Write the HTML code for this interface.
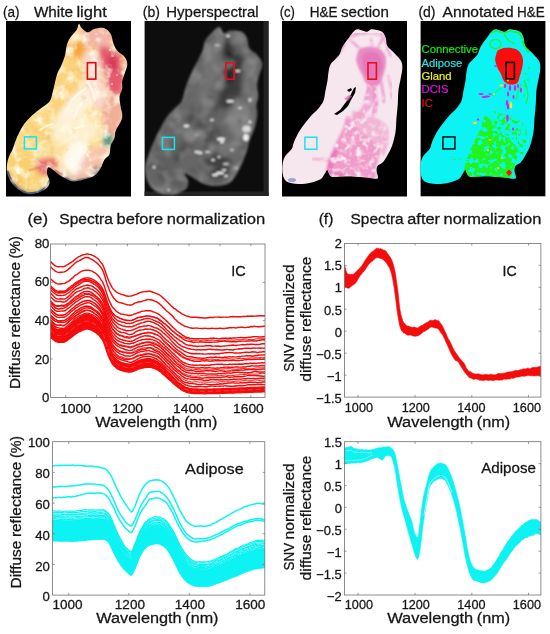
<!DOCTYPE html>
<html><head><meta charset="utf-8"><title>Figure</title>
<style>
html,body{margin:0;padding:0;background:#fff}
svg{display:block}
text{font-family:"Liberation Sans",sans-serif;fill:#161616;stroke:#161616;stroke-width:.28px}
</style></head><body>
<svg width="550" height="634" viewBox="0 0 550 634">
<defs>
<filter id="b1" x="-20%" y="-20%" width="140%" height="140%"><feGaussianBlur stdDeviation="0.6"/></filter>
<filter id="b2" x="-10%" y="-10%" width="120%" height="120%"><feGaussianBlur stdDeviation="1.1"/></filter>
<filter id="b25" x="-30%" y="-30%" width="160%" height="160%"><feGaussianBlur stdDeviation="2.4"/></filter>
<filter id="texa" color-interpolation-filters="sRGB" x="0" y="0" width="100%" height="100%"><feTurbulence type="fractalNoise" baseFrequency="0.09" numOctaves="3" seed="4" result="n"/><feColorMatrix in="n" type="matrix" values="0 0 0 0 1  0 0 0 0 .98  0 0 0 0 .9  2.8 0 0 0 -1.3" result="w"/><feComposite in="w" in2="SourceGraphic" operator="in" result="wi"/><feColorMatrix in="n" type="matrix" values="0 0 0 0 .95  0 0 0 0 .70  0 0 0 0 .38  0 -2.4 0 0 .85" result="d"/><feComposite in="d" in2="SourceGraphic" operator="in" result="di"/><feMerge><feMergeNode in="SourceGraphic"/><feMergeNode in="di"/><feMergeNode in="wi"/></feMerge></filter>
<filter id="texb" color-interpolation-filters="sRGB" x="0" y="0" width="100%" height="100%"><feTurbulence type="fractalNoise" baseFrequency="0.07" numOctaves="2" seed="9" result="n"/><feColorMatrix in="n" type="matrix" values="0 0 0 0 .56  0 0 0 0 .56  0 0 0 0 .56  2.2 0 0 0 -1.0" result="w"/><feComposite in="w" in2="SourceGraphic" operator="in" result="wi"/><feColorMatrix in="n" type="matrix" values="0 0 0 0 .2  0 0 0 0 .2  0 0 0 0 .2  0 -1.8 0 0 .72" result="d"/><feComposite in="d" in2="SourceGraphic" operator="in" result="di"/><feMerge><feMergeNode in="SourceGraphic"/><feMergeNode in="di"/><feMergeNode in="wi"/></feMerge></filter>
<filter id="texc" color-interpolation-filters="sRGB" x="0" y="0" width="100%" height="100%"><feTurbulence type="fractalNoise" baseFrequency="0.16" numOctaves="2" seed="5" result="n"/><feColorMatrix in="n" type="matrix" values="0 0 0 0 .98  0 0 0 0 .93  0 0 0 0 .96  3.2 0 0 0 -1.45" result="w"/><feComposite in="w" in2="SourceGraphic" operator="in" result="wi"/><feMerge><feMergeNode in="SourceGraphic"/><feMergeNode in="wi"/></feMerge></filter>
<filter id="texd" color-interpolation-filters="sRGB" x="0" y="0" width="100%" height="100%"><feTurbulence type="fractalNoise" baseFrequency="0.22" numOctaves="2" seed="11" result="n"/><feColorMatrix in="n" type="matrix" values="0 0 0 0 .05  0 0 0 0 .953  0 0 0 0 .953  14 0 0 0 -7.6" result="w"/><feComposite in="w" in2="SourceGraphic" operator="in" result="wi"/><feMerge><feMergeNode in="SourceGraphic"/><feMergeNode in="wi"/></feMerge></filter>
<filter id="texd2" color-interpolation-filters="sRGB" x="0" y="0" width="100%" height="100%"><feTurbulence type="fractalNoise" baseFrequency="0.25" numOctaves="2" seed="2" result="n"/><feColorMatrix in="n" type="matrix" values="0 0 0 0 .05  0 0 0 0 .953  0 0 0 0 .953  14 0 0 0 -5.6" result="w"/><feComposite in="w" in2="SourceGraphic" operator="in" result="wi"/><feMerge><feMergeNode in="SourceGraphic"/><feMergeNode in="wi"/></feMerge></filter>
<filter id="b3" x="-30%" y="-30%" width="160%" height="160%"><feGaussianBlur stdDeviation="2.2"/></filter>
<filter id="b4" x="-30%" y="-30%" width="160%" height="160%"><feGaussianBlur stdDeviation="4"/></filter>
</defs>
<rect width="550" height="634" fill="#fff"/>
<text x="3.1" y="16.7" font-size="15.2" textLength="16.5" lengthAdjust="spacingAndGlyphs">(a)</text>
<text x="33.9" y="16.7" font-size="15.2" textLength="39.1" lengthAdjust="spacingAndGlyphs">White</text>
<text x="76.4" y="16.7" font-size="15.2" textLength="30.4" lengthAdjust="spacingAndGlyphs">light</text>
<text x="142.8" y="16.7" font-size="15.2" textLength="17.1" lengthAdjust="spacingAndGlyphs">(b)</text>
<text x="166.3" y="16.7" font-size="15.2" textLength="92.4" lengthAdjust="spacingAndGlyphs">Hyperspectral</text>
<text x="279.7" y="16.7" font-size="15.2" textLength="15.3" lengthAdjust="spacingAndGlyphs">(c)</text>
<text x="309.7" y="16.7" font-size="15.2" textLength="27.8" lengthAdjust="spacingAndGlyphs">H&amp;E</text>
<text x="340.9" y="16.7" font-size="15.2" textLength="48.0" lengthAdjust="spacingAndGlyphs">section</text>
<text x="418.4" y="16.7" font-size="15.2" textLength="17.1" lengthAdjust="spacingAndGlyphs">(d)</text>
<text x="442.6" y="16.7" font-size="15.2" textLength="71.0" lengthAdjust="spacingAndGlyphs">Annotated</text>
<text x="517.0" y="16.7" font-size="15.2" textLength="27.7" lengthAdjust="spacingAndGlyphs">H&amp;E</text>
<clipPath id="ca"><path d="M78.9,23.9C79.7,23.5 79.9,26.3 81.4,27.7C82.9,29.1 85.7,32.1 87.8,32.3C89.9,32.5 91.4,29.7 94.2,29.0C97.0,28.3 101.7,27.3 104.4,28.2C107.2,29.1 109.2,31.6 110.7,34.1C112.2,36.6 112.2,40.2 113.3,43.0C114.4,45.8 115.2,48.3 117.1,50.6C119.0,52.9 123.0,54.7 124.7,57.0C126.4,59.3 127.3,61.8 127.3,64.6C127.3,67.3 125.5,70.7 124.7,73.5C123.9,76.3 122.6,78.7 122.2,81.2C121.8,83.8 122.6,86.3 122.2,88.8C121.8,91.3 119.9,93.5 119.6,96.4C119.3,99.3 120.1,102.5 120.5,106.0C120.9,109.5 123.0,113.6 122.2,117.7C121.4,121.8 117.1,127.1 115.8,130.5C114.5,133.9 115.3,135.6 114.5,138.1C113.7,140.6 111.5,142.9 110.7,145.7C109.9,148.4 110.5,152.3 109.4,154.6C108.4,156.9 105.9,157.4 104.4,159.7C102.9,162.0 102.0,166.0 100.5,168.6C99.0,171.2 97.7,173.3 95.4,175.0C93.1,176.7 90.1,177.7 86.5,178.8C82.9,179.9 77.6,181.6 73.8,181.4C70.0,181.2 66.8,179.2 63.6,177.5C60.4,175.8 57.2,172.9 54.7,171.2C52.2,169.5 49.7,167.0 48.4,167.4C47.1,167.8 46.9,171.4 47.1,173.7C47.3,176.0 49.6,179.1 49.6,181.4C49.6,183.7 49.0,185.8 47.1,187.7C45.2,189.6 41.4,191.7 38.2,192.8C35.0,193.9 31.2,194.5 28.0,194.1C24.8,193.7 21.9,192.2 19.1,190.3C16.4,188.4 13.5,185.6 11.5,182.6C9.5,179.6 7.8,175.8 7.1,172.4C6.4,169.0 7.0,165.1 7.4,162.3C7.8,159.5 8.7,157.6 9.5,155.5C10.3,153.4 11.5,151.9 12.5,149.5C13.5,147.1 14.3,143.9 15.5,141.0C16.6,138.1 17.9,135.2 19.4,132.3C20.9,129.4 22.4,126.3 24.5,123.5C26.6,120.7 29.1,118.2 32.0,115.5C34.9,112.8 39.1,109.8 42.0,107.5C44.9,105.2 47.9,103.8 49.6,101.5C51.3,99.2 51.4,96.9 52.2,93.9C53.1,90.9 53.9,87.1 54.7,83.7C55.6,80.3 56.2,76.5 57.3,73.5C58.4,70.5 59.8,68.9 61.1,65.9C62.4,62.9 64.0,59.1 64.9,55.7C65.8,52.3 65.9,48.5 66.7,45.5C67.5,42.5 68.4,40.4 70.0,37.9C71.6,35.4 74.9,32.6 76.4,30.3C77.9,28.0 78.1,24.3 78.9,23.9Z"/></clipPath>
<rect x="6" y="21" width="125" height="175.5" fill="#000"/>
<g clip-path="url(#ca)"><g filter="url(#texa)"><rect x="0" y="15" width="140" height="190" fill="#fbe09a"/>
<g filter="url(#b25)">
<path d="M68.5,42.5C71.7,41.1 82.0,40.8 85.0,42.5C88.0,44.2 87.5,49.9 86.6,52.8C85.7,55.7 82.6,58.8 79.7,59.7C76.8,60.6 71.7,59.5 69.4,58.0C67.1,56.5 66.2,53.6 66.0,51.0C65.8,48.4 65.3,43.9 68.5,42.5Z" fill="#f5a63c" opacity="1"/>
<path d="M81.5,26.0C85.8,23.8 103.6,23.2 109.0,26.0C114.4,28.8 114.6,38.5 114.0,42.5C113.4,46.5 109.9,49.1 105.6,50.0C101.3,50.9 92.1,49.4 88.4,47.6C84.7,45.8 84.4,42.6 83.2,39.0C82.0,35.4 77.2,28.2 81.5,26.0Z" fill="#f2b4aa" opacity="0.95"/>
<path d="M104.0,46.0C106.9,46.2 112.0,49.7 116.0,52.0C120.0,54.3 126.3,56.4 128.0,59.7C129.7,63.0 126.8,67.5 126.0,71.8C125.2,76.1 124.0,81.4 123.0,85.6C122.0,89.8 122.3,95.6 120.0,97.0C117.7,98.4 111.4,97.3 109.0,94.0C106.6,90.7 107.0,82.1 105.6,77.0C104.2,71.9 101.6,67.5 100.4,63.2C99.2,58.9 98.1,53.9 98.7,51.0C99.3,48.1 101.1,45.8 104.0,46.0Z" fill="#e24c68" opacity="0.9"/>
<path d="M108.0,57.0C109.0,55.0 114.5,56.2 116.0,58.0C117.5,59.8 118.0,66.0 117.0,68.0C116.0,70.0 111.5,71.8 110.0,70.0C108.5,68.2 107.0,59.0 108.0,57.0Z" fill="#d02848" opacity="0.7"/>
<path d="M109.0,94.0C112.0,92.7 118.7,93.0 121.0,96.0C123.3,99.0 123.0,106.6 123.0,112.0C123.0,117.4 123.2,124.6 121.0,128.6C118.8,132.6 113.2,137.4 110.0,136.0C106.8,134.6 103.2,125.3 102.0,120.0C100.8,114.7 101.8,108.3 103.0,104.0C104.2,99.7 106.0,95.3 109.0,94.0Z" fill="#f1aa9a" opacity="0.9"/>
<path d="M86.6,50.0C89.1,48.7 95.1,49.5 98.0,54.0C100.9,58.5 102.5,70.2 104.0,77.0C105.5,83.8 107.7,89.5 107.0,95.0C106.3,100.5 102.8,109.2 100.0,110.0C97.2,110.8 92.7,104.2 90.0,100.0C87.3,95.8 85.2,91.3 84.0,85.0C82.8,78.7 82.6,67.8 83.0,62.0C83.4,56.2 84.1,51.3 86.6,50.0Z" fill="#f9d9cb" opacity="1"/>
<path d="M66.0,58.0C70.0,55.5 79.0,56.3 82.0,60.0C85.0,63.7 85.2,74.2 84.0,80.0C82.8,85.8 79.0,90.0 75.0,95.0C71.0,100.0 64.2,106.2 60.0,110.0C55.8,113.8 51.3,120.5 50.0,118.0C48.7,115.5 50.7,102.2 52.0,95.0C53.3,87.8 55.7,81.2 58.0,75.0C60.3,68.8 62.0,60.5 66.0,58.0Z" fill="#fbd27c" opacity="1"/>
<path d="M70.0,98.0C75.0,92.3 82.3,87.7 86.0,88.0C89.7,88.3 92.3,96.0 92.0,100.0C91.7,104.0 88.3,107.8 84.0,112.0C79.7,116.2 70.7,123.3 66.0,125.0C61.3,126.7 55.3,126.5 56.0,122.0C56.7,117.5 65.0,103.7 70.0,98.0Z" fill="#fdf2de" opacity="1"/>
<path d="M52.0,124.0C56.3,120.2 75.7,118.8 83.0,119.0C90.3,119.2 94.5,121.5 96.0,125.0C97.5,128.5 98.5,137.2 92.0,140.0C85.5,142.8 63.7,144.7 57.0,142.0C50.3,139.3 47.7,127.8 52.0,124.0Z" fill="#fdf0ce" opacity="1"/>
<path d="M68.8,146.0C72.6,142.5 82.3,139.6 86.0,143.0C89.7,146.4 92.7,161.2 91.0,166.5C89.3,171.8 80.7,175.4 76.0,175.0C71.3,174.6 64.2,168.8 63.0,164.0C61.8,159.2 65.0,149.5 68.8,146.0Z" fill="#fffbf2" opacity="1"/>
<path d="M87.7,152.0C92.8,146.6 103.8,145.1 106.6,147.5C109.4,149.9 106.7,161.4 104.3,166.5C101.9,171.6 96.7,175.8 92.0,178.0C87.3,180.2 76.7,184.3 76.0,180.0C75.3,175.7 82.6,157.4 87.7,152.0Z" fill="#f6c0ac" opacity="0.9"/>
<path d="M28.6,164.0C31.8,161.8 47.6,157.6 52.3,158.0C57.0,158.4 58.0,163.7 57.0,166.5C56.0,169.3 49.9,174.2 46.0,175.0C42.1,175.8 36.3,172.8 33.4,171.0C30.5,169.2 25.5,166.2 28.6,164.0Z" fill="#e4626a" opacity="0.9"/>
<path d="M9.7,152.0C13.5,148.8 24.3,147.6 28.6,150.0C32.9,152.4 33.7,161.0 35.7,166.5C37.7,172.0 41.7,178.8 40.5,183.0C39.3,187.2 32.9,191.5 28.6,192.0C24.3,192.5 18.3,189.8 14.5,186.0C10.7,182.2 6.8,174.7 6.0,169.0C5.2,163.3 5.9,155.2 9.7,152.0Z" fill="#f9d070" opacity="1"/>
<path d="M22.0,128.0C25.7,122.0 35.0,113.7 40.0,112.0C45.0,110.3 50.3,113.3 52.0,118.0C53.7,122.7 53.7,134.7 50.0,140.0C46.3,145.3 35.3,148.7 30.0,150.0C24.7,151.3 19.3,151.7 18.0,148.0C16.7,144.3 18.3,134.0 22.0,128.0Z" fill="#fbd680" opacity="1"/>
<path d="M6.0,176.0C8.5,176.4 14.6,184.8 19.2,187.7C23.8,190.6 28.9,193.6 33.4,193.6C37.9,193.6 43.6,187.3 46.0,187.7C48.4,188.1 54.0,194.4 48.0,196.0C42.0,197.6 17.3,198.8 10.0,197.0C2.7,195.2 4.7,188.5 4.0,185.0C3.3,181.5 3.5,175.6 6.0,176.0Z" fill="#3a4c6c" opacity="0.9"/>
<path d="M103.0,135.7C104.0,133.3 109.9,131.8 111.4,133.4C112.9,135.0 113.0,142.8 112.0,145.2C111.0,147.5 107.0,149.1 105.5,147.5C104.0,145.9 102.0,138.0 103.0,135.7Z" fill="#4c9488" opacity="0.95"/>
<path d="M93.0,169.0C94.2,167.2 98.6,165.2 99.6,166.5C100.6,167.8 100.2,175.2 99.0,177.0C97.8,178.8 93.5,178.3 92.5,177.0C91.5,175.7 91.8,170.8 93.0,169.0Z" fill="#5a6468" opacity="0.8"/>
<path d="M121.0,59.0C122.0,57.3 126.8,59.3 128.0,61.0C129.2,62.7 129.0,67.3 128.0,69.0C127.0,70.7 123.2,72.7 122.0,71.0C120.8,69.3 120.0,60.7 121.0,59.0Z" fill="#f0c4a0" opacity="0.9"/>
<path d="M62.0,170.0C64.8,170.0 70.7,174.7 75.0,176.0C79.3,177.3 86.2,176.7 88.0,178.0C89.8,179.3 89.0,183.0 86.0,184.0C83.0,185.0 74.7,185.3 70.0,184.0C65.3,182.7 59.3,178.3 58.0,176.0C56.7,173.7 59.2,170.0 62.0,170.0Z" fill="#c8a0a0" opacity="0.7"/>
</g>
<g fill="none" filter="url(#b1)" stroke-linecap="round" stroke-linejoin="round">
<path d="M7.5,172 L11.5,182.6 L19.1,190.3 L28,194.1 L38.2,192.8 L47.1,187.7 L49.6,181.4" stroke="#3c4e70" stroke-width="3" opacity=".85"/>
<path d="M63.6,177.5 L73.8,181.4 L86.5,178.8 L95.4,175 L100.5,168.6" stroke="#56607a" stroke-width="2.4" opacity=".7"/>
<path d="M47.5,170 L49,166.5 L55,170 L63.6,176" stroke="#d85c5c" stroke-width="2.6" opacity=".75"/>
<path d="M30,170 L38,168 L46,164" stroke="#e0706a" stroke-width="2.5" opacity=".35"/>
</g>
<g fill="none" stroke="#fffdf6" stroke-width="2" opacity=".7" filter="url(#b1)" stroke-linecap="round">
<path d="M66.0,112.0L72.0,100.0L80.0,92.0L86.0,88.0"/>
<path d="M74.0,118.0L78.0,108.0L84.0,100.0"/>
<path d="M88.0,82.0L92.0,90.0L95.0,100.0"/>
<path d="M70.0,132.0L76.0,128.0L84.0,126.0"/>
<path d="M78.0,152.0L84.0,150.0L88.0,156.0"/>
<path d="M40.0,130.0L46.0,126.0L52.0,124.0"/>
</g>
<g fill="#fff" opacity=".9">
<circle cx="110" cy="50" r="0.8"/>
<circle cx="113" cy="56" r="0.7"/>
<circle cx="117" cy="75" r="0.7"/>
<circle cx="112" cy="84" r="0.8"/>
<circle cx="100" cy="122" r="0.7"/>
<circle cx="104" cy="126" r="0.6"/>
<circle cx="96" cy="120" r="0.6"/>
<circle cx="20" cy="184" r="0.7"/>
<circle cx="30" cy="188" r="0.7"/>
<circle cx="14" cy="178" r="0.6"/>
<circle cx="60" cy="172" r="0.6"/>
<circle cx="96" cy="34" r="0.7"/>
<circle cx="103" cy="33" r="0.6"/>
<circle cx="90" cy="160" r="0.7"/>
</g>
</g></g>
<rect x="87.4" y="62.7" width="8.4" height="16.4" fill="none" stroke="#dc0a14" stroke-width="1.6"/>
<rect x="24.4" y="136.9" width="12" height="12" fill="none" stroke="#10e6f0" stroke-width="1.5"/>
<clipPath id="cb"><path d="M219.0,26.7C221.1,26.7 222.2,32.5 224.1,33.1C226.0,33.7 227.4,30.7 230.4,30.5C233.4,30.3 239.1,30.5 241.9,31.8C244.7,33.1 245.7,35.4 247.0,38.2C248.3,41.0 247.8,45.6 249.5,48.4C251.2,51.1 255.1,52.2 257.2,54.7C259.3,57.2 261.9,60.4 262.3,63.6C262.7,66.8 260.6,70.4 259.7,73.8C258.8,77.2 257.4,80.2 257.2,84.0C257.0,87.8 258.5,93.2 258.4,96.7C258.3,100.2 256.7,101.9 256.5,105.0C256.3,108.1 257.5,111.5 257.2,115.3C256.9,119.1 255.9,123.8 254.6,128.0C253.3,132.2 250.8,136.9 249.5,140.7C248.2,144.5 248.3,147.1 247.0,150.9C245.7,154.7 243.6,159.8 241.9,163.6C240.2,167.4 238.9,170.5 236.8,173.8C234.7,177.1 232.6,181.2 229.2,183.2C225.8,185.2 220.7,185.9 216.4,186.0C212.2,186.1 207.9,185.6 203.7,184.0C199.5,182.4 194.2,178.2 191.0,176.5C187.8,174.8 185.0,173.0 184.6,173.8C184.2,174.6 188.2,178.9 188.4,181.4C188.6,183.9 188.0,187.0 185.9,189.1C183.8,191.2 179.5,193.3 175.7,194.2C171.9,195.0 166.8,195.0 163.0,194.2C159.2,193.3 155.6,191.6 152.8,189.1C150.1,186.6 147.8,182.7 146.5,178.9C145.2,175.1 144.8,170.4 145.2,166.2C145.6,161.9 147.5,157.7 149.0,153.4C150.5,149.2 152.2,144.9 154.1,140.7C156.0,136.5 158.2,132.2 160.5,128.0C162.8,123.8 165.1,119.1 168.1,115.3C171.1,111.5 176.0,107.6 178.3,105.1C180.6,102.5 180.8,103.1 182.1,100.0C183.4,96.9 184.4,90.9 185.9,86.5C187.4,82.1 189.3,77.6 191.0,73.8C192.7,70.0 194.2,67.4 196.1,63.6C198.0,59.8 200.9,54.7 202.4,50.9C203.9,47.1 203.5,43.7 205.0,40.7C206.5,37.7 209.1,35.4 211.4,33.1C213.7,30.8 216.9,26.7 219.0,26.7Z"/></clipPath>
<clipPath id="cbp"><rect x="144.6" y="21" width="123.9" height="175"/></clipPath>
<rect x="144.6" y="21" width="123.9" height="175" fill="#0d0d0d"/>
<rect x="263.5" y="21" width="5" height="175" fill="#222"/>
<rect x="144.6" y="191.5" width="123.9" height="4.5" fill="#242424"/>
<g clip-path="url(#cbp)"><g filter="url(#b2)"><g clip-path="url(#cb)"><g filter="url(#texb)"><rect x="140" y="15" width="135" height="190" fill="#666666"/>
<g filter="url(#b25)">
<path d="M232,46 L234,62 L233,84 L228,100" fill="none" stroke="#363636" stroke-width="19" stroke-linecap="round" stroke-linejoin="round" opacity=".9"/><path d="M224,100 L212,112 L200,124 L188,140 L178,156" fill="none" stroke="#3a3a3a" stroke-width="6" stroke-linecap="round" stroke-linejoin="round" opacity=".6"/>
<path d="M229,44 L230,80" fill="none" stroke="#1e1e1e" stroke-width="6" stroke-linecap="round" opacity=".8"/>
<ellipse cx="211" cy="64" rx="8" ry="24" fill="#747474" opacity="0.9"/>
<ellipse cx="250" cy="80" rx="8" ry="22" fill="#6e6e6e" opacity="0.9"/>
<ellipse cx="238" cy="40" rx="8" ry="7" fill="#7c7c7c" opacity="0.85"/>
<ellipse cx="204" cy="96" rx="8" ry="12" fill="#727272" opacity="0.8"/>
<ellipse cx="240" cy="120" rx="12" ry="18" fill="#828282" opacity="0.9"/>
<ellipse cx="232" cy="150" rx="10" ry="12" fill="#6a6a6a" opacity="0.8"/>
<ellipse cx="166" cy="162" rx="12" ry="22" fill="#5c5c5c" opacity="0.9"/>
<ellipse cx="186" cy="130" rx="8" ry="10" fill="#6c6c6c" opacity="0.8"/>
<ellipse cx="212" cy="134" rx="9" ry="9" fill="#484848" opacity="0.75"/>
<ellipse cx="217" cy="166" rx="15" ry="13" fill="#3c3c3c" opacity="0.85"/>
<ellipse cx="180" cy="182" rx="6" ry="6" fill="#505050" opacity="0.6"/>
</g>
<g filter="url(#b1)" fill="#f0f0f0">
<ellipse cx="246.5" cy="129" rx="4.2" ry="3.6"/>
<ellipse cx="246" cy="137.5" rx="2.8" ry="3.6"/>
<ellipse cx="250" cy="122" rx="1.5" ry="1.5"/>
<ellipse cx="230.4" cy="101.2" rx="4" ry="1.3"/>
<ellipse cx="237.6" cy="71" rx="3" ry="1"/>
<ellipse cx="217.5" cy="45.3" rx="3" ry="1"/>
<ellipse cx="226" cy="164" rx="3" ry="1.5"/>
<ellipse cx="220" cy="173" rx="4" ry="1.3"/>
<ellipse cx="200" cy="153" rx="2.5" ry="1.2"/>
<ellipse cx="186" cy="126" rx="2" ry="1.2"/>
<ellipse cx="197" cy="135" rx="2" ry="1"/>
<ellipse cx="154" cy="167" rx="1.5" ry="1.5"/>
<ellipse cx="168.7" cy="190" rx="1.5" ry="1.2"/>
<ellipse cx="228" cy="36" rx="2" ry="1"/>
<ellipse cx="208" cy="152" rx="3" ry="1"/>
<ellipse cx="222" cy="142" rx="2" ry="1.2"/>
<ellipse cx="236" cy="168" rx="2" ry="1.5"/>
<ellipse cx="240" cy="108" rx="2" ry="1"/>
<ellipse cx="212" cy="120" rx="2" ry="1"/>
<ellipse cx="232" cy="150" rx="2" ry="1"/>
<ellipse cx="250" cy="100" rx="1.5" ry="2"/>
<ellipse cx="213" cy="160" rx="2" ry="1"/>
<ellipse cx="219" cy="157" rx="1.5" ry="1"/>
<ellipse cx="224" cy="170" rx="2.5" ry="1"/>
<ellipse cx="215" cy="175" rx="3" ry="1.2"/>
<ellipse cx="226" cy="176" rx="2" ry="1"/>
<ellipse cx="221" cy="139" rx="4" ry="1.5"/>
<ellipse cx="198" cy="152" rx="3.5" ry="1.2"/>
<ellipse cx="186.5" cy="126" rx="3" ry="1.2"/>
</g></g></g></g></g>
<rect x="225.8" y="62.8" width="8.4" height="16.4" fill="none" stroke="#e60f18" stroke-width="1.6"/>
<rect x="162.4" y="137.4" width="12" height="12" fill="none" stroke="#10e6f0" stroke-width="1.5"/>
<clipPath id="cc"><path d="M357.8,29.3C360.0,29.3 364.4,31.8 366.7,31.8C369.0,31.8 369.2,29.3 371.8,29.3C374.4,29.3 379.7,30.3 382.0,31.8C384.3,33.3 384.9,35.9 385.8,38.2C386.7,40.5 385.6,43.3 387.1,45.8C388.6,48.3 392.4,50.8 394.7,53.4C397.0,56.0 399.8,58.5 401.1,61.1C402.4,63.7 402.4,65.9 402.3,68.7C402.2,71.5 401.4,74.5 400.8,78.0C400.2,81.5 399.0,85.7 398.5,90.0C398.0,94.3 398.1,99.3 397.8,104.0C397.5,108.7 396.9,113.3 396.5,118.0C396.1,122.7 396.2,127.3 395.5,132.0C394.8,136.7 393.4,142.0 392.0,146.0C390.6,150.0 388.6,153.2 387.0,156.0C385.4,158.8 384.2,160.8 382.6,162.5C381.0,164.2 378.5,164.6 377.5,166.0C376.5,167.4 376.5,168.9 376.5,171.0C376.5,173.1 379.1,177.4 377.5,178.5C375.9,179.6 370.6,177.9 366.7,177.6C362.8,177.2 358.2,176.6 354.0,176.4C349.8,176.2 345.1,176.4 341.3,176.4C337.5,176.4 333.4,177.5 331.1,176.4C328.8,175.3 328.4,170.4 327.3,170.0C326.2,169.6 325.8,172.3 324.7,173.8C323.6,175.3 323.2,177.4 320.9,178.9C318.6,180.4 314.5,181.8 310.7,182.7C306.9,183.5 302.0,184.2 298.0,184.0C294.0,183.8 289.1,183.1 286.5,181.4C283.9,179.7 283.3,176.8 282.7,173.8C282.1,170.8 282.3,166.6 282.7,163.6C283.1,160.6 283.8,158.4 285.3,156.0C286.8,153.6 290.1,151.5 291.6,149.1C293.1,146.7 292.9,144.4 294.2,141.4C295.5,138.4 297.4,134.5 299.3,131.3C301.2,128.1 303.5,125.2 305.6,122.4C307.7,119.6 309.9,117.0 312.0,114.7C314.1,112.4 316.5,110.7 318.4,108.4C320.3,106.1 322.3,103.7 323.5,100.7C324.7,97.7 324.8,93.9 325.5,90.5C326.2,87.1 327.0,83.5 327.5,80.4C328.0,77.3 328.0,74.7 328.5,72.0C329.0,69.3 329.4,66.6 330.5,64.5C331.6,62.4 333.5,61.2 335.0,59.5C336.5,57.8 338.4,56.3 339.6,54.4C340.8,52.5 341.1,49.9 342.0,48.0C342.9,46.1 343.8,44.8 345.0,43.0C346.2,41.2 348.1,38.9 349.5,37.0C350.9,35.1 352.1,33.1 353.5,31.8C354.9,30.5 355.6,29.3 357.8,29.3Z"/></clipPath>
<rect x="282" y="21" width="125" height="175.5" fill="#000"/>
<g clip-path="url(#cc)"><rect x="275" y="15" width="135" height="190" fill="#f6e7ef"/>
<g filter="url(#texc)">
<g filter="url(#b2)">
<g fill="none" stroke="#ec94c8" stroke-linecap="round">
<path d="M374.0,84.0L375.0,94.0L376.0,104.0L374.0,114.0" stroke-width="4"/>
<path d="M369.0,84.0L367.0,94.0L364.0,106.0" stroke-width="2.5"/>
<path d="M381.0,82.0L383.0,92.0L384.0,102.0" stroke-width="2.5"/>
<path d="M362.0,52.0L356.0,45.0L350.0,40.0" stroke-width="2.2"/>
<path d="M378.0,48.0L381.0,42.0L383.0,37.0" stroke-width="2"/>
<path d="M372.0,47.0L371.0,39.0" stroke-width="1.6"/>
<path d="M350.0,37.0L358.0,33.5L366.0,33.0L374.0,33.0L381.0,34.5L385.5,40.0" stroke-width="2.6"/>
<path d="M386.0,42.0L387.5,50.0L391.0,56.0" stroke-width="2"/>
<path d="M388.0,76.0L391.0,86.0L392.0,98.0" stroke-width="1.8"/>
<path d="M345.0,44.0L340.0,52.0L336.0,58.0" stroke-width="1.5"/>
</g>
<path d="M373,82 L372,94 L368,106 L360,114 L352,122" fill="none" stroke="#ee98c8" stroke-width="7" stroke-linecap="round" stroke-linejoin="round" opacity=".8"/>
<path d="M348.0,116.0C345.0,115.5 344.8,124.0 343.0,128.0C341.2,132.0 339.0,135.8 337.0,140.0C335.0,144.2 332.7,148.8 331.0,153.0C329.3,157.2 327.7,161.3 327.0,165.0C326.3,168.7 324.8,173.0 327.0,175.0C329.2,177.0 335.2,176.6 340.0,177.0C344.8,177.4 350.2,177.3 356.0,177.5C361.8,177.7 371.7,179.6 375.0,178.0C378.3,176.4 375.3,171.3 376.0,168.0C376.7,164.7 378.3,161.2 379.0,158.0C379.7,154.8 381.2,152.0 380.0,149.0C378.8,146.0 375.2,143.0 372.0,140.0C368.8,137.0 365.0,135.0 361.0,131.0C357.0,127.0 351.0,116.5 348.0,116.0Z" fill="#f09cca"/>
<path d="M336,150 L331,162 L330,174 L345,176" fill="none" stroke="#e870b4" stroke-width="5" stroke-linejoin="round" opacity=".8"/>
<path d="M352.0,112.0C352.8,109.2 361.3,112.7 366.0,114.0C370.7,115.3 376.3,117.7 380.0,120.0C383.7,122.3 386.7,124.3 388.0,128.0C389.3,131.7 388.7,137.3 388.0,142.0C387.3,146.7 385.3,154.8 384.0,156.0C382.7,157.2 382.0,151.7 380.0,149.0C378.0,146.3 375.2,143.0 372.0,140.0C368.8,137.0 364.3,135.7 361.0,131.0C357.7,126.3 351.2,114.8 352.0,112.0Z" fill="#f0a6cc" opacity=".75"/>
<path d="M312,159 L322,159.5 L331,160" fill="none" stroke="#f0a0c8" stroke-width="2"/>
</g></g>
<g filter="url(#b2)"><path d="M359.5,49.5C361.2,48.3 364.7,47.0 367.8,46.8C370.9,46.6 375.2,46.9 378.0,48.1C380.8,49.3 383.1,51.9 384.4,54.0C385.7,56.1 385.9,58.3 386.0,60.9C386.1,63.5 385.6,66.8 385.0,69.5C384.4,72.2 383.5,74.6 382.7,77.0C381.9,79.4 381.7,82.5 380.0,84.0C378.3,85.5 375.1,86.3 372.7,86.0C370.3,85.7 367.3,84.3 365.5,82.4C363.7,80.5 363.2,77.0 362.0,74.5C360.8,72.0 359.3,69.9 358.3,67.5C357.3,65.1 356.4,62.4 356.2,60.1C356.0,57.9 356.8,55.8 357.3,54.0C357.9,52.2 357.8,50.7 359.5,49.5Z" fill="#ea8cc4"/>
<path d="M363.0,55.0C365.0,51.9 372.8,51.3 376.0,52.5C379.2,53.7 381.3,58.2 382.0,62.0C382.7,65.8 381.7,72.0 380.0,75.0C378.3,78.0 374.7,80.7 372.0,80.0C369.3,79.3 365.5,75.2 364.0,71.0C362.5,66.8 361.0,58.1 363.0,55.0Z" fill="#e274b8" opacity=".85"/></g>
<path d="M334,114 L340,110 L346,102 L350,96 L354,88 L356,87 L355,93 L351,100 L348,106 L343,111 L337,115Z" fill="#000"/>
<path d="M352,90 L349,92 L347,90 L351,88Z" fill="#000"/>
<path d="M344,99 L349,95 L352,96 L348,101Z" fill="#e060a8" opacity=".7"/>
<ellipse cx="292" cy="180" rx="4" ry="2" fill="#6a78c0" opacity=".6" filter="url(#b1)"/>
</g>
<rect x="368" y="62.8" width="8.4" height="16.4" fill="none" stroke="#e60f18" stroke-width="1.6"/>
<rect x="304.9" y="137.2" width="12" height="12" fill="none" stroke="#10e6f0" stroke-width="1.5"/>
<rect x="420.6" y="21" width="124.8" height="175.3" fill="#000"/>
<g transform="translate(138,0)"><g clip-path="url(#cc)"><rect x="275" y="15" width="135" height="190" fill="#0cf3f3"/>
<g filter="url(#texd)">
<path d="M348.0,116.0C345.0,115.5 344.8,124.0 343.0,128.0C341.2,132.0 339.0,135.8 337.0,140.0C335.0,144.2 332.7,148.8 331.0,153.0C329.3,157.2 327.7,161.3 327.0,165.0C326.3,168.7 324.8,173.0 327.0,175.0C329.2,177.0 335.2,176.6 340.0,177.0C344.8,177.4 350.2,177.3 356.0,177.5C361.8,177.7 371.7,179.6 375.0,178.0C378.3,176.4 375.3,171.3 376.0,168.0C376.7,164.7 378.3,161.2 379.0,158.0C379.7,154.8 381.2,152.0 380.0,149.0C378.8,146.0 375.2,143.0 372.0,140.0C368.8,137.0 365.0,135.0 361.0,131.0C357.0,127.0 351.0,116.5 348.0,116.0Z" fill="#22f31a"/>
</g>
<g filter="url(#texd2)">
<path d="M352.0,112.0C352.8,109.2 361.3,112.7 366.0,114.0C370.7,115.3 376.3,117.7 380.0,120.0C383.7,122.3 386.7,124.3 388.0,128.0C389.3,131.7 388.7,137.3 388.0,142.0C387.3,146.7 385.3,154.8 384.0,156.0C382.7,157.2 382.0,151.7 380.0,149.0C378.0,146.3 375.2,143.0 372.0,140.0C368.8,137.0 364.3,135.7 361.0,131.0C357.7,126.3 351.2,114.8 352.0,112.0Z" fill="#22f31a"/>
<path d="M311,158 L322,159.5 L332,160" fill="none" stroke="#22f31a" stroke-width="2.2"/>
</g>
<path d="M350,34 L358,31 L366,33 L372,31 L381,33 L385,39 L386,46" fill="none" stroke="#22f31a" stroke-width="1.6"/>
<path d="M386,80 L389,88 L390,96 L388,104" fill="none" stroke="#22f31a" stroke-width="1.2"/>
<path d="M366,34 L370,40 L377,44" fill="none" stroke="#22f31a" stroke-width="1.2"/>
<path d="M383,84 L380,92 L378,100" fill="none" stroke="#22f31a" stroke-width="1"/>
<ellipse cx="357.5" cy="44" rx="5.5" ry="4.5" fill="none" stroke="#22f31a" stroke-width="1.2"/>
<path d="M384,41 L387,46 L390.5,52.5" fill="none" stroke="#22f31a" stroke-width="2"/>
<path d="M352,96 L358,92 L363,88" fill="none" stroke="#22f31a" stroke-width="1"/>
<circle cx="388" cy="74" r=".9" fill="#22f31a"/>
<circle cx="390" cy="80" r=".9" fill="#22f31a"/>
<circle cx="387" cy="86" r=".9" fill="#22f31a"/>
<circle cx="391" cy="68" r=".9" fill="#22f31a"/>
<circle cx="386" cy="96" r=".9" fill="#22f31a"/>
<path d="M360.1,50.3C361.7,49.2 364.9,48.0 367.8,47.8C370.7,47.6 375.0,48.0 377.6,49.1C380.2,50.2 382.2,52.4 383.4,54.4C384.6,56.4 384.9,58.5 385.0,60.9C385.1,63.3 384.4,66.5 383.9,69.1C383.3,71.7 382.5,74.2 381.7,76.5C380.9,78.8 380.8,81.7 379.3,83.0C377.8,84.3 374.9,84.9 372.7,84.6C370.5,84.3 367.8,83.2 366.2,81.4C364.6,79.6 364.0,76.3 362.9,74.0C361.8,71.7 360.2,69.8 359.3,67.5C358.4,65.2 357.4,62.3 357.2,60.1C357.0,57.9 357.8,56.0 358.3,54.4C358.8,52.8 358.5,51.4 360.1,50.3Z" fill="#fb0d0d"/>
<path d="M368.5,172.5 L371,170 L373.8,172.5 L371,175.6Z" fill="#fb0d0d" stroke="#fb0d0d" stroke-width="1" stroke-linejoin="round"/>
<ellipse cx="367" cy="86" rx="1.3" ry="2" fill="#f010f0"/>
<ellipse cx="372" cy="88" rx="1.2" ry="3" fill="#f010f0"/>
<ellipse cx="377" cy="88" rx="1.2" ry="3" fill="#f010f0"/>
<ellipse cx="370" cy="94" rx="1" ry="2.5" fill="#f010f0"/>
<ellipse cx="375.5" cy="97" rx="1" ry="2" fill="#f010f0"/>
<ellipse cx="380" cy="86" rx="1" ry="2" fill="#f010f0"/>
<ellipse cx="369" cy="103" rx="1.2" ry="3" fill="#f010f0"/>
<ellipse cx="343" cy="94" rx="2.5" ry="0.9" fill="#f010f0"/>
<ellipse cx="349" cy="96.5" rx="3" ry="0.9" fill="#f010f0"/>
<ellipse cx="370" cy="106.5" rx="1.1" ry="3" fill="#f010f0"/>
<ellipse cx="369.5" cy="118" rx="1.2" ry="3.5" fill="#f010f0"/>
<ellipse cx="346" cy="97" rx="2.5" ry="1" fill="#f010f0"/>
<ellipse cx="352" cy="94" rx="1.5" ry="0.8" fill="#f010f0"/>
<ellipse cx="375" cy="129" rx="1" ry="1.5" fill="#f010f0"/>
<ellipse cx="358" cy="66" rx="2" ry="0.8" fill="#f010f0"/>
<ellipse cx="383" cy="90" rx="1" ry="2.5" fill="#f010f0"/>
<ellipse cx="340" cy="119.6" rx="1.2" ry="1" fill="#f010f0"/>
<ellipse cx="373" cy="105" rx="1.2" ry="3.5" fill="#f4f410"/>
<ellipse cx="363.5" cy="85.5" rx="2.2" ry="1" fill="#f4f410"/>
<ellipse cx="337" cy="123" rx="2" ry="1.2" fill="#f4f410"/>
<ellipse cx="356" cy="94" rx="1" ry="1" fill="#f4f410"/>
<ellipse cx="352" cy="140" rx="1.5" ry="1" fill="#f4f410"/>
<ellipse cx="360" cy="168" rx="1.5" ry="1" fill="#f4f410"/>
<ellipse cx="370" cy="80" rx="1" ry="1.5" fill="#f4f410"/>
<ellipse cx="350" cy="150" rx="1" ry="1.5" fill="#f4f410"/>
<ellipse cx="364" cy="158" rx="1.5" ry="0.8" fill="#f4f410"/>
</g></g>
<rect x="506" y="62.4" width="8.4" height="16.4" fill="none" stroke="#000" stroke-width="1.6"/>
<rect x="442.9" y="136.9" width="12" height="12" fill="none" stroke="#000" stroke-width="1.4"/>
<text x="421.5" y="53.4" font-size="11.3" style="fill:#10f010;stroke:#10f010;stroke-width:.2px">Connective</text>
<text x="421.5" y="66.7" font-size="11.3" style="fill:#20e8e8;stroke:#20e8e8;stroke-width:.2px">Adipose</text>
<text x="421.5" y="80.1" font-size="11.3" style="fill:#f0f010;stroke:#f0f010;stroke-width:.2px">Gland</text>
<text x="421.5" y="93.4" font-size="11.3" style="fill:#e010e0;stroke:#e010e0;stroke-width:.2px">DCIS</text>
<text x="421.5" y="106.8" font-size="11.3" style="fill:#f01010;stroke:#f01010;stroke-width:.2px">IC</text>
<text x="27.5" y="224.4" font-size="15.2" textLength="20.6" lengthAdjust="spacingAndGlyphs">(e)</text>
<text x="59.3" y="224.4" font-size="15.2" textLength="53.6" lengthAdjust="spacingAndGlyphs">Spectra</text>
<text x="116.5" y="224.4" font-size="15.2" textLength="46.6" lengthAdjust="spacingAndGlyphs">before</text>
<text x="166.7" y="224.4" font-size="15.2" textLength="98.6" lengthAdjust="spacingAndGlyphs">normalization</text>
<text x="318.7" y="224.2" font-size="15.2" textLength="14.7" lengthAdjust="spacingAndGlyphs">(f)</text>
<text x="350.5" y="224.2" font-size="15.2" textLength="53.2" lengthAdjust="spacingAndGlyphs">Spectra</text>
<text x="407.3" y="224.2" font-size="15.2" textLength="32.6" lengthAdjust="spacingAndGlyphs">after</text>
<text x="443.5" y="224.2" font-size="15.2" textLength="97.8" lengthAdjust="spacingAndGlyphs">normalization</text>
<clipPath id="pe1"><rect x="50.6" y="244.0" width="214.4" height="153.4"/></clipPath>
<g clip-path="url(#pe1)"><path d="M50.6,323.7L51.8,325.2L53.1,326.5L54.3,327.7L55.5,328.6L56.8,329.3L58.0,329.7L59.2,329.7L60.5,329.7L61.7,329.7L62.9,329.7L64.2,329.5L65.4,328.9L66.6,328.0L67.9,326.9L69.1,325.8L70.3,324.8L71.5,323.7L72.8,322.5L74.0,321.3L75.2,320.2L76.5,319.3L77.7,318.5L78.9,317.7L80.2,317.0L81.4,316.3L82.6,315.6L83.9,315.1L85.1,314.7L86.3,314.4L87.6,314.4L88.8,314.6L90.0,315.0L91.3,315.5L92.5,316.2L93.7,317.1L95.0,317.9L96.2,318.9L97.4,319.9L98.7,321.3L99.9,322.9L101.1,324.8L102.4,326.9L103.6,329.6L104.8,333.4L106.0,337.8L107.3,342.1L108.5,345.8L109.7,348.9L111.0,351.8L112.2,354.4L113.4,356.3L114.7,357.7L115.9,358.9L117.1,360.0L118.4,360.9L119.6,361.6L120.8,362.1L122.1,362.5L123.3,362.9L124.5,363.3L125.8,363.6L127.0,363.8L128.2,364.0L129.5,364.1L130.7,364.1L131.9,363.8L133.2,363.4L134.4,362.8L135.6,362.1L136.9,361.4L138.1,360.8L139.3,360.3L140.5,359.9L141.8,359.6L143.0,359.3L144.2,359.0L145.5,358.8L146.7,358.6L147.9,358.5L149.2,358.5L150.4,358.6L151.6,359.0L152.9,359.4L154.1,359.9L155.3,360.5L156.6,361.1L157.8,361.8L159.0,362.7L160.3,363.7L161.5,364.9L162.7,366.1L164.0,367.5L165.2,368.8L166.4,370.1L167.7,371.4L168.9,372.6L170.1,373.8L171.4,375.1L172.6,376.5L173.8,377.8L175.1,379.1L176.3,380.3L177.5,381.4L178.7,382.4L180.0,383.4L181.2,384.3L182.4,385.2L183.7,386.1L184.9,386.8L186.1,387.3L187.4,387.7L188.6,388.1L189.8,388.3L191.1,388.6L192.3,388.8L193.5,388.9L194.8,389.0L196.0,389.0L197.2,389.0L198.5,389.1L199.7,389.1L200.9,389.1L202.2,389.1L203.4,389.1L204.6,389.2L205.9,389.2L207.1,389.1L208.3,389.1L209.6,389.1L210.8,389.1L212.0,389.1L213.2,389.0L214.5,389.0L215.7,388.9L216.9,388.9L218.2,388.9L219.4,388.8L220.6,388.8L221.9,388.7L223.1,388.7L224.3,388.6L225.6,388.6L226.8,388.5L228.0,388.5L229.3,388.5L230.5,388.4L231.7,388.4L233.0,388.3L234.2,388.3L235.4,388.2L236.7,388.2L237.9,388.1L239.1,388.0L240.4,388.0L241.6,387.9L242.8,387.9L244.1,387.8L245.3,387.8L246.5,387.7L247.7,387.7L249.0,387.6L250.2,387.5L251.4,387.5L252.7,387.4L253.9,387.4L255.1,387.3L256.4,387.3L257.6,387.2L258.8,387.2L260.1,387.1L261.3,387.1L262.5,387.0L263.8,387.0L265.0,386.9L265.0,391.8L263.8,391.9L262.5,391.9L261.3,392.0L260.1,392.0L258.8,392.0L257.6,392.1L256.4,392.1L255.1,392.2L253.9,392.2L252.7,392.3L251.4,392.3L250.2,392.4L249.0,392.4L247.7,392.5L246.5,392.5L245.3,392.6L244.1,392.6L242.8,392.7L241.6,392.7L240.4,392.8L239.1,392.8L237.9,392.8L236.7,392.9L235.4,392.9L234.2,393.0L233.0,393.0L231.7,393.1L230.5,393.1L229.3,393.2L228.0,393.2L226.8,393.2L225.6,393.3L224.3,393.3L223.1,393.3L221.9,393.4L220.6,393.4L219.4,393.5L218.2,393.5L216.9,393.5L215.7,393.6L214.5,393.6L213.2,393.6L212.0,393.7L210.8,393.7L209.6,393.7L208.3,393.7L207.1,393.7L205.9,393.8L204.6,393.8L203.4,393.8L202.2,393.7L200.9,393.7L199.7,393.7L198.5,393.7L197.2,393.7L196.0,393.6L194.8,393.6L193.5,393.5L192.3,393.4L191.1,393.3L189.8,393.1L188.6,392.8L187.4,392.5L186.1,392.2L184.9,391.7L183.7,391.1L182.4,390.4L181.2,389.6L180.0,388.8L178.7,387.9L177.5,387.1L176.3,386.1L175.1,385.0L173.8,383.9L172.6,382.8L171.4,381.6L170.1,380.5L168.9,379.4L167.7,378.4L166.4,377.3L165.2,376.1L164.0,375.0L162.7,373.9L161.5,372.8L160.3,371.8L159.0,370.9L157.8,370.1L156.6,369.5L155.3,369.0L154.1,368.5L152.9,368.0L151.6,367.7L150.4,367.4L149.2,367.3L147.9,367.3L146.7,367.4L145.5,367.5L144.2,367.7L143.0,368.0L141.8,368.2L140.5,368.5L139.3,368.8L138.1,369.2L136.9,369.8L135.6,370.4L134.4,371.0L133.2,371.5L131.9,371.9L130.7,372.1L129.5,372.1L128.2,372.0L127.0,371.9L125.8,371.7L124.5,371.4L123.3,371.1L122.1,370.7L120.8,370.4L119.6,369.9L118.4,369.4L117.1,368.6L115.9,367.6L114.7,366.6L113.4,365.3L112.2,363.7L111.0,361.5L109.7,359.0L108.5,356.3L107.3,353.1L106.0,349.4L104.8,345.6L103.6,342.3L102.4,340.0L101.1,338.1L99.9,336.5L98.7,335.1L97.4,333.9L96.2,333.0L95.0,332.2L93.7,331.5L92.5,330.8L91.3,330.1L90.0,329.6L88.8,329.3L87.6,329.1L86.3,329.2L85.1,329.4L83.9,329.8L82.6,330.2L81.4,330.8L80.2,331.4L78.9,332.0L77.7,332.7L76.5,333.4L75.2,334.2L74.0,335.2L72.8,336.2L71.5,337.2L70.3,338.2L69.1,339.0L67.9,339.9L66.6,340.9L65.4,341.7L64.2,342.2L62.9,342.4L61.7,342.4L60.5,342.4L59.2,342.4L58.0,342.3L56.8,342.0L55.5,341.4L54.3,340.6L53.1,339.6L51.8,338.5L50.6,337.2Z" fill="#f40b0b" stroke="#f40b0b" stroke-width="1.3"/>
<path d="M50.6,329.9L51.8,331.2L53.1,332.5L54.3,333.6L55.5,334.5L56.8,335.1L58.0,335.4L59.2,335.5L60.5,335.5L61.7,335.5L62.9,335.5L64.2,335.3L65.4,334.7L66.6,333.8L67.9,332.8L69.1,331.8L70.3,330.9L71.5,329.9L72.8,328.7L74.0,327.6L75.2,326.6L76.5,325.7L77.7,324.9L78.9,324.2L80.2,323.5L81.4,322.9L82.6,322.3L83.9,321.8L85.1,321.4L86.3,321.1L87.6,321.1L88.8,321.3L90.0,321.6L91.3,322.2L92.5,322.8L93.7,323.6L95.0,324.4L96.2,325.3L97.4,326.3L98.7,327.6L99.9,329.1L101.1,330.8L102.4,332.8L103.6,335.4L104.8,339.0L106.0,343.1L107.3,347.1L108.5,350.6L109.7,353.5L111.0,356.2L112.2,358.6L113.4,360.4L114.7,361.7L115.9,362.9L117.1,363.9L118.4,364.8L119.6,365.4L120.8,365.9L122.1,366.3L123.3,366.6L124.5,367.0L125.8,367.3L127.0,367.5L128.2,367.7L129.5,367.7L130.7,367.7L131.9,367.5L133.2,367.1L134.4,366.5L135.6,365.9L136.9,365.2L138.1,364.6L139.3,364.2L140.5,363.8L141.8,363.5L143.0,363.3L144.2,363.0L145.5,362.8L146.7,362.6L147.9,362.5L149.2,362.5L150.4,362.6L151.6,362.9L152.9,363.3L154.1,363.8L155.3,364.4L156.6,364.9L157.8,365.6L159.0,366.4L160.3,367.4L161.5,368.5L162.7,369.7L164.0,370.9L165.2,372.1L166.4,373.4L167.7,374.6L168.9,375.7L170.1,376.9L171.4,378.1L172.6,379.3L173.8,380.6L175.1,381.8L176.3,382.9L177.5,384.0L178.7,384.9L180.0,385.8L181.2,386.7L182.4,387.6L183.7,388.4L184.9,389.0L186.1,389.6L187.4,389.9L188.6,390.2L189.8,390.5L191.1,390.7L192.3,390.9L193.5,391.0L194.8,391.1L196.0,391.1L197.2,391.2L198.5,391.2L199.7,391.2L200.9,391.2L202.2,391.2L203.4,391.3L204.6,391.3L205.9,391.3L207.1,391.3L208.3,391.2L209.6,391.2L210.8,391.2L212.0,391.2L213.2,391.1L214.5,391.1L215.7,391.1L216.9,391.0L218.2,391.0L219.4,390.9L220.6,390.9L221.9,390.9L223.1,390.8L224.3,390.8L225.6,390.7L226.8,390.7L228.0,390.7L229.3,390.6L230.5,390.6L231.7,390.5L233.0,390.5L234.2,390.4L235.4,390.4L236.7,390.3L237.9,390.3L239.1,390.2L240.4,390.2L241.6,390.1L242.8,390.1L244.1,390.0L245.3,390.0L246.5,389.9L247.7,389.9L249.0,389.8L250.2,389.8L251.4,389.7L252.7,389.7L253.9,389.6L255.1,389.6L256.4,389.5L257.6,389.5L258.8,389.4L260.1,389.4L261.3,389.3L262.5,389.3L263.8,389.2L265.0,389.2" fill="none" stroke="#fff" stroke-width=".35" opacity=".6" stroke-dasharray="5 3"/>
<path d="M50.6,261.6L51.8,262.9L53.1,264.1L54.3,265.2L55.5,266.0L56.8,266.4L58.0,266.7L59.2,266.8L60.5,266.6L61.7,266.6L62.9,266.7L64.2,266.6L65.4,266.0L66.6,265.2L67.9,264.4L69.1,263.6L70.3,262.9L71.5,262.1L72.8,261.3L74.0,260.2L75.2,259.3L76.5,258.3L77.7,257.4L78.9,256.6L80.2,256.2L81.4,255.5L82.6,255.0L83.9,254.6L85.1,254.4L86.3,253.9L87.6,253.9L88.8,254.2L90.0,254.4L91.3,254.8L92.5,255.4L93.7,255.8L95.0,256.6L96.2,257.5L97.4,258.3L98.7,259.4L99.9,261.1L101.1,262.6L102.4,264.2L103.6,266.7L104.8,269.9L106.0,273.5L107.3,277.3L108.5,280.3L109.7,282.7L111.0,285.4L112.2,287.6L113.4,289.1L114.7,290.6L115.9,291.6L117.1,292.4L118.4,293.1L119.6,293.6L120.8,294.1L122.1,294.5L123.3,294.9L124.5,295.3L125.8,295.8L127.0,296.0L128.2,296.2L129.5,296.1L130.7,296.0L131.9,295.8L133.2,295.4L134.4,294.8L135.6,294.6L136.9,294.2L138.1,293.5L139.3,292.9L140.5,292.5L141.8,292.1L143.0,291.8L144.2,291.6L145.5,291.4L146.7,291.4L147.9,291.3L149.2,291.2L150.4,291.3L151.6,291.7L152.9,292.2L154.1,292.6L155.3,293.2L156.6,293.6L157.8,294.1L159.0,294.7L160.3,295.5L161.5,296.5L162.7,297.6L164.0,298.8L165.2,299.8L166.4,301.2L167.7,302.2L168.9,303.5L170.1,304.8L171.4,306.0L172.6,307.1L173.8,308.3L175.1,308.9L176.3,309.8L177.5,310.8L178.7,311.6L180.0,312.3L181.2,313.4L182.4,314.1L183.7,314.7L184.9,315.3L186.1,315.9L187.4,316.2L188.6,316.5L189.8,316.9L191.1,317.2L192.3,317.3L193.5,317.3L194.8,317.3L196.0,317.2L197.2,317.4L198.5,317.3L199.7,317.7L200.9,317.8L202.2,317.8L203.4,318.0L204.6,317.9L205.9,317.9L207.1,317.7L208.3,317.8L209.6,317.4L210.8,317.5L212.0,317.4L213.2,317.4L214.5,317.1L215.7,317.1L216.9,317.1L218.2,316.9L219.4,317.2L220.6,317.2L221.9,317.2L223.1,317.1L224.3,317.1L225.6,317.1L226.8,317.3L228.0,317.1L229.3,317.0L230.5,316.8L231.7,316.7L233.0,316.6L234.2,316.7L235.4,316.7L236.7,316.8L237.9,316.8L239.1,316.7L240.4,316.7L241.6,316.7L242.8,316.5L244.1,316.5L245.3,316.5L246.5,316.3L247.7,316.0L249.0,316.3L250.2,316.2L251.4,316.1L252.7,316.3L253.9,316.3L255.1,316.1L256.4,316.0L257.6,316.0L258.8,315.7L260.1,315.8L261.3,315.8L262.5,315.9L263.8,315.7L265.0,315.7" fill="none" stroke="#f40b0b" stroke-width="1.45"/>
<path d="M50.6,266.7L51.8,268.0L53.1,269.3L54.3,270.3L55.5,271.4L56.8,271.9L58.0,272.3L59.2,272.4L60.5,272.3L61.7,272.2L62.9,272.1L64.2,271.9L65.4,271.4L66.6,270.6L67.9,269.6L69.1,268.6L70.3,267.7L71.5,266.5L72.8,265.2L74.0,264.0L75.2,263.0L76.5,262.1L77.7,261.3L78.9,260.8L80.2,260.1L81.4,259.5L82.6,258.7L83.9,258.2L85.1,257.5L86.3,257.4L87.6,257.7L88.8,257.8L90.0,258.5L91.3,259.3L92.5,259.7L93.7,260.5L95.0,261.6L96.2,262.4L97.4,263.4L98.7,264.8L99.9,266.1L101.1,267.7L102.4,269.9L103.6,272.5L104.8,276.2L106.0,280.6L107.3,284.5L108.5,287.8L109.7,290.7L111.0,293.4L112.2,295.7L113.4,297.7L114.7,299.1L115.9,300.4L117.1,301.4L118.4,302.1L119.6,302.6L120.8,302.7L122.1,303.3L123.3,303.5L124.5,303.9L125.8,304.2L127.0,304.8L128.2,304.9L129.5,305.0L130.7,305.0L131.9,304.7L133.2,304.2L134.4,303.4L135.6,302.9L136.9,302.5L138.1,302.0L139.3,301.7L140.5,301.8L141.8,301.6L143.0,300.9L144.2,300.6L145.5,300.3L146.7,299.8L147.9,299.5L149.2,299.6L150.4,299.8L151.6,300.0L152.9,300.3L154.1,300.8L155.3,301.3L156.6,301.8L157.8,302.6L159.0,303.4L160.3,304.6L161.5,305.6L162.7,307.0L164.0,308.1L165.2,309.4L166.4,310.7L167.7,311.8L168.9,312.7L170.1,313.9L171.4,315.0L172.6,316.1L173.8,317.8L175.1,319.2L176.3,320.3L177.5,321.5L178.7,322.6L180.0,323.2L181.2,324.2L182.4,324.9L183.7,325.6L184.9,326.2L186.1,326.5L187.4,326.9L188.6,327.4L189.8,327.9L191.1,328.0L192.3,328.2L193.5,328.2L194.8,328.1L196.0,327.9L197.2,328.1L198.5,328.3L199.7,328.4L200.9,328.5L202.2,328.4L203.4,328.4L204.6,328.3L205.9,328.4L207.1,328.5L208.3,328.4L209.6,328.4L210.8,328.4L212.0,328.3L213.2,328.4L214.5,328.5L215.7,328.4L216.9,328.4L218.2,328.4L219.4,328.2L220.6,328.2L221.9,328.4L223.1,328.4L224.3,328.4L225.6,328.2L226.8,328.3L228.0,328.0L229.3,327.7L230.5,327.6L231.7,327.8L233.0,327.6L234.2,327.6L235.4,327.9L236.7,327.7L237.9,327.4L239.1,327.4L240.4,327.3L241.6,327.3L242.8,327.3L244.1,327.6L245.3,327.6L246.5,327.4L247.7,327.3L249.0,327.2L250.2,326.8L251.4,326.6L252.7,326.7L253.9,326.3L255.1,326.4L256.4,326.6L257.6,326.7L258.8,326.7L260.1,326.7L261.3,326.5L262.5,326.5L263.8,326.3L265.0,326.3" fill="none" stroke="#f40b0b" stroke-width="1.45"/>
<path d="M50.6,278.6L51.8,280.0L53.1,281.2L54.3,282.1L55.5,282.9L56.8,283.6L58.0,283.9L59.2,283.9L60.5,283.9L61.7,283.7L62.9,283.6L64.2,283.5L65.4,283.1L66.6,282.2L67.9,281.7L69.1,280.9L70.3,279.9L71.5,278.6L72.8,277.6L74.0,276.5L75.2,275.3L76.5,274.6L77.7,273.9L78.9,273.0L80.2,272.0L81.4,271.4L82.6,270.9L83.9,270.5L85.1,270.4L86.3,270.3L87.6,270.2L88.8,270.3L90.0,270.6L91.3,270.9L92.5,271.3L93.7,272.2L95.0,272.8L96.2,273.8L97.4,274.9L98.7,276.3L99.9,277.9L101.1,279.8L102.4,281.7L103.6,284.2L104.8,287.6L106.0,291.4L107.3,295.4L108.5,298.9L109.7,301.7L111.0,304.4L112.2,306.9L113.4,308.3L114.7,309.5L115.9,310.8L117.1,311.9L118.4,312.6L119.6,313.3L120.8,314.0L122.1,314.1L123.3,314.3L124.5,314.6L125.8,314.9L127.0,315.0L128.2,315.4L129.5,315.3L130.7,315.4L131.9,315.0L133.2,314.6L134.4,313.9L135.6,313.8L136.9,313.2L138.1,312.7L139.3,312.3L140.5,311.8L141.8,311.3L143.0,311.1L144.2,311.1L145.5,310.7L146.7,310.7L147.9,310.7L149.2,310.7L150.4,310.8L151.6,311.1L152.9,311.7L154.1,312.1L155.3,312.4L156.6,313.1L157.8,313.7L159.0,314.4L160.3,315.5L161.5,316.5L162.7,317.6L164.0,318.6L165.2,319.8L166.4,320.9L167.7,322.1L168.9,323.3L170.1,324.5L171.4,325.7L172.6,326.9L173.8,328.1L175.1,329.3L176.3,330.5L177.5,331.5L178.7,332.4L180.0,333.4L181.2,334.1L182.4,335.1L183.7,335.8L184.9,336.7L186.1,337.3L187.4,337.7L188.6,337.7L189.8,338.2L191.1,338.4L192.3,338.4L193.5,338.7L194.8,338.8L196.0,338.8L197.2,338.8L198.5,338.7L199.7,338.6L200.9,338.6L202.2,338.7L203.4,338.7L204.6,339.0L205.9,338.7L207.1,338.8L208.3,338.7L209.6,338.5L210.8,338.2L212.0,338.4L213.2,338.1L214.5,338.3L215.7,338.4L216.9,338.5L218.2,338.6L219.4,338.7L220.6,338.4L221.9,338.3L223.1,338.3L224.3,338.2L225.6,338.1L226.8,338.4L228.0,338.2L229.3,338.2L230.5,338.0L231.7,338.2L233.0,337.9L234.2,338.0L235.4,338.0L236.7,337.9L237.9,337.6L239.1,337.6L240.4,337.5L241.6,337.5L242.8,337.7L244.1,337.7L245.3,337.6L246.5,337.5L247.7,337.4L249.0,337.3L250.2,337.2L251.4,337.0L252.7,336.7L253.9,336.6L255.1,336.6L256.4,336.6L257.6,336.7L258.8,337.0L260.1,336.9L261.3,336.9L262.5,336.8L263.8,336.7L265.0,336.5" fill="none" stroke="#f40b0b" stroke-width="1.45"/>
<path d="M50.6,285.8L51.8,287.1L53.1,288.4L54.3,289.4L55.5,290.3L56.8,290.9L58.0,291.1L59.2,291.2L60.5,291.1L61.7,291.2L62.9,291.3L64.2,291.2L65.4,290.8L66.6,290.0L67.9,288.8L69.1,287.9L70.3,287.0L71.5,285.9L72.8,285.0L74.0,284.0L75.2,283.1L76.5,282.2L77.7,281.6L78.9,280.8L80.2,280.1L81.4,279.5L82.6,279.0L83.9,278.3L85.1,278.2L86.3,277.9L87.6,277.9L88.8,277.9L90.0,278.3L91.3,278.7L92.5,279.4L93.7,280.0L95.0,280.8L96.2,281.6L97.4,282.6L98.7,283.7L99.9,285.0L101.1,286.5L102.4,288.4L103.6,290.7L104.8,294.0L106.0,297.9L107.3,302.0L108.5,305.1L109.7,307.8L111.0,310.6L112.2,312.8L113.4,314.0L114.7,315.3L115.9,316.2L117.1,316.8L118.4,317.3L119.6,318.1L120.8,318.5L122.1,319.0L123.3,319.7L124.5,320.1L125.8,320.3L127.0,320.5L128.2,320.4L129.5,320.4L130.7,320.5L131.9,320.2L133.2,319.8L134.4,319.3L135.6,318.6L136.9,318.0L138.1,317.5L139.3,317.2L140.5,317.2L141.8,317.0L143.0,316.7L144.2,316.4L145.5,316.3L146.7,316.0L147.9,316.1L149.2,316.1L150.4,316.6L151.6,316.7L152.9,316.9L154.1,317.2L155.3,317.7L156.6,318.0L157.8,318.5L159.0,319.6L160.3,320.6L161.5,321.5L162.7,322.5L164.0,323.5L165.2,324.2L166.4,325.2L167.7,326.4L168.9,327.4L170.1,328.7L171.4,330.0L172.6,331.1L173.8,332.0L175.1,333.2L176.3,334.2L177.5,335.2L178.7,336.0L180.0,337.0L181.2,337.7L182.4,338.6L183.7,339.3L184.9,340.1L186.1,340.5L187.4,340.9L188.6,341.2L189.8,341.6L191.1,341.7L192.3,342.0L193.5,342.4L194.8,342.2L196.0,342.1L197.2,342.1L198.5,342.1L199.7,341.8L200.9,342.0L202.2,341.9L203.4,342.1L204.6,342.2L205.9,342.3L207.1,342.3L208.3,342.3L209.6,342.2L210.8,342.2L212.0,342.2L213.2,342.1L214.5,342.0L215.7,342.1L216.9,342.0L218.2,341.8L219.4,341.5L220.6,341.3L221.9,341.2L223.1,341.1L224.3,341.0L225.6,341.3L226.8,341.6L228.0,341.5L229.3,341.5L230.5,341.7L231.7,341.8L233.0,341.8L234.2,341.7L235.4,341.8L236.7,341.7L237.9,341.4L239.1,341.2L240.4,341.2L241.6,341.0L242.8,341.1L244.1,341.1L245.3,341.2L246.5,341.0L247.7,341.0L249.0,341.0L250.2,340.9L251.4,340.8L252.7,340.8L253.9,340.9L255.1,340.9L256.4,340.9L257.6,340.5L258.8,340.4L260.1,340.2L261.3,340.0L262.5,339.6L263.8,339.9L265.0,339.9" fill="none" stroke="#f40b0b" stroke-width="1.45"/>
<path d="M50.6,287.4L51.8,288.6L53.1,289.7L54.3,290.8L55.5,291.4L56.8,291.9L58.0,292.3L59.2,292.3L60.5,292.5L61.7,292.6L62.9,292.8L64.2,292.7L65.4,292.2L66.6,291.1L67.9,290.4L69.1,289.4L70.3,288.7L71.5,287.8L72.8,286.7L74.0,285.5L75.2,284.8L76.5,283.7L77.7,283.0L78.9,282.1L80.2,281.2L81.4,280.3L82.6,280.0L83.9,279.7L85.1,279.6L86.3,279.6L87.6,279.6L88.8,279.8L90.0,280.0L91.3,280.5L92.5,281.1L93.7,281.8L95.0,282.4L96.2,283.3L97.4,284.1L98.7,285.4L99.9,287.1L101.1,288.7L102.4,290.4L103.6,292.6L104.8,295.8L106.0,299.4L107.3,303.3L108.5,306.6L109.7,309.7L111.0,312.4L112.2,314.8L113.4,316.4L114.7,317.9L115.9,319.1L117.1,320.2L118.4,321.0L119.6,321.3L120.8,321.7L122.1,322.1L123.3,322.3L124.5,322.5L125.8,323.1L127.0,323.4L128.2,323.4L129.5,323.5L130.7,323.6L131.9,323.0L133.2,322.7L134.4,322.2L135.6,321.7L136.9,321.0L138.1,320.8L139.3,320.3L140.5,320.1L141.8,319.7L143.0,319.5L144.2,318.9L145.5,318.8L146.7,318.5L147.9,318.5L149.2,318.6L150.4,318.9L151.6,319.1L152.9,319.8L154.1,320.3L155.3,320.9L156.6,321.6L157.8,322.0L159.0,322.5L160.3,323.3L161.5,324.1L162.7,325.4L164.0,326.7L165.2,328.0L166.4,329.5L167.7,330.5L168.9,331.5L170.1,332.8L171.4,333.8L172.6,334.8L173.8,336.0L175.1,337.1L176.3,337.9L177.5,339.0L178.7,339.7L180.0,340.6L181.2,341.4L182.4,342.2L183.7,343.1L184.9,343.9L186.1,344.5L187.4,344.9L188.6,345.4L189.8,345.3L191.1,345.5L192.3,345.7L193.5,346.1L194.8,346.0L196.0,346.2L197.2,346.4L198.5,346.2L199.7,346.1L200.9,346.1L202.2,346.2L203.4,346.1L204.6,346.0L205.9,345.6L207.1,345.8L208.3,345.8L209.6,345.8L210.8,345.8L212.0,346.2L213.2,346.1L214.5,346.1L215.7,346.0L216.9,346.2L218.2,346.1L219.4,346.2L220.6,346.4L221.9,346.2L223.1,346.1L224.3,346.0L225.6,345.9L226.8,345.8L228.0,345.6L229.3,345.5L230.5,345.5L231.7,345.3L233.0,345.1L234.2,345.3L235.4,345.4L236.7,345.4L237.9,345.1L239.1,345.1L240.4,344.9L241.6,344.7L242.8,344.5L244.1,344.7L245.3,344.7L246.5,344.5L247.7,344.3L249.0,344.4L250.2,344.3L251.4,344.2L252.7,344.3L253.9,344.4L255.1,344.5L256.4,344.4L257.6,344.4L258.8,344.5L260.1,344.3L261.3,344.0L262.5,343.8L263.8,343.8L265.0,343.7" fill="none" stroke="#f40b0b" stroke-width="1.45"/>
<path d="M50.6,289.9L51.8,291.1L53.1,292.3L54.3,293.2L55.5,294.0L56.8,295.0L58.0,295.4L59.2,295.4L60.5,295.4L61.7,295.6L62.9,295.5L64.2,295.3L65.4,294.8L66.6,294.0L67.9,293.1L69.1,292.2L70.3,291.2L71.5,290.3L72.8,289.2L74.0,287.9L75.2,287.0L76.5,286.2L77.7,285.5L78.9,284.7L80.2,283.8L81.4,282.8L82.6,282.2L83.9,281.5L85.1,281.3L86.3,281.3L87.6,281.3L88.8,281.6L90.0,281.9L91.3,282.5L92.5,283.0L93.7,283.9L95.0,284.6L96.2,285.5L97.4,286.4L98.7,287.8L99.9,289.3L101.1,290.9L102.4,293.2L103.6,295.6L104.8,299.1L106.0,303.1L107.3,307.0L108.5,309.9L109.7,312.9L111.0,315.8L112.2,318.1L113.4,319.7L114.7,321.3L115.9,322.3L117.1,323.2L118.4,324.2L119.6,324.8L120.8,325.1L122.1,325.7L123.3,326.1L124.5,326.2L125.8,326.5L127.0,326.7L128.2,326.7L129.5,326.6L130.7,326.8L131.9,326.7L133.2,326.2L134.4,325.8L135.6,325.3L136.9,324.6L138.1,324.1L139.3,323.7L140.5,323.3L141.8,322.9L143.0,322.6L144.2,322.2L145.5,321.8L146.7,321.5L147.9,321.3L149.2,321.4L150.4,321.5L151.6,322.0L152.9,322.2L154.1,322.8L155.3,323.5L156.6,324.2L157.8,324.7L159.0,325.7L160.3,326.7L161.5,327.6L162.7,328.5L164.0,329.7L165.2,331.0L166.4,332.2L167.7,333.6L168.9,334.7L170.1,336.0L171.4,337.1L172.6,338.5L173.8,339.5L175.1,340.7L176.3,341.8L177.5,343.1L178.7,344.2L180.0,344.9L181.2,345.8L182.4,346.4L183.7,347.0L184.9,347.4L186.1,347.9L187.4,348.3L188.6,348.7L189.8,348.8L191.1,349.2L192.3,349.4L193.5,349.5L194.8,349.6L196.0,349.9L197.2,349.8L198.5,349.8L199.7,349.8L200.9,349.9L202.2,349.8L203.4,349.8L204.6,349.8L205.9,349.7L207.1,349.5L208.3,349.3L209.6,349.3L210.8,349.3L212.0,349.5L213.2,349.5L214.5,349.6L215.7,349.7L216.9,349.6L218.2,349.8L219.4,349.8L220.6,350.0L221.9,349.9L223.1,349.9L224.3,349.8L225.6,349.7L226.8,349.4L228.0,349.6L229.3,349.7L230.5,349.7L231.7,349.8L233.0,349.9L234.2,349.5L235.4,349.4L236.7,349.1L237.9,349.0L239.1,348.8L240.4,349.0L241.6,348.8L242.8,348.8L244.1,348.4L245.3,348.3L246.5,348.2L247.7,348.3L249.0,348.2L250.2,348.4L251.4,348.3L252.7,348.3L253.9,347.9L255.1,348.2L256.4,348.1L257.6,348.1L258.8,348.0L260.1,348.3L261.3,348.0L262.5,348.1L263.8,348.2L265.0,348.1" fill="none" stroke="#f40b0b" stroke-width="1.45"/>
<path d="M50.6,293.0L51.8,294.5L53.1,295.8L54.3,297.0L55.5,298.0L56.8,298.8L58.0,299.1L59.2,299.0L60.5,298.8L61.7,299.0L62.9,299.0L64.2,299.0L65.4,298.6L66.6,298.0L67.9,296.9L69.1,295.9L70.3,294.7L71.5,293.4L72.8,291.9L74.0,291.0L75.2,289.9L76.5,288.9L77.7,288.5L78.9,288.0L80.2,287.2L81.4,286.8L82.6,286.2L83.9,285.9L85.1,285.6L86.3,285.3L87.6,285.1L88.8,285.5L90.0,285.5L91.3,285.9L92.5,286.4L93.7,287.4L95.0,288.2L96.2,289.2L97.4,290.1L98.7,291.5L99.9,292.8L101.1,294.6L102.4,296.4L103.6,298.9L104.8,302.5L106.0,306.2L107.3,309.8L108.5,313.5L109.7,316.3L111.0,318.7L112.2,321.1L113.4,323.1L114.7,324.3L115.9,325.6L117.1,326.9L118.4,327.8L119.6,328.4L120.8,328.9L122.1,329.3L123.3,329.7L124.5,330.0L125.8,330.5L127.0,330.7L128.2,330.7L129.5,330.6L130.7,330.5L131.9,330.1L133.2,329.7L134.4,329.3L135.6,328.7L136.9,328.1L138.1,327.6L139.3,327.0L140.5,326.7L141.8,326.5L143.0,326.3L144.2,326.0L145.5,325.9L146.7,325.9L147.9,325.5L149.2,325.6L150.4,325.9L151.6,326.3L152.9,326.8L154.1,327.5L155.3,327.8L156.6,328.0L157.8,328.7L159.0,329.4L160.3,330.1L161.5,331.3L162.7,332.5L164.0,333.4L165.2,334.3L166.4,335.5L167.7,336.7L168.9,337.8L170.1,339.0L171.4,340.6L172.6,342.1L173.8,343.3L175.1,344.6L176.3,345.8L177.5,346.8L178.7,347.3L180.0,348.3L181.2,349.1L182.4,349.9L183.7,350.6L184.9,351.5L186.1,351.9L187.4,352.4L188.6,352.8L189.8,353.3L191.1,353.5L192.3,353.7L193.5,353.8L194.8,353.7L196.0,353.6L197.2,353.7L198.5,353.8L199.7,353.7L200.9,353.9L202.2,354.0L203.4,353.9L204.6,354.1L205.9,354.1L207.1,353.9L208.3,353.8L209.6,354.0L210.8,353.8L212.0,353.7L213.2,353.7L214.5,353.9L215.7,353.7L216.9,353.8L218.2,353.8L219.4,353.7L220.6,353.4L221.9,353.2L223.1,353.2L224.3,352.9L225.6,352.8L226.8,352.7L228.0,352.6L229.3,352.5L230.5,352.6L231.7,352.6L233.0,352.8L234.2,352.9L235.4,352.9L236.7,352.9L237.9,353.1L239.1,353.0L240.4,353.0L241.6,352.8L242.8,352.6L244.1,352.4L245.3,352.2L246.5,352.3L247.7,352.3L249.0,352.4L250.2,352.2L251.4,352.0L252.7,351.8L253.9,352.0L255.1,352.0L256.4,352.2L257.6,352.5L258.8,352.3L260.1,352.0L261.3,352.1L262.5,351.8L263.8,351.6L265.0,351.7" fill="none" stroke="#f40b0b" stroke-width="1.45"/>
<path d="M50.6,296.6L51.8,298.0L53.1,299.2L54.3,300.3L55.5,301.0L56.8,301.5L58.0,301.6L59.2,301.5L60.5,301.5L61.7,301.8L62.9,302.0L64.2,302.0L65.4,301.6L66.6,300.7L67.9,299.5L69.1,298.6L70.3,297.6L71.5,296.4L72.8,295.4L74.0,294.1L75.2,292.9L76.5,292.1L77.7,291.7L78.9,291.1L80.2,290.6L81.4,290.2L82.6,289.6L83.9,288.7L85.1,288.3L86.3,288.1L87.6,287.7L88.8,288.0L90.0,288.6L91.3,289.1L92.5,289.5L93.7,290.6L95.0,291.3L96.2,292.1L97.4,293.2L98.7,294.5L99.9,295.8L101.1,297.7L102.4,299.6L103.6,302.0L104.8,305.3L106.0,309.5L107.3,313.3L108.5,316.8L109.7,319.6L111.0,322.6L112.2,324.8L113.4,326.6L114.7,327.9L115.9,329.1L117.1,330.3L118.4,331.1L119.6,331.8L120.8,332.2L122.1,332.5L123.3,332.6L124.5,332.9L125.8,333.2L127.0,333.7L128.2,334.1L129.5,334.5L130.7,334.4L131.9,334.3L133.2,333.6L134.4,332.8L135.6,331.8L136.9,331.3L138.1,330.6L139.3,330.3L140.5,330.0L141.8,329.9L143.0,329.8L144.2,329.5L145.5,329.1L146.7,329.2L147.9,329.0L149.2,329.1L150.4,329.2L151.6,329.6L152.9,329.8L154.1,330.2L155.3,330.8L156.6,331.3L157.8,332.1L159.0,332.9L160.3,333.9L161.5,335.1L162.7,336.5L164.0,337.6L165.2,338.7L166.4,339.9L167.7,340.8L168.9,342.0L170.1,343.0L171.4,344.2L172.6,345.5L173.8,346.7L175.1,348.0L176.3,349.2L177.5,350.1L178.7,351.0L180.0,351.7L181.2,352.3L182.4,353.4L183.7,354.3L184.9,355.2L186.1,355.9L187.4,356.3L188.6,356.4L189.8,356.7L191.1,356.8L192.3,357.0L193.5,357.3L194.8,357.5L196.0,357.6L197.2,357.9L198.5,358.0L199.7,357.9L200.9,358.1L202.2,358.2L203.4,358.3L204.6,358.1L205.9,358.0L207.1,357.6L208.3,357.6L209.6,357.4L210.8,357.3L212.0,357.4L213.2,357.6L214.5,357.2L215.7,357.1L216.9,357.3L218.2,357.4L219.4,357.3L220.6,357.4L221.9,357.5L223.1,357.4L224.3,357.2L225.6,357.1L226.8,357.2L228.0,356.9L229.3,356.7L230.5,356.9L231.7,357.0L233.0,356.8L234.2,356.9L235.4,357.1L236.7,356.9L237.9,356.7L239.1,356.6L240.4,356.7L241.6,356.1L242.8,356.1L244.1,356.1L245.3,356.1L246.5,355.6L247.7,355.9L249.0,355.8L250.2,355.8L251.4,356.0L252.7,356.3L253.9,356.0L255.1,355.7L256.4,355.5L257.6,355.5L258.8,355.0L260.1,355.1L261.3,354.9L262.5,355.1L263.8,354.9L265.0,355.1" fill="none" stroke="#f40b0b" stroke-width="1.45"/>
<path d="M50.6,300.7L51.8,302.2L53.1,303.5L54.3,304.5L55.5,305.4L56.8,305.8L58.0,305.7L59.2,305.6L60.5,305.5L61.7,305.3L62.9,305.4L64.2,305.5L65.4,305.0L66.6,304.2L67.9,303.4L69.1,302.5L70.3,301.5L71.5,300.4L72.8,299.2L74.0,298.0L75.2,297.0L76.5,296.2L77.7,295.8L78.9,294.9L80.2,293.9L81.4,293.1L82.6,292.5L83.9,291.7L85.1,291.6L86.3,291.5L87.6,291.5L88.8,291.5L90.0,291.9L91.3,292.5L92.5,293.3L93.7,294.3L95.0,295.2L96.2,296.3L97.4,297.2L98.7,298.5L99.9,299.8L101.1,301.4L102.4,303.4L103.6,306.0L104.8,309.6L106.0,313.6L107.3,317.5L108.5,320.6L109.7,323.4L111.0,325.9L112.2,328.5L113.4,330.3L114.7,331.8L115.9,333.3L117.1,334.1L118.4,334.6L119.6,335.5L120.8,335.9L122.1,336.0L123.3,336.7L124.5,337.4L125.8,337.6L127.0,337.8L128.2,337.9L129.5,337.9L130.7,337.7L131.9,337.1L133.2,336.8L134.4,336.2L135.6,336.0L136.9,335.5L138.1,335.0L139.3,334.6L140.5,334.2L141.8,333.7L143.0,333.4L144.2,333.3L145.5,333.1L146.7,333.0L147.9,332.8L149.2,332.6L150.4,332.8L151.6,333.1L152.9,333.4L154.1,334.0L155.3,334.5L156.6,334.7L157.8,335.2L159.0,336.0L160.3,337.0L161.5,338.3L162.7,339.9L164.0,341.3L165.2,342.6L166.4,343.8L167.7,344.8L168.9,345.9L170.1,347.0L171.4,348.3L172.6,349.3L173.8,350.5L175.1,351.5L176.3,352.5L177.5,353.2L178.7,354.4L180.0,355.3L181.2,356.0L182.4,357.1L183.7,357.9L184.9,358.4L186.1,358.9L187.4,359.5L188.6,359.5L189.8,360.0L191.1,360.4L192.3,360.7L193.5,361.0L194.8,361.3L196.0,361.2L197.2,361.3L198.5,361.2L199.7,361.3L200.9,361.0L202.2,360.9L203.4,360.8L204.6,360.9L205.9,360.8L207.1,360.9L208.3,361.0L209.6,361.3L210.8,361.1L212.0,360.7L213.2,361.0L214.5,360.9L215.7,360.6L216.9,360.7L218.2,360.8L219.4,360.7L220.6,360.7L221.9,360.6L223.1,360.5L224.3,360.7L225.6,360.5L226.8,360.5L228.0,360.5L229.3,360.5L230.5,360.3L231.7,360.4L233.0,360.3L234.2,360.4L235.4,360.6L236.7,360.6L237.9,360.5L239.1,360.6L240.4,360.4L241.6,360.2L242.8,360.2L244.1,359.9L245.3,359.8L246.5,359.7L247.7,359.5L249.0,359.4L250.2,359.5L251.4,359.4L252.7,359.4L253.9,359.4L255.1,359.2L256.4,359.2L257.6,359.3L258.8,359.2L260.1,359.1L261.3,359.2L262.5,359.2L263.8,359.1L265.0,359.3" fill="none" stroke="#f40b0b" stroke-width="1.45"/>
<path d="M50.6,302.8L51.8,304.2L53.1,305.5L54.3,306.9L55.5,308.0L56.8,308.5L58.0,308.9L59.2,308.9L60.5,308.5L61.7,308.3L62.9,308.4L64.2,307.9L65.4,307.3L66.6,306.6L67.9,305.5L69.1,304.5L70.3,303.9L71.5,302.9L72.8,301.8L74.0,300.9L75.2,300.0L76.5,299.0L77.7,298.3L78.9,297.8L80.2,296.9L81.4,296.2L82.6,295.5L83.9,295.1L85.1,294.4L86.3,294.3L87.6,294.3L88.8,294.3L90.0,294.6L91.3,295.3L92.5,295.7L93.7,296.5L95.0,297.5L96.2,298.3L97.4,299.1L98.7,300.8L99.9,302.4L101.1,304.2L102.4,306.4L103.6,309.2L104.8,312.7L106.0,316.7L107.3,320.8L108.5,324.1L109.7,326.9L111.0,329.7L112.2,332.1L113.4,333.6L114.7,334.9L115.9,336.2L117.1,337.2L118.4,338.2L119.6,339.0L120.8,339.4L122.1,339.8L123.3,340.2L124.5,340.3L125.8,340.7L127.0,341.0L128.2,341.2L129.5,341.3L130.7,341.5L131.9,341.0L133.2,340.6L134.4,340.0L135.6,339.3L136.9,338.6L138.1,338.2L139.3,337.6L140.5,337.0L141.8,336.6L143.0,336.2L144.2,335.9L145.5,335.7L146.7,335.9L147.9,335.8L149.2,336.0L150.4,336.2L151.6,336.8L152.9,337.0L154.1,337.5L155.3,338.1L156.6,338.7L157.8,339.1L159.0,340.0L160.3,341.1L161.5,342.2L162.7,343.4L164.0,344.6L165.2,345.9L166.4,347.1L167.7,348.3L168.9,349.4L170.1,350.5L171.4,351.8L172.6,352.9L173.8,353.9L175.1,355.2L176.3,356.4L177.5,357.5L178.7,358.8L180.0,360.0L181.2,360.9L182.4,361.9L183.7,362.5L184.9,363.0L186.1,363.7L187.4,363.9L188.6,364.4L189.8,364.6L191.1,364.9L192.3,365.0L193.5,365.3L194.8,365.3L196.0,365.3L197.2,365.2L198.5,365.1L199.7,365.0L200.9,365.0L202.2,365.2L203.4,365.2L204.6,365.5L205.9,365.2L207.1,365.2L208.3,365.2L209.6,365.2L210.8,364.8L212.0,364.8L213.2,364.6L214.5,364.5L215.7,364.4L216.9,364.3L218.2,364.3L219.4,364.2L220.6,364.2L221.9,364.3L223.1,364.5L224.3,364.4L225.6,364.5L226.8,364.6L228.0,364.5L229.3,364.3L230.5,364.2L231.7,364.5L233.0,364.3L234.2,364.3L235.4,364.3L236.7,364.3L237.9,364.3L239.1,364.1L240.4,364.2L241.6,364.0L242.8,364.2L244.1,363.8L245.3,363.8L246.5,363.6L247.7,363.7L249.0,363.6L250.2,363.3L251.4,363.3L252.7,363.5L253.9,363.3L255.1,363.3L256.4,363.4L257.6,363.1L258.8,363.0L260.1,363.1L261.3,362.8L262.5,362.8L263.8,362.9L265.0,362.8" fill="none" stroke="#f40b0b" stroke-width="1.45"/>
<path d="M50.6,305.5L51.8,306.9L53.1,308.4L54.3,309.7L55.5,310.6L56.8,311.3L58.0,311.3L59.2,311.2L60.5,311.1L61.7,311.1L62.9,310.9L64.2,310.9L65.4,310.5L66.6,309.4L67.9,308.3L69.1,307.6L70.3,306.8L71.5,305.5L72.8,304.4L74.0,303.5L75.2,302.4L76.5,301.5L77.7,300.9L78.9,300.1L80.2,299.2L81.4,298.4L82.6,297.8L83.9,297.3L85.1,296.8L86.3,296.7L87.6,296.6L88.8,296.7L90.0,297.2L91.3,297.7L92.5,298.6L93.7,299.7L95.0,300.4L96.2,301.2L97.4,302.4L98.7,303.7L99.9,305.2L101.1,307.2L102.4,309.2L103.6,311.7L104.8,315.5L106.0,319.4L107.3,323.5L108.5,327.1L109.7,330.0L111.0,332.5L112.2,335.2L113.4,336.7L114.7,338.0L115.9,339.3L117.1,340.3L118.4,340.8L119.6,341.7L120.8,342.0L122.1,342.5L123.3,342.8L124.5,343.4L125.8,343.6L127.0,343.8L128.2,343.8L129.5,344.0L130.7,343.6L131.9,343.3L133.2,343.2L134.4,342.6L135.6,342.1L136.9,341.6L138.1,340.9L139.3,340.4L140.5,340.2L141.8,339.7L143.0,339.6L144.2,339.6L145.5,339.2L146.7,339.2L147.9,339.2L149.2,339.2L150.4,339.3L151.6,339.6L152.9,339.9L154.1,340.3L155.3,340.8L156.6,341.4L157.8,342.3L159.0,343.1L160.3,344.2L161.5,345.4L162.7,346.5L164.0,347.4L165.2,348.4L166.4,349.6L167.7,350.7L168.9,352.0L170.1,353.2L171.4,354.5L172.6,355.8L173.8,357.0L175.1,358.0L176.3,359.2L177.5,360.2L178.7,361.3L180.0,362.1L181.2,363.1L182.4,364.1L183.7,364.8L184.9,365.6L186.1,366.0L187.4,366.4L188.6,366.7L189.8,367.1L191.1,367.3L192.3,367.4L193.5,367.5L194.8,367.9L196.0,368.0L197.2,368.0L198.5,368.0L199.7,368.0L200.9,367.8L202.2,367.8L203.4,367.8L204.6,367.9L205.9,367.7L207.1,367.9L208.3,367.7L209.6,367.7L210.8,367.9L212.0,368.1L213.2,368.0L214.5,368.3L215.7,368.2L216.9,368.0L218.2,368.0L219.4,368.1L220.6,367.6L221.9,367.6L223.1,367.5L224.3,367.2L225.6,367.1L226.8,367.1L228.0,367.2L229.3,367.2L230.5,367.4L231.7,367.3L233.0,367.2L234.2,367.1L235.4,367.0L236.7,367.0L237.9,366.9L239.1,367.1L240.4,367.1L241.6,367.1L242.8,367.0L244.1,367.0L245.3,367.0L246.5,366.6L247.7,366.4L249.0,366.2L250.2,366.2L251.4,365.8L252.7,365.9L253.9,366.1L255.1,366.0L256.4,365.9L257.6,366.0L258.8,366.0L260.1,365.7L261.3,365.7L262.5,365.6L263.8,365.8L265.0,365.7" fill="none" stroke="#f40b0b" stroke-width="1.45"/>
<path d="M50.6,309.2L51.8,310.6L53.1,311.7L54.3,312.6L55.5,313.8L56.8,314.5L58.0,315.0L59.2,315.1L60.5,315.2L61.7,315.2L62.9,315.2L64.2,314.9L65.4,314.4L66.6,313.5L67.9,312.2L69.1,311.4L70.3,310.4L71.5,309.3L72.8,308.2L74.0,307.3L75.2,306.1L76.5,305.2L77.7,304.4L78.9,303.7L80.2,302.9L81.4,302.2L82.6,301.5L83.9,301.2L85.1,300.8L86.3,300.5L87.6,300.5L88.8,300.5L90.0,300.6L91.3,301.3L92.5,302.1L93.7,302.7L95.0,303.5L96.2,304.6L97.4,305.6L98.7,306.9L99.9,308.6L101.1,310.8L102.4,312.7L103.6,315.3L104.8,319.0L106.0,323.0L107.3,327.0L108.5,330.4L109.7,333.2L111.0,335.7L112.2,338.3L113.4,340.0L114.7,341.4L115.9,342.5L117.1,343.5L118.4,344.5L119.6,345.1L120.8,345.4L122.1,346.0L123.3,346.2L124.5,346.3L125.8,346.6L127.0,346.9L128.2,347.3L129.5,347.6L130.7,347.7L131.9,347.1L133.2,346.6L134.4,346.2L135.6,345.6L136.9,345.0L138.1,344.8L139.3,344.5L140.5,343.9L141.8,343.5L143.0,343.3L144.2,343.0L145.5,342.6L146.7,342.4L147.9,342.4L149.2,342.5L150.4,342.7L151.6,343.0L152.9,343.5L154.1,344.0L155.3,344.3L156.6,344.8L157.8,345.5L159.0,346.3L160.3,347.1L161.5,348.2L162.7,349.3L164.0,350.8L165.2,352.0L166.4,353.3L167.7,354.4L168.9,355.6L170.1,356.4L171.4,357.6L172.6,359.0L173.8,360.4L175.1,361.6L176.3,363.1L177.5,364.0L178.7,364.8L180.0,365.8L181.2,366.9L182.4,367.6L183.7,368.6L184.9,369.7L186.1,370.0L187.4,370.2L188.6,370.6L189.8,370.5L191.1,370.5L192.3,370.8L193.5,370.9L194.8,371.1L196.0,371.4L197.2,371.4L198.5,371.5L199.7,371.5L200.9,371.3L202.2,371.1L203.4,371.0L204.6,370.9L205.9,370.8L207.1,370.8L208.3,370.9L209.6,370.8L210.8,370.9L212.0,371.0L213.2,371.3L214.5,371.3L215.7,371.4L216.9,371.1L218.2,371.1L219.4,370.9L220.6,370.8L221.9,370.9L223.1,371.2L224.3,371.1L225.6,371.2L226.8,371.1L228.0,371.0L229.3,370.9L230.5,371.0L231.7,370.9L233.0,370.7L234.2,370.8L235.4,370.5L236.7,370.2L237.9,370.1L239.1,370.4L240.4,370.0L241.6,370.0L242.8,370.1L244.1,370.0L245.3,369.7L246.5,369.7L247.7,369.7L249.0,369.6L250.2,369.4L251.4,369.6L252.7,369.4L253.9,369.6L255.1,369.8L256.4,369.8L257.6,369.6L258.8,369.6L260.1,369.5L261.3,369.2L262.5,369.1L263.8,369.0L265.0,369.2" fill="none" stroke="#f40b0b" stroke-width="1.45"/>
<path d="M50.6,311.4L51.8,312.8L53.1,314.1L54.3,315.3L55.5,316.2L56.8,317.1L58.0,317.4L59.2,317.5L60.5,317.4L61.7,317.3L62.9,317.2L64.2,317.3L65.4,316.5L66.6,315.7L67.9,314.7L69.1,313.7L70.3,312.5L71.5,311.5L72.8,310.4L74.0,309.5L75.2,308.4L76.5,307.6L77.7,306.9L78.9,306.0L80.2,305.1L81.4,304.8L82.6,304.2L83.9,303.8L85.1,303.4L86.3,303.0L87.6,302.7L88.8,302.9L90.0,303.1L91.3,303.7L92.5,304.6L93.7,305.2L95.0,306.1L96.2,306.8L97.4,308.0L98.7,309.3L99.9,310.8L101.1,312.4L102.4,314.7L103.6,317.3L104.8,321.0L106.0,325.3L107.3,329.3L108.5,332.8L109.7,335.6L111.0,338.3L112.2,340.6L113.4,342.5L114.7,343.5L115.9,344.7L117.1,345.7L118.4,346.6L119.6,347.1L120.8,347.9L122.1,348.2L123.3,348.8L124.5,349.2L125.8,349.8L127.0,350.0L128.2,350.4L129.5,350.5L130.7,350.4L131.9,350.2L133.2,349.4L134.4,348.8L135.6,348.1L136.9,347.6L138.1,346.9L139.3,346.7L140.5,346.5L141.8,346.2L143.0,345.8L144.2,345.6L145.5,345.3L146.7,345.2L147.9,345.0L149.2,344.8L150.4,344.7L151.6,345.0L152.9,345.5L154.1,346.2L155.3,347.1L156.6,347.7L157.8,348.4L159.0,349.1L160.3,350.0L161.5,350.9L162.7,352.0L164.0,353.2L165.2,354.5L166.4,355.8L167.7,356.9L168.9,358.3L170.1,359.5L171.4,360.9L172.6,362.2L173.8,363.5L175.1,364.3L176.3,365.5L177.5,366.3L178.7,367.1L180.0,368.1L181.2,369.4L182.4,370.1L183.7,371.1L184.9,371.6L186.1,372.2L187.4,372.5L188.6,372.8L189.8,373.0L191.1,373.5L192.3,373.3L193.5,373.5L194.8,373.5L196.0,373.4L197.2,373.7L198.5,373.7L199.7,373.4L200.9,373.4L202.2,373.4L203.4,373.3L204.6,373.5L205.9,373.9L207.1,374.0L208.3,374.0L209.6,373.9L210.8,373.9L212.0,374.0L213.2,373.9L214.5,374.0L215.7,373.9L216.9,374.0L218.2,373.5L219.4,373.6L220.6,373.7L221.9,373.6L223.1,373.4L224.3,373.3L225.6,373.1L226.8,373.0L228.0,372.9L229.3,372.9L230.5,373.2L231.7,373.0L233.0,372.7L234.2,372.6L235.4,372.6L236.7,372.4L237.9,372.3L239.1,372.5L240.4,372.4L241.6,372.4L242.8,372.5L244.1,372.7L245.3,372.5L246.5,372.7L247.7,372.8L249.0,372.8L250.2,372.6L251.4,372.3L252.7,372.0L253.9,371.6L255.1,371.5L256.4,371.7L257.6,371.8L258.8,372.0L260.1,372.2L261.3,372.0L262.5,372.0L263.8,372.0L265.0,371.8" fill="none" stroke="#f40b0b" stroke-width="1.45"/>
<path d="M50.6,315.0L51.8,316.3L53.1,317.6L54.3,318.6L55.5,319.5L56.8,320.2L58.0,320.7L59.2,320.8L60.5,320.7L61.7,320.6L62.9,320.5L64.2,320.4L65.4,319.8L66.6,319.0L67.9,318.1L69.1,317.2L70.3,316.2L71.5,314.9L72.8,313.7L74.0,312.7L75.2,311.5L76.5,310.4L77.7,309.8L78.9,309.0L80.2,308.2L81.4,307.6L82.6,307.1L83.9,306.6L85.1,306.3L86.3,306.1L87.6,306.2L88.8,306.3L90.0,306.6L91.3,307.2L92.5,308.2L93.7,309.0L95.0,310.0L96.2,310.9L97.4,311.7L98.7,312.6L99.9,314.2L101.1,315.8L102.4,317.9L103.6,320.7L104.8,324.4L106.0,328.7L107.3,332.7L108.5,336.2L109.7,339.0L111.0,341.7L112.2,344.0L113.4,346.0L114.7,347.3L115.9,348.6L117.1,349.6L118.4,350.5L119.6,351.2L120.8,351.5L122.1,352.1L123.3,352.5L124.5,352.6L125.8,352.7L127.0,353.1L128.2,353.3L129.5,353.0L130.7,353.1L131.9,353.0L133.2,352.6L134.4,352.1L135.6,351.9L136.9,351.3L138.1,350.7L139.3,350.2L140.5,349.8L141.8,349.6L143.0,349.4L144.2,349.3L145.5,349.0L146.7,348.5L147.9,347.9L149.2,347.8L150.4,347.8L151.6,348.3L152.9,349.3L154.1,350.2L155.3,350.8L156.6,351.2L157.8,351.7L159.0,352.1L160.3,353.0L161.5,354.0L162.7,355.2L164.0,356.6L165.2,358.0L166.4,359.5L167.7,360.6L168.9,361.7L170.1,362.7L171.4,364.1L172.6,365.2L173.8,366.6L175.1,368.0L176.3,369.3L177.5,370.2L178.7,371.2L180.0,372.0L181.2,372.9L182.4,373.8L183.7,374.6L184.9,375.3L186.1,375.9L187.4,376.3L188.6,376.6L189.8,376.9L191.1,377.2L192.3,377.4L193.5,377.6L194.8,377.6L196.0,377.6L197.2,377.6L198.5,377.9L199.7,377.8L200.9,378.0L202.2,378.2L203.4,378.0L204.6,377.9L205.9,377.8L207.1,377.7L208.3,377.5L209.6,377.7L210.8,377.6L212.0,377.6L213.2,377.5L214.5,377.6L215.7,377.6L216.9,377.5L218.2,377.5L219.4,377.5L220.6,377.5L221.9,377.2L223.1,376.9L224.3,377.0L225.6,376.8L226.8,376.7L228.0,377.0L229.3,377.2L230.5,377.2L231.7,377.1L233.0,377.1L234.2,376.8L235.4,376.8L236.7,376.7L237.9,376.8L239.1,376.8L240.4,376.8L241.6,376.7L242.8,376.6L244.1,376.2L245.3,376.1L246.5,375.9L247.7,375.6L249.0,375.6L250.2,375.6L251.4,375.5L252.7,375.5L253.9,375.5L255.1,375.6L256.4,375.7L257.6,375.7L258.8,375.7L260.1,376.0L261.3,376.0L262.5,376.2L263.8,376.2L265.0,376.1" fill="none" stroke="#f40b0b" stroke-width="1.45"/>
<path d="M50.6,317.1L51.8,318.4L53.1,319.6L54.3,320.7L55.5,321.4L56.8,321.7L58.0,322.2L59.2,322.3L60.5,322.2L61.7,322.4L62.9,322.5L64.2,322.3L65.4,321.9L66.6,321.1L67.9,320.2L69.1,319.3L70.3,318.4L71.5,317.4L72.8,316.1L74.0,314.8L75.2,313.7L76.5,312.8L77.7,312.0L78.9,311.4L80.2,310.7L81.4,310.1L82.6,309.2L83.9,308.6L85.1,308.1L86.3,307.9L87.6,307.7L88.8,308.0L90.0,308.3L91.3,308.8L92.5,309.4L93.7,310.3L95.0,311.0L96.2,311.9L97.4,312.9L98.7,314.2L99.9,315.6L101.1,317.5L102.4,319.5L103.6,322.3L104.8,326.3L106.0,330.5L107.3,334.6L108.5,338.4L109.7,341.4L111.0,344.1L112.2,346.5L113.4,348.3L114.7,349.7L115.9,350.9L117.1,351.9L118.4,352.7L119.6,353.6L120.8,354.1L122.1,354.6L123.3,355.0L124.5,355.6L125.8,356.0L127.0,355.9L128.2,355.9L129.5,356.2L130.7,356.0L131.9,355.6L133.2,354.9L134.4,354.5L135.6,353.6L136.9,353.0L138.1,352.2L139.3,352.1L140.5,351.7L141.8,351.4L143.0,351.5L144.2,351.1L145.5,350.8L146.7,350.8L147.9,350.6L149.2,350.5L150.4,351.1L151.6,351.4L152.9,351.8L154.1,352.3L155.3,352.6L156.6,353.1L157.8,353.6L159.0,354.4L160.3,355.5L161.5,356.7L162.7,358.0L164.0,359.2L165.2,360.5L166.4,361.6L167.7,363.0L168.9,364.1L170.1,365.5L171.4,366.7L172.6,368.0L173.8,369.2L175.1,370.4L176.3,371.4L177.5,372.6L178.7,373.5L180.0,374.3L181.2,375.4L182.4,376.3L183.7,377.2L184.9,378.0L186.1,378.6L187.4,378.7L188.6,378.9L189.8,379.1L191.1,379.1L192.3,379.3L193.5,379.5L194.8,379.7L196.0,379.6L197.2,379.6L198.5,379.6L199.7,379.8L200.9,379.8L202.2,379.9L203.4,380.2L204.6,380.6L205.9,380.3L207.1,380.3L208.3,380.2L209.6,380.0L210.8,379.5L212.0,379.6L213.2,379.5L214.5,379.7L215.7,379.8L216.9,379.8L218.2,379.7L219.4,379.9L220.6,379.8L221.9,379.7L223.1,379.9L224.3,379.8L225.6,379.7L226.8,379.8L228.0,379.9L229.3,379.6L230.5,379.8L231.7,379.6L233.0,379.3L234.2,379.1L235.4,379.4L236.7,379.2L237.9,379.1L239.1,379.1L240.4,379.2L241.6,379.1L242.8,378.9L244.1,378.7L245.3,378.7L246.5,378.7L247.7,378.4L249.0,378.5L250.2,378.5L251.4,378.6L252.7,378.5L253.9,378.5L255.1,378.6L256.4,378.6L257.6,378.4L258.8,378.4L260.1,378.3L261.3,378.3L262.5,378.2L263.8,378.2L265.0,378.1" fill="none" stroke="#f40b0b" stroke-width="1.45"/>
<path d="M50.6,319.4L51.8,320.9L53.1,322.4L54.3,323.6L55.5,324.5L56.8,325.1L58.0,325.2L59.2,325.2L60.5,325.1L61.7,325.3L62.9,325.7L64.2,325.3L65.4,324.5L66.6,323.6L67.9,322.4L69.1,321.0L70.3,320.3L71.5,319.0L72.8,318.1L74.0,317.1L75.2,316.1L76.5,315.0L77.7,314.3L78.9,313.4L80.2,312.5L81.4,312.0L82.6,311.4L83.9,310.8L85.1,310.4L86.3,310.1L87.6,309.9L88.8,310.2L90.0,310.6L91.3,311.3L92.5,312.0L93.7,312.7L95.0,313.7L96.2,314.7L97.4,315.5L98.7,316.8L99.9,318.5L101.1,320.5L102.4,322.5L103.6,325.5L104.8,329.5L106.0,333.8L107.3,337.9L108.5,341.5L109.7,344.0L111.0,346.7L112.2,349.2L113.4,351.2L114.7,352.7L115.9,354.5L117.1,355.7L118.4,356.8L119.6,357.4L120.8,357.9L122.1,358.3L123.3,358.8L124.5,359.2L125.8,359.3L127.0,359.5L128.2,359.5L129.5,359.3L130.7,359.1L131.9,358.9L133.2,358.6L134.4,357.9L135.6,357.2L136.9,356.5L138.1,356.1L139.3,355.4L140.5,355.5L141.8,355.4L143.0,355.0L144.2,354.6L145.5,354.5L146.7,354.0L147.9,353.9L149.2,353.9L150.4,354.1L151.6,354.5L152.9,355.0L154.1,355.5L155.3,355.9L156.6,356.5L157.8,356.9L159.0,357.9L160.3,358.8L161.5,360.3L162.7,361.6L164.0,363.1L165.2,364.2L166.4,365.7L167.7,366.7L168.9,367.8L170.1,369.0L171.4,370.4L172.6,371.5L173.8,373.1L175.1,374.1L176.3,375.3L177.5,376.5L178.7,377.6L180.0,378.6L181.2,379.9L182.4,380.8L183.7,381.6L184.9,382.3L186.1,382.7L187.4,382.8L188.6,383.2L189.8,383.5L191.1,383.4L192.3,383.5L193.5,383.8L194.8,383.9L196.0,384.0L197.2,384.4L198.5,384.5L199.7,384.6L200.9,384.5L202.2,384.3L203.4,384.1L204.6,384.0L205.9,384.1L207.1,384.4L208.3,384.5L209.6,384.6L210.8,384.7L212.0,384.6L213.2,384.5L214.5,384.5L215.7,384.4L216.9,384.2L218.2,384.2L219.4,384.0L220.6,383.8L221.9,383.9L223.1,383.9L224.3,383.5L225.6,383.6L226.8,383.4L228.0,383.1L229.3,382.9L230.5,383.1L231.7,382.8L233.0,382.9L234.2,383.0L235.4,383.1L236.7,382.9L237.9,383.1L239.1,383.1L240.4,382.8L241.6,382.8L242.8,383.0L244.1,382.8L245.3,382.7L246.5,382.7L247.7,382.6L249.0,382.3L250.2,382.3L251.4,382.1L252.7,382.4L253.9,382.2L255.1,382.3L256.4,382.5L257.6,382.7L258.8,382.4L260.1,382.4L261.3,382.4L262.5,382.0L263.8,381.9L265.0,382.0" fill="none" stroke="#f40b0b" stroke-width="1.45"/>
<path d="M50.6,321.9L51.8,323.4L53.1,324.6L54.3,325.9L55.5,327.0L56.8,327.5L58.0,327.7L59.2,328.0L60.5,328.2L61.7,328.3L62.9,328.5L64.2,328.5L65.4,327.7L66.6,326.5L67.9,325.3L69.1,324.2L70.3,323.3L71.5,322.3L72.8,321.1L74.0,319.6L75.2,318.4L76.5,317.4L77.7,316.8L78.9,316.0L80.2,315.8L81.4,315.2L82.6,314.6L83.9,313.9L85.1,313.4L86.3,313.1L87.6,313.1L88.8,313.4L90.0,313.9L91.3,314.4L92.5,314.9L93.7,315.6L95.0,316.2L96.2,317.1L97.4,318.1L98.7,319.8L99.9,321.5L101.1,323.4L102.4,325.3L103.6,328.0L104.8,331.5L106.0,335.7L107.3,340.1L108.5,343.9L109.7,346.9L111.0,349.8L112.2,352.3L113.4,354.2L114.7,355.4L115.9,356.8L117.1,358.0L118.4,358.6L119.6,359.2L120.8,359.8L122.1,360.1L123.3,360.2L124.5,360.8L125.8,361.1L127.0,361.4L128.2,361.9L129.5,362.3L130.7,362.2L131.9,362.2L133.2,361.5L134.4,361.0L135.6,360.2L136.9,359.7L138.1,358.8L139.3,358.3L140.5,357.6L141.8,357.2L143.0,356.8L144.2,356.6L145.5,356.3L146.7,356.4L147.9,356.3L149.2,356.4L150.4,356.5L151.6,356.9L152.9,357.3L154.1,357.8L155.3,358.5L156.6,359.0L157.8,359.9L159.0,360.9L160.3,361.7L161.5,363.0L162.7,364.4L164.0,365.4L165.2,366.9L166.4,368.0L167.7,369.3L168.9,370.2L170.1,371.4L171.4,372.4L172.6,374.0L173.8,375.0L175.1,376.5L176.3,377.8L177.5,379.1L178.7,380.1L180.0,381.0L181.2,382.0L182.4,383.0L183.7,383.7L184.9,384.5L186.1,385.1L187.4,385.3L188.6,385.7L189.8,386.0L191.1,386.2L192.3,386.6L193.5,386.7L194.8,386.7L196.0,386.6L197.2,386.7L198.5,386.5L199.7,386.6L200.9,386.4L202.2,386.6L203.4,386.6L204.6,386.8L205.9,386.7L207.1,386.7L208.3,386.4L209.6,386.2L210.8,386.0L212.0,386.1L213.2,386.1L214.5,386.3L215.7,386.2L216.9,386.1L218.2,386.1L219.4,386.2L220.6,386.0L221.9,386.1L223.1,386.2L224.3,385.9L225.6,385.8L226.8,386.0L228.0,386.0L229.3,386.2L230.5,386.2L231.7,386.2L233.0,386.2L234.2,386.2L235.4,385.8L236.7,385.9L237.9,385.7L239.1,385.8L240.4,385.6L241.6,385.8L242.8,385.7L244.1,385.6L245.3,385.4L246.5,385.1L247.7,384.8L249.0,384.7L250.2,384.7L251.4,384.7L252.7,384.7L253.9,384.6L255.1,384.8L256.4,384.6L257.6,384.5L258.8,384.4L260.1,384.5L261.3,384.4L262.5,384.6L263.8,384.6L265.0,384.7" fill="none" stroke="#f40b0b" stroke-width="1.45"/>
<path d="M50.6,287.7L51.8,288.9L53.1,290.0L54.3,291.3L55.5,292.4L56.8,293.0L58.0,293.3L59.2,293.3L60.5,293.1L61.7,292.8L62.9,292.5L64.2,292.7L65.4,292.2L66.6,291.5L67.9,290.8L69.1,290.1L70.3,289.0L71.5,288.1L72.8,287.2L74.0,286.2L75.2,285.0L76.5,284.3L77.7,283.9L78.9,283.1L80.2,282.3L81.4,281.9L82.6,281.4L83.9,280.7L85.1,280.5L86.3,280.5L87.6,280.6L88.8,280.6L90.0,280.9L91.3,281.2L92.5,281.7L93.7,282.2L95.0,282.9L96.2,283.6L97.4,284.7L98.7,285.9L99.9,287.3L101.1,288.9L102.4,290.8L103.6,292.8L104.8,295.8L106.0,299.5L107.3,302.7L108.5,305.9L109.7,308.2L111.0,310.3L112.2,312.3L113.4,314.0L114.7,314.8L115.9,315.7L117.1,317.0L118.4,317.7L119.6,318.2L120.8,318.7L122.1,319.2L123.3,319.3L124.5,319.7L125.8,319.9L127.0,320.2L128.2,320.4L129.5,320.6L130.7,320.6L131.9,320.5L133.2,319.9L134.4,319.3L135.6,318.9L136.9,318.2L138.1,317.7L139.3,317.4L140.5,317.1L141.8,316.7L143.0,316.5L144.2,316.3L145.5,316.1L146.7,315.8L147.9,316.0L149.2,316.0L150.4,316.0L151.6,316.3L152.9,317.1L154.1,317.0L155.3,317.5L156.6,317.8L157.8,318.2L159.0,318.8L160.3,319.8L161.5,320.6L162.7,321.7L164.0,322.8L165.2,323.9L166.4,324.9L167.7,325.9L168.9,326.9L170.1,328.1L171.4,329.2L172.6,330.3L173.8,331.6L175.1,332.8L176.3,333.7L177.5,334.6L178.7,335.4L180.0,336.0L181.2,336.7L182.4,337.1L183.7,337.7L184.9,338.0L186.1,338.5L187.4,338.7L188.6,339.3L189.8,339.8L191.1,340.4L192.3,340.7L193.5,340.6L194.8,340.7L196.0,340.2L197.2,340.3L198.5,340.2L199.7,340.8L200.9,340.6L202.2,340.9L203.4,340.8L204.6,340.9L205.9,340.7L207.1,340.6L208.3,340.5L209.6,340.5L210.8,340.3L212.0,340.1L213.2,340.1L214.5,340.4L215.7,340.5L216.9,340.5L218.2,340.5L219.4,340.4L220.6,340.3L221.9,340.1L223.1,340.2L224.3,340.3L225.6,340.3L226.8,340.0L228.0,340.0L229.3,340.0L230.5,340.1L231.7,340.0L233.0,340.2L234.2,340.1L235.4,340.0L236.7,339.8L237.9,339.7L239.1,339.8L240.4,339.7L241.6,339.6L242.8,339.3L244.1,339.3L245.3,339.1L246.5,339.2L247.7,339.2L249.0,339.6L250.2,339.6L251.4,339.5L252.7,339.5L253.9,339.4L255.1,339.1L256.4,338.9L257.6,338.8L258.8,338.8L260.1,338.8L261.3,338.8L262.5,338.7L263.8,338.7L265.0,338.7" fill="none" stroke="#f40b0b" stroke-width="1"/>
<path d="M50.6,301.5L51.8,303.0L53.1,304.3L54.3,305.2L55.5,306.1L56.8,306.4L58.0,306.6L59.2,306.4L60.5,306.3L61.7,306.3L62.9,306.5L64.2,306.4L65.4,306.0L66.6,305.4L67.9,304.5L69.1,303.4L70.3,302.5L71.5,301.3L72.8,300.2L74.0,299.2L75.2,298.4L76.5,297.5L77.7,297.0L78.9,296.3L80.2,295.5L81.4,294.7L82.6,294.0L83.9,293.6L85.1,293.4L86.3,293.4L87.6,293.5L88.8,293.6L90.0,294.0L91.3,294.1L92.5,294.6L93.7,295.2L95.0,296.0L96.2,296.8L97.4,297.9L98.7,299.1L99.9,300.7L101.1,302.3L102.4,303.9L103.6,306.4L104.8,309.9L106.0,313.8L107.3,317.8L108.5,321.2L109.7,323.9L111.0,326.5L112.2,328.4L113.4,329.6L114.7,331.1L115.9,332.2L117.1,333.1L118.4,334.0L119.6,334.9L120.8,335.2L122.1,335.5L123.3,335.9L124.5,336.2L125.8,336.4L127.0,336.5L128.2,336.8L129.5,336.9L130.7,336.7L131.9,336.6L133.2,336.3L134.4,335.9L135.6,335.4L136.9,335.1L138.1,334.6L139.3,334.1L140.5,333.9L141.8,333.6L143.0,333.2L144.2,332.9L145.5,332.8L146.7,332.3L147.9,332.3L149.2,332.5L150.4,332.8L151.6,332.9L152.9,333.3L154.1,333.6L155.3,333.9L156.6,334.5L157.8,335.2L159.0,336.2L160.3,337.3L161.5,338.5L162.7,339.5L164.0,340.5L165.2,341.6L166.4,342.6L167.7,343.7L168.9,344.9L170.1,346.2L171.4,347.2L172.6,348.3L173.8,349.4L175.1,350.2L176.3,351.3L177.5,352.2L178.7,353.2L180.0,354.0L181.2,354.9L182.4,355.8L183.7,356.8L184.9,357.7L186.1,358.1L187.4,358.5L188.6,358.7L189.8,358.9L191.1,358.8L192.3,359.0L193.5,359.2L194.8,359.1L196.0,359.0L197.2,359.1L198.5,359.3L199.7,359.3L200.9,359.4L202.2,359.6L203.4,359.4L204.6,359.4L205.9,359.3L207.1,359.4L208.3,359.2L209.6,359.4L210.8,359.1L212.0,359.2L213.2,359.3L214.5,359.5L215.7,359.6L216.9,359.8L218.2,359.5L219.4,359.2L220.6,359.0L221.9,359.0L223.1,358.8L224.3,359.0L225.6,358.9L226.8,358.9L228.0,358.7L229.3,358.7L230.5,358.8L231.7,359.0L233.0,359.1L234.2,359.1L235.4,359.0L236.7,358.8L237.9,358.7L239.1,358.4L240.4,358.5L241.6,358.5L242.8,358.4L244.1,358.4L245.3,358.6L246.5,358.4L247.7,358.0L249.0,358.1L250.2,358.0L251.4,357.9L252.7,357.9L253.9,358.1L255.1,357.9L256.4,357.7L257.6,357.7L258.8,357.7L260.1,357.6L261.3,357.5L262.5,357.6L263.8,357.5L265.0,357.5" fill="none" stroke="#f40b0b" stroke-width="1"/>
<path d="M50.6,309.3L51.8,310.6L53.1,312.0L54.3,313.2L55.5,314.2L56.8,314.8L58.0,315.3L59.2,315.3L60.5,315.2L61.7,315.0L62.9,315.2L64.2,314.8L65.4,314.1L66.6,313.3L67.9,312.2L69.1,311.0L70.3,310.4L71.5,309.1L72.8,308.1L74.0,307.1L75.2,306.0L76.5,305.2L77.7,304.7L78.9,303.9L80.2,302.9L81.4,302.4L82.6,301.7L83.9,301.1L85.1,300.8L86.3,301.0L87.6,300.8L88.8,300.9L90.0,301.3L91.3,301.7L92.5,302.1L93.7,302.9L95.0,303.7L96.2,304.7L97.4,305.8L98.7,307.2L99.9,308.7L101.1,310.5L102.4,312.4L103.6,314.7L104.8,318.1L106.0,322.1L107.3,326.1L108.5,329.4L109.7,332.2L111.0,335.2L112.2,337.4L113.4,339.3L114.7,340.5L115.9,342.0L117.1,342.9L118.4,343.9L119.6,344.4L120.8,344.8L122.1,345.0L123.3,345.5L124.5,345.6L125.8,346.0L127.0,346.2L128.2,346.5L129.5,346.6L130.7,346.7L131.9,346.2L133.2,346.1L134.4,345.5L135.6,345.1L136.9,344.3L138.1,344.1L139.3,343.5L140.5,343.4L141.8,342.7L143.0,342.7L144.2,342.2L145.5,342.0L146.7,341.8L147.9,342.0L149.2,341.7L150.4,341.9L151.6,342.0L152.9,342.2L154.1,342.7L155.3,343.3L156.6,343.8L157.8,344.4L159.0,345.1L160.3,346.0L161.5,347.1L162.7,348.4L164.0,349.7L165.2,351.1L166.4,352.4L167.7,353.5L168.9,354.6L170.1,355.7L171.4,357.1L172.6,358.1L173.8,359.3L175.1,360.5L176.3,361.9L177.5,362.7L178.7,363.5L180.0,364.5L181.2,365.5L182.4,366.1L183.7,366.7L184.9,367.6L186.1,368.3L187.4,368.3L188.6,368.8L189.8,369.1L191.1,369.3L192.3,369.2L193.5,369.5L194.8,369.4L196.0,369.4L197.2,369.7L198.5,369.8L199.7,369.6L200.9,369.8L202.2,370.1L203.4,369.9L204.6,369.8L205.9,370.0L207.1,370.0L208.3,369.9L209.6,369.9L210.8,369.8L212.0,369.9L213.2,369.8L214.5,369.8L215.7,369.5L216.9,369.5L218.2,369.4L219.4,369.2L220.6,369.1L221.9,369.1L223.1,369.1L224.3,368.8L225.6,368.7L226.8,368.7L228.0,368.8L229.3,368.7L230.5,368.8L231.7,369.0L233.0,369.1L234.2,369.2L235.4,369.2L236.7,369.1L237.9,369.0L239.1,368.9L240.4,368.5L241.6,368.6L242.8,368.6L244.1,368.6L245.3,368.5L246.5,368.6L247.7,368.7L249.0,368.8L250.2,369.0L251.4,368.8L252.7,368.7L253.9,368.3L255.1,368.1L256.4,367.9L257.6,367.9L258.8,367.9L260.1,367.9L261.3,367.8L262.5,367.8L263.8,367.8L265.0,367.7" fill="none" stroke="#f40b0b" stroke-width="1"/>
<path d="M50.6,315.2L51.8,316.5L53.1,317.5L54.3,318.6L55.5,319.6L56.8,320.4L58.0,320.9L59.2,321.1L60.5,321.4L61.7,321.3L62.9,321.0L64.2,320.9L65.4,320.3L66.6,319.3L67.9,318.2L69.1,317.5L70.3,316.5L71.5,315.2L72.8,314.0L74.0,312.9L75.2,311.7L76.5,310.9L77.7,310.4L78.9,309.7L80.2,309.2L81.4,308.4L82.6,307.6L83.9,306.9L85.1,306.8L86.3,306.6L87.6,306.7L88.8,306.9L90.0,307.3L91.3,307.6L92.5,308.3L93.7,309.0L95.0,309.9L96.2,310.8L97.4,312.0L98.7,313.1L99.9,314.4L101.1,316.1L102.4,318.2L103.6,320.9L104.8,324.5L106.0,328.6L107.3,332.7L108.5,336.0L109.7,338.7L111.0,341.3L112.2,343.7L113.4,345.4L114.7,346.8L115.9,348.0L117.1,349.0L118.4,350.0L119.6,350.8L120.8,351.1L122.1,351.3L123.3,351.7L124.5,351.8L125.8,351.9L127.0,352.1L128.2,352.6L129.5,352.8L130.7,352.8L131.9,352.5L133.2,351.9L134.4,351.1L135.6,350.4L136.9,350.0L138.1,349.4L139.3,349.0L140.5,348.7L141.8,348.3L143.0,348.0L144.2,347.9L145.5,347.8L146.7,347.7L147.9,347.6L149.2,347.8L150.4,347.9L151.6,347.9L152.9,348.2L154.1,349.0L155.3,349.3L156.6,349.6L157.8,350.6L159.0,351.3L160.3,352.1L161.5,353.2L162.7,354.2L164.0,355.4L165.2,356.7L166.4,358.0L167.7,359.1L168.9,360.5L170.1,361.6L171.4,362.8L172.6,364.1L173.8,365.3L175.1,366.6L176.3,367.8L177.5,369.1L178.7,369.9L180.0,370.9L181.2,371.8L182.4,372.8L183.7,373.4L184.9,374.0L186.1,374.5L187.4,375.0L188.6,375.2L189.8,375.4L191.1,375.9L192.3,376.0L193.5,376.2L194.8,376.2L196.0,376.3L197.2,376.1L198.5,376.0L199.7,376.0L200.9,375.7L202.2,375.7L203.4,375.5L204.6,375.7L205.9,375.7L207.1,375.8L208.3,375.9L209.6,376.1L210.8,375.9L212.0,375.9L213.2,375.9L214.5,375.8L215.7,375.7L216.9,375.8L218.2,375.5L219.4,375.7L220.6,375.5L221.9,375.4L223.1,375.2L224.3,375.1L225.6,374.9L226.8,375.3L228.0,375.3L229.3,375.4L230.5,375.4L231.7,375.5L233.0,375.3L234.2,375.4L235.4,375.2L236.7,375.0L237.9,375.0L239.1,374.9L240.4,374.6L241.6,374.7L242.8,374.6L244.1,374.5L245.3,374.4L246.5,374.4L247.7,374.1L249.0,374.4L250.2,374.2L251.4,374.1L252.7,374.0L253.9,374.2L255.1,374.1L256.4,374.2L257.6,374.0L258.8,373.9L260.1,373.6L261.3,373.3L262.5,373.3L263.8,373.4L265.0,373.6" fill="none" stroke="#f40b0b" stroke-width="1"/>
<path d="M50.6,320.0L51.8,321.4L53.1,323.0L54.3,324.0L55.5,324.9L56.8,325.2L58.0,325.4L59.2,325.2L60.5,325.2L61.7,325.3L62.9,325.7L64.2,325.8L65.4,325.0L66.6,324.1L67.9,323.0L69.1,322.0L70.3,320.7L71.5,319.7L72.8,318.6L74.0,317.5L75.2,316.5L76.5,315.6L77.7,314.9L78.9,314.3L80.2,313.6L81.4,312.7L82.6,312.2L83.9,311.7L85.1,311.2L86.3,310.7L87.6,310.6L88.8,310.6L90.0,311.0L91.3,311.7L92.5,312.5L93.7,313.4L95.0,314.2L96.2,315.0L97.4,315.6L98.7,316.8L99.9,318.4L101.1,320.2L102.4,322.4L103.6,325.3L104.8,329.1L106.0,333.2L107.3,337.5L108.5,341.0L109.7,344.1L111.0,346.6L112.2,349.3L113.4,350.9L114.7,352.5L115.9,353.6L117.1,354.6L118.4,355.4L119.6,356.2L120.8,356.5L122.1,357.1L123.3,357.6L124.5,357.8L125.8,358.2L127.0,358.3L128.2,358.3L129.5,358.6L130.7,358.6L131.9,358.3L133.2,357.7L134.4,357.2L135.6,356.4L136.9,355.6L138.1,355.1L139.3,355.1L140.5,354.5L141.8,354.4L143.0,354.2L144.2,353.5L145.5,353.2L146.7,353.2L147.9,353.3L149.2,353.3L150.4,353.7L151.6,353.9L152.9,354.2L154.1,354.6L155.3,354.9L156.6,355.3L157.8,355.9L159.0,356.9L160.3,357.8L161.5,359.1L162.7,360.5L164.0,362.0L165.2,363.1L166.4,364.2L167.7,365.3L168.9,366.5L170.1,367.4L171.4,368.7L172.6,370.3L173.8,371.7L175.1,372.8L176.3,374.1L177.5,375.2L178.7,375.9L180.0,376.8L181.2,377.6L182.4,378.6L183.7,379.4L184.9,380.2L186.1,380.6L187.4,381.1L188.6,381.6L189.8,381.7L191.1,381.9L192.3,382.1L193.5,382.1L194.8,381.8L196.0,381.8L197.2,381.9L198.5,382.0L199.7,382.2L200.9,382.1L202.2,382.2L203.4,382.0L204.6,382.0L205.9,382.1L207.1,382.1L208.3,382.2L209.6,382.3L210.8,382.2L212.0,381.9L213.2,382.0L214.5,382.1L215.7,382.0L216.9,382.0L218.2,382.1L219.4,381.9L220.6,381.6L221.9,381.7L223.1,381.8L224.3,381.7L225.6,381.8L226.8,381.9L228.0,381.9L229.3,381.8L230.5,381.9L231.7,381.9L233.0,381.7L234.2,381.4L235.4,381.3L236.7,381.1L237.9,381.0L239.1,381.1L240.4,381.2L241.6,380.8L242.8,380.8L244.1,380.7L245.3,380.6L246.5,380.6L247.7,380.9L249.0,380.9L250.2,380.8L251.4,380.5L252.7,380.3L253.9,380.0L255.1,379.9L256.4,380.1L257.6,380.3L258.8,380.3L260.1,380.4L261.3,380.3L262.5,380.3L263.8,380.2L265.0,380.2" fill="none" stroke="#f40b0b" stroke-width="1"/></g>
<rect x="50.6" y="244.0" width="214.4" height="153.4" fill="none" stroke="#707070" stroke-width=".8"/>
<path d="M65.7,397.4v-2.2M65.7,244.0v2.2M96.6,397.4v-2.2M96.6,244.0v2.2M127.4,397.4v-2.2M127.4,244.0v2.2M158.2,397.4v-2.2M158.2,244.0v2.2M189.1,397.4v-2.2M189.1,244.0v2.2M219.9,397.4v-2.2M219.9,244.0v2.2M250.8,397.4v-2.2M250.8,244.0v2.2M50.6,282.4h2.2M265.0,282.4h-2.2M50.6,320.7h2.2M265.0,320.7h-2.2M50.6,359.0h2.2M265.0,359.0h-2.2" stroke="#707070" stroke-width=".7" fill="none"/>
<text x="49.4" y="247.6" font-size="13.2" text-anchor="end">80</text>
<text x="49.4" y="286.3" font-size="13.2" text-anchor="end">60</text>
<text x="49.4" y="325.0" font-size="13.2" text-anchor="end">40</text>
<text x="49.4" y="363.7" font-size="13.2" text-anchor="end">20</text>
<text x="49.4" y="402.4" font-size="13.2" text-anchor="end">0</text>
<text x="75.5" y="412.7" font-size="13.2" text-anchor="middle" textLength="30.7" lengthAdjust="spacingAndGlyphs">1000</text>
<text x="127.7" y="412.7" font-size="13.2" text-anchor="middle" textLength="30.7" lengthAdjust="spacingAndGlyphs">1200</text>
<text x="188.4" y="412.7" font-size="13.2" text-anchor="middle" textLength="30.7" lengthAdjust="spacingAndGlyphs">1400</text>
<text x="248.4" y="412.7" font-size="13.2" text-anchor="middle" textLength="30.7" lengthAdjust="spacingAndGlyphs">1600</text>
<text x="95.3" y="427.0" font-size="15.2" textLength="85.3" lengthAdjust="spacingAndGlyphs">Wavelength</text>
<text x="184.2" y="427.0" font-size="15.2" textLength="33.1" lengthAdjust="spacingAndGlyphs">(nm)</text>
<text transform="translate(20.2,389.1) rotate(-90)" font-size="15.2" textLength="48.0" lengthAdjust="spacingAndGlyphs">Diffuse</text>
<text transform="translate(20.2,337.6) rotate(-90)" font-size="15.2" textLength="75.7" lengthAdjust="spacingAndGlyphs">reflectance</text>
<text transform="translate(20.2,258.4) rotate(-90)" font-size="15.2" textLength="22.3" lengthAdjust="spacingAndGlyphs">(%)</text>
<text x="231.2" y="276.4" font-size="15.2" textLength="14.5" lengthAdjust="spacingAndGlyphs">IC</text>
<clipPath id="pf1"><rect x="344.4" y="243.4" width="196.5" height="153.7"/></clipPath>
<g clip-path="url(#pf1)"><path d="M344.4,264.7L345.3,267.8L346.1,270.9L347.0,273.3L347.8,274.0L348.7,274.2L349.5,274.2L350.4,274.5L351.3,274.3L352.1,274.4L353.0,274.2L353.8,274.0L354.7,273.3L355.6,272.3L356.4,271.4L357.3,270.4L358.1,269.8L359.0,268.9L359.8,267.9L360.7,266.9L361.6,265.9L362.4,264.8L363.3,263.5L364.1,262.0L365.0,260.5L365.9,259.2L366.7,258.0L367.6,256.8L368.4,255.8L369.3,254.6L370.1,253.5L371.0,252.4L371.9,252.0L372.7,251.5L373.6,250.9L374.4,249.9L375.3,249.2L376.1,248.4L377.0,248.2L377.9,248.5L378.7,248.5L379.6,248.9L380.4,248.6L381.3,249.0L382.2,249.2L383.0,249.8L383.9,250.3L384.7,250.3L385.6,250.9L386.4,251.5L387.3,253.2L388.2,254.3L389.0,255.8L389.9,256.5L390.7,258.0L391.6,259.5L392.5,262.0L393.3,264.6L394.2,267.8L395.0,271.5L395.9,276.7L396.7,282.7L397.6,288.8L398.5,296.2L399.3,304.4L400.2,311.0L401.0,315.0L401.9,318.0L402.7,320.5L403.6,322.4L404.5,323.3L405.3,324.5L406.2,325.2L407.0,325.9L407.9,326.1L408.8,326.2L409.6,326.6L410.5,327.0L411.3,327.1L412.2,327.4L413.0,327.1L413.9,327.3L414.8,327.0L415.6,327.6L416.5,327.8L417.3,328.1L418.2,327.4L419.1,327.2L419.9,326.3L420.8,325.9L421.6,325.5L422.5,325.2L423.3,324.7L424.2,323.9L425.1,323.4L425.9,323.0L426.8,322.5L427.6,322.2L428.5,321.7L429.3,320.8L430.2,320.2L431.1,320.2L431.9,320.5L432.8,320.5L433.6,320.5L434.5,319.8L435.4,319.8L436.2,320.0L437.1,320.4L437.9,320.4L438.8,320.9L439.6,322.1L440.5,323.2L441.4,324.4L442.2,325.4L443.1,327.3L443.9,329.1L444.8,331.0L445.7,332.6L446.5,334.8L447.4,336.8L448.2,338.7L449.1,339.9L449.9,341.4L450.8,343.3L451.7,345.2L452.5,347.2L453.4,348.7L454.2,350.4L455.1,351.8L456.0,353.1L456.8,354.2L457.7,355.3L458.5,356.8L459.4,357.9L460.2,358.9L461.1,359.8L462.0,361.0L462.8,362.0L463.7,362.7L464.5,364.0L465.4,365.7L466.2,367.7L467.1,369.1L468.0,370.4L468.8,370.9L469.7,371.5L470.5,371.7L471.4,372.4L472.3,372.9L473.1,373.5L474.0,373.6L474.8,374.0L475.7,373.9L476.5,374.1L477.4,373.9L478.3,373.8L479.1,374.1L480.0,374.3L480.8,374.6L481.7,374.7L482.6,374.7L483.4,374.8L484.3,374.5L485.1,374.6L486.0,374.5L486.8,374.6L487.7,374.6L488.6,374.8L489.4,374.6L490.3,374.3L491.1,374.2L492.0,374.4L492.8,374.7L493.7,374.8L494.6,374.8L495.4,374.8L496.3,374.5L497.1,374.0L498.0,373.6L498.9,373.4L499.7,373.5L500.6,373.6L501.4,373.6L502.3,373.4L503.1,373.3L504.0,373.2L504.9,373.1L505.7,372.8L506.6,372.5L507.4,372.1L508.3,372.0L509.2,371.9L510.0,371.9L510.9,371.5L511.7,371.7L512.6,371.4L513.4,371.2L514.3,370.7L515.2,370.5L516.0,370.4L516.9,370.4L517.7,370.6L518.6,370.5L519.4,370.1L520.3,369.8L521.2,369.7L522.0,369.4L522.9,369.1L523.7,368.8L524.6,368.9L525.5,368.8L526.3,368.8L527.2,368.2L528.0,368.2L528.9,368.4L529.7,368.8L530.6,368.5L531.5,367.9L532.3,367.6L533.2,367.4L534.0,367.5L534.9,367.3L535.8,367.5L536.6,367.5L537.5,367.1L538.3,366.9L539.2,366.4L540.0,366.4L540.9,366.2L540.9,376.4L540.0,376.2L539.2,375.9L538.3,375.7L537.5,375.7L536.6,375.7L535.8,375.8L534.9,375.9L534.0,375.9L533.2,375.8L532.3,375.8L531.5,375.8L530.6,375.8L529.7,375.8L528.9,375.4L528.0,375.6L527.2,375.6L526.3,376.0L525.5,375.9L524.6,376.3L523.7,376.2L522.9,376.2L522.0,376.1L521.2,376.3L520.3,376.7L519.4,376.8L518.6,377.1L517.7,376.9L516.9,377.1L516.0,377.2L515.2,377.6L514.3,377.9L513.4,378.2L512.6,378.4L511.7,378.1L510.9,378.4L510.0,378.7L509.2,379.1L508.3,379.1L507.4,379.1L506.6,379.3L505.7,379.3L504.9,379.2L504.0,379.1L503.1,379.6L502.3,379.9L501.4,380.0L500.6,380.1L499.7,380.2L498.9,380.2L498.0,380.0L497.1,380.0L496.3,380.0L495.4,379.9L494.6,380.2L493.7,380.4L492.8,380.6L492.0,380.4L491.1,380.3L490.3,380.1L489.4,380.4L488.6,380.4L487.7,380.4L486.8,380.0L486.0,379.9L485.1,380.3L484.3,380.3L483.4,380.6L482.6,380.6L481.7,380.3L480.8,380.3L480.0,380.2L479.1,380.1L478.3,379.6L477.4,379.3L476.5,379.0L475.7,379.0L474.8,378.9L474.0,379.4L473.1,379.2L472.3,378.8L471.4,378.3L470.5,377.9L469.7,377.8L468.8,377.3L468.0,376.3L467.1,375.1L466.2,374.0L465.4,373.1L464.5,371.9L463.7,370.7L462.8,369.4L462.0,368.0L461.1,366.8L460.2,365.3L459.4,363.7L458.5,362.2L457.7,361.2L456.8,360.9L456.0,360.5L455.1,360.2L454.2,358.8L453.4,357.5L452.5,356.0L451.7,354.7L450.8,352.9L449.9,351.1L449.1,349.0L448.2,347.0L447.4,345.1L446.5,343.3L445.7,341.7L444.8,339.5L443.9,337.6L443.1,335.7L442.2,334.6L441.4,333.4L440.5,332.3L439.6,330.8L438.8,329.8L437.9,328.6L437.1,328.4L436.2,328.0L435.4,328.1L434.5,327.8L433.6,327.7L432.8,327.2L431.9,326.8L431.1,326.9L430.2,327.3L429.3,328.3L428.5,329.0L427.6,329.3L426.8,330.1L425.9,330.6L425.1,331.2L424.2,331.4L423.3,331.8L422.5,332.7L421.6,333.6L420.8,333.9L419.9,334.7L419.1,335.2L418.2,335.9L417.3,335.8L416.5,336.1L415.6,336.3L414.8,336.3L413.9,336.1L413.0,336.0L412.2,335.7L411.3,335.3L410.5,334.9L409.6,335.2L408.8,335.1L407.9,335.3L407.0,334.9L406.2,334.3L405.3,333.7L404.5,333.1L403.6,332.9L402.7,332.1L401.9,331.0L401.0,329.4L400.2,327.3L399.3,324.1L398.5,319.1L397.6,314.0L396.7,307.5L395.9,300.8L395.0,293.7L394.2,288.1L393.3,282.8L392.5,278.2L391.6,274.3L390.7,271.0L389.9,269.1L389.0,267.1L388.2,265.9L387.3,264.3L386.4,263.0L385.6,261.9L384.7,260.9L383.9,260.5L383.0,259.5L382.2,259.0L381.3,258.4L380.4,258.4L379.6,258.3L378.7,257.8L377.9,257.8L377.0,257.6L376.1,258.0L375.3,258.2L374.4,259.2L373.6,260.1L372.7,260.9L371.9,261.6L371.0,262.1L370.1,262.7L369.3,263.7L368.4,264.8L367.6,266.0L366.7,267.2L365.9,268.5L365.0,269.9L364.1,270.9L363.3,272.0L362.4,272.8L361.6,274.1L360.7,275.0L359.8,276.1L359.0,277.6L358.1,278.9L357.3,280.5L356.4,281.8L355.6,283.0L354.7,284.0L353.8,284.6L353.0,285.0L352.1,285.6L351.3,286.2L350.4,287.1L349.5,287.9L348.7,288.3L347.8,288.1L347.0,287.9L346.1,287.5L345.3,287.2L344.4,286.5Z" fill="#f40b0b" stroke="#f40b0b" stroke-width="0.6" stroke-linejoin="round"/></g>
<rect x="344.4" y="243.4" width="196.5" height="153.7" fill="none" stroke="#707070" stroke-width=".8"/>
<path d="M358.0,397.1v-2.2M358.0,243.4v2.2M415.0,397.1v-2.2M415.0,243.4v2.2M471.8,397.1v-2.2M471.8,243.4v2.2M528.5,397.1v-2.2M528.5,243.4v2.2M344.4,265.4h2.2M540.9,265.4h-2.2M344.4,287.3h2.2M540.9,287.3h-2.2M344.4,309.3h2.2M540.9,309.3h-2.2M344.4,331.2h2.2M540.9,331.2h-2.2M344.4,353.2h2.2M540.9,353.2h-2.2M344.4,375.1h2.2M540.9,375.1h-2.2" stroke="#707070" stroke-width=".7" fill="none"/>
<text x="341.8" y="248.3" font-size="12.9" text-anchor="end">2</text>
<text x="341.8" y="270.4" font-size="12.9" text-anchor="end">1.5</text>
<text x="341.8" y="292.4" font-size="12.9" text-anchor="end">1</text>
<text x="341.8" y="314.5" font-size="12.9" text-anchor="end">0.5</text>
<text x="341.8" y="336.5" font-size="12.9" text-anchor="end">0</text>
<text x="341.8" y="358.6" font-size="12.9" text-anchor="end">−0.5</text>
<text x="341.8" y="380.7" font-size="12.9" text-anchor="end">−1</text>
<text x="341.8" y="402.7" font-size="12.9" text-anchor="end">−1.5</text>
<text x="358.9" y="412.3" font-size="12.9" text-anchor="middle" textLength="28.1" lengthAdjust="spacingAndGlyphs">1000</text>
<text x="415.8" y="412.3" font-size="12.9" text-anchor="middle" textLength="28.1" lengthAdjust="spacingAndGlyphs">1200</text>
<text x="471.4" y="412.3" font-size="12.9" text-anchor="middle" textLength="28.1" lengthAdjust="spacingAndGlyphs">1400</text>
<text x="526.9" y="412.3" font-size="12.9" text-anchor="middle" textLength="28.1" lengthAdjust="spacingAndGlyphs">1600</text>
<text x="387.2" y="426.5" font-size="15.2" textLength="86.0" lengthAdjust="spacingAndGlyphs">Wavelength</text>
<text x="476.8" y="426.5" font-size="15.2" textLength="33.3" lengthAdjust="spacingAndGlyphs">(nm)</text>
<text transform="translate(293.9,371.7) rotate(-90)" font-size="15.2" textLength="27.7" lengthAdjust="spacingAndGlyphs">SNV</text>
<text transform="translate(293.9,340.6) rotate(-90)" font-size="15.2" textLength="76.3" lengthAdjust="spacingAndGlyphs">normalized</text>
<text transform="translate(311.0,381.7) rotate(-90)" font-size="15.2" textLength="46.2" lengthAdjust="spacingAndGlyphs">diffuse</text>
<text transform="translate(311.0,332.0) rotate(-90)" font-size="15.2" textLength="75.4" lengthAdjust="spacingAndGlyphs">reflectance</text>
<text x="502.6" y="276.4" font-size="15.2" textLength="14.1" lengthAdjust="spacingAndGlyphs">IC</text>
<clipPath id="pe2"><rect x="52.6" y="441.7" width="212.2" height="153.4"/></clipPath>
<g clip-path="url(#pe2)"><path d="M52.6,520.0L53.5,520.0L54.5,520.1L55.4,520.1L56.3,520.1L57.2,520.1L58.2,520.1L59.1,520.1L60.0,520.1L60.9,520.1L61.9,520.2L62.8,520.2L63.7,520.2L64.6,520.2L65.6,520.2L66.5,520.2L67.4,520.2L68.4,520.2L69.3,520.2L70.2,520.2L71.1,520.2L72.1,520.2L73.0,520.2L73.9,520.2L74.8,520.1L75.8,520.1L76.7,520.0L77.6,519.9L78.5,519.8L79.5,519.7L80.4,519.6L81.3,519.5L82.3,519.4L83.2,519.3L84.1,519.2L85.0,519.1L86.0,519.0L86.9,519.0L87.8,518.9L88.7,518.9L89.7,518.9L90.6,518.9L91.5,518.9L92.4,518.8L93.4,518.8L94.3,518.8L95.2,518.8L96.2,518.8L97.1,518.7L98.0,518.7L98.9,518.7L99.9,518.7L100.8,518.7L101.7,518.7L102.6,518.7L103.6,518.7L104.5,518.9L105.4,519.4L106.3,520.2L107.3,521.0L108.2,522.0L109.1,523.1L110.1,524.7L111.0,526.7L111.9,528.8L112.8,530.9L113.8,532.8L114.7,534.8L115.6,536.8L116.5,538.9L117.5,540.9L118.4,542.8L119.3,544.6L120.2,546.2L121.2,547.8L122.1,549.3L123.0,550.8L124.0,552.2L124.9,553.4L125.8,554.5L126.7,555.4L127.7,556.4L128.6,557.3L129.5,558.0L130.4,558.5L131.4,558.6L132.3,557.6L133.2,555.7L134.1,553.4L135.1,551.2L136.0,549.0L136.9,546.5L137.9,544.0L138.8,541.6L139.7,539.4L140.6,537.6L141.6,535.9L142.5,534.3L143.4,532.8L144.3,531.4L145.3,530.2L146.2,529.2L147.1,528.4L148.0,527.7L149.0,527.1L149.9,526.6L150.8,526.3L151.8,526.0L152.7,525.7L153.6,525.4L154.5,525.2L155.5,525.0L156.4,524.9L157.3,524.8L158.2,524.9L159.2,525.0L160.1,525.3L161.0,525.7L161.9,526.2L162.9,526.8L163.8,527.3L164.7,528.0L165.6,528.6L166.6,529.5L167.5,530.6L168.4,531.9L169.4,533.3L170.3,534.7L171.2,536.3L172.1,537.8L173.1,539.3L174.0,541.1L174.9,542.9L175.8,544.9L176.8,546.9L177.7,548.9L178.6,550.8L179.5,552.6L180.5,554.2L181.4,555.7L182.3,557.2L183.3,558.7L184.2,560.1L185.1,561.4L186.0,562.6L187.0,563.6L187.9,564.5L188.8,565.3L189.7,566.0L190.7,566.7L191.6,567.4L192.5,567.9L193.4,568.4L194.4,568.7L195.3,568.9L196.2,569.0L197.2,569.1L198.1,569.2L199.0,569.2L199.9,569.3L200.9,569.3L201.8,569.4L202.7,569.4L203.6,569.4L204.6,569.4L205.5,569.4L206.4,569.4L207.3,569.3L208.3,569.1L209.2,568.8L210.1,568.6L211.1,568.2L212.0,567.9L212.9,567.5L213.8,567.2L214.8,566.8L215.7,566.5L216.6,566.2L217.5,565.8L218.5,565.5L219.4,565.1L220.3,564.7L221.2,564.3L222.2,563.8L223.1,563.4L224.0,563.0L225.0,562.6L225.9,562.1L226.8,561.7L227.7,561.2L228.7,560.8L229.6,560.3L230.5,559.8L231.4,559.3L232.4,558.9L233.3,558.4L234.2,557.9L235.1,557.4L236.1,557.0L237.0,556.5L237.9,556.1L238.9,555.7L239.8,555.3L240.7,554.9L241.6,554.5L242.6,554.1L243.5,553.7L244.4,553.3L245.3,553.0L246.3,552.6L247.2,552.2L248.1,551.9L249.0,551.6L250.0,551.2L250.9,550.9L251.8,550.6L252.8,550.2L253.7,549.9L254.6,549.5L255.5,549.2L256.5,548.9L257.4,548.7L258.3,548.6L259.2,548.6L260.2,548.6L261.1,548.6L262.0,548.6L262.9,548.7L263.9,548.8L264.8,548.9L264.8,567.8L263.9,567.9L262.9,568.0L262.0,568.1L261.1,568.2L260.2,568.3L259.2,568.4L258.3,568.6L257.4,568.7L256.5,568.9L255.5,569.1L254.6,569.3L253.7,569.6L252.8,569.8L251.8,570.1L250.9,570.3L250.0,570.6L249.0,570.9L248.1,571.2L247.2,571.6L246.3,572.0L245.3,572.3L244.4,572.7L243.5,573.1L242.6,573.5L241.6,573.9L240.7,574.3L239.8,574.7L238.9,575.1L237.9,575.5L237.0,575.9L236.1,576.2L235.1,576.6L234.2,577.0L233.3,577.4L232.4,577.7L231.4,578.1L230.5,578.5L229.6,578.9L228.7,579.2L227.7,579.6L226.8,580.0L225.9,580.3L225.0,580.7L224.0,581.1L223.1,581.4L222.2,581.8L221.2,582.2L220.3,582.5L219.4,582.9L218.5,583.2L217.5,583.6L216.6,583.9L215.7,584.2L214.8,584.4L213.8,584.8L212.9,585.1L212.0,585.4L211.1,585.7L210.1,586.0L209.2,586.2L208.3,586.4L207.3,586.6L206.4,586.7L205.5,586.7L204.6,586.7L203.6,586.7L202.7,586.7L201.8,586.7L200.9,586.6L199.9,586.6L199.0,586.5L198.1,586.4L197.2,586.4L196.2,586.3L195.3,586.2L194.4,586.1L193.4,585.8L192.5,585.5L191.6,585.1L190.7,584.6L189.7,584.1L188.8,583.6L187.9,583.0L187.0,582.3L186.0,581.5L185.1,580.6L184.2,579.5L183.3,578.4L182.3,577.1L181.4,575.8L180.5,574.5L179.5,573.0L178.6,571.3L177.7,569.4L176.8,567.4L175.8,565.4L174.9,563.4L174.0,561.4L173.1,559.7L172.1,558.0L171.2,556.4L170.3,554.8L169.4,553.2L168.4,551.7L167.5,550.3L166.6,549.1L165.6,548.1L164.7,547.4L163.8,546.7L162.9,546.0L161.9,545.4L161.0,544.9L160.1,544.4L159.2,544.1L158.2,543.9L157.3,543.9L156.4,543.9L155.5,544.0L154.5,544.1L153.6,544.3L152.7,544.5L151.8,544.7L150.8,544.9L149.9,545.2L149.0,545.6L148.0,546.2L147.1,546.9L146.2,547.8L145.3,548.7L144.3,549.8L143.4,551.0L142.5,552.3L141.6,553.8L140.6,555.4L139.7,557.1L138.8,559.2L137.9,561.7L136.9,564.3L136.0,566.7L135.1,568.9L134.1,570.8L133.2,572.9L132.3,574.5L131.4,575.4L130.4,575.2L129.5,574.7L128.6,574.0L127.7,573.1L126.7,572.2L125.8,571.3L124.9,570.4L124.0,569.4L123.0,568.3L122.1,567.1L121.2,565.9L120.2,564.6L119.3,563.3L118.4,561.8L117.5,560.1L116.5,558.4L115.6,556.7L114.7,554.9L113.8,553.1L112.8,551.2L111.9,549.1L111.0,547.0L110.1,545.0L109.1,543.4L108.2,542.3L107.3,541.4L106.3,540.6L105.4,540.0L104.5,539.5L103.6,539.3L102.6,539.3L101.7,539.4L100.8,539.4L99.9,539.4L98.9,539.4L98.0,539.5L97.1,539.5L96.2,539.6L95.2,539.6L94.3,539.7L93.4,539.8L92.4,539.8L91.5,539.9L90.6,539.9L89.7,540.0L88.7,540.1L87.8,540.1L86.9,540.2L86.0,540.3L85.0,540.4L84.1,540.5L83.2,540.6L82.3,540.7L81.3,540.8L80.4,540.9L79.5,541.0L78.5,541.1L77.6,541.2L76.7,541.2L75.8,541.3L74.8,541.3L73.9,541.3L73.0,541.4L72.1,541.4L71.1,541.4L70.2,541.4L69.3,541.3L68.4,541.3L67.4,541.3L66.5,541.3L65.6,541.3L64.6,541.3L63.7,541.3L62.8,541.3L61.9,541.3L60.9,541.2L60.0,541.2L59.1,541.2L58.2,541.2L57.2,541.1L56.3,541.1L55.4,541.0L54.5,541.0L53.5,540.9L52.6,540.8Z" fill="#0df2f2" stroke="#0df2f2" stroke-width="1" stroke-linejoin="round"/>
<path d="M52.6,511.1L53.5,511.0L54.5,510.9L55.4,511.0L56.3,511.2L57.2,511.1L58.2,511.1L59.1,511.1L60.0,511.1L60.9,511.1L61.9,511.2L62.8,511.3L63.7,511.4L64.6,511.3L65.6,511.1L66.5,511.1L67.4,511.1L68.4,511.2L69.3,511.1L70.2,511.1L71.1,511.0L72.1,511.1L73.0,511.2L73.9,511.3L74.8,511.1L75.8,510.8L76.7,510.6L77.6,510.6L78.5,510.6L79.5,510.6L80.4,510.5L81.3,510.4L82.3,510.2L83.2,510.0L84.1,509.8L85.0,509.7L86.0,509.8L86.9,509.8L87.8,509.9L88.7,509.9L89.7,510.0L90.6,509.9L91.5,509.8L92.4,509.8L93.4,509.8L94.3,509.9L95.2,510.0L96.2,510.0L97.1,510.0L98.0,510.0L98.9,509.9L99.9,509.9L100.8,509.8L101.7,509.8L102.6,509.8L103.6,509.8L104.5,510.2L105.4,510.6L106.3,511.4L107.3,512.2L108.2,513.1L109.1,514.2L110.1,515.7L111.0,517.7L111.9,519.8L112.8,522.1L113.8,524.3L114.7,526.4L115.6,528.6L116.5,530.7L117.5,532.7L118.4,534.7L119.3,536.6L120.2,538.3L121.2,540.1L122.1,541.8L123.0,543.5L124.0,545.0L124.9,546.3L125.8,547.3L126.7,548.2L127.7,549.0L128.6,550.0L129.5,550.7L130.4,551.4L131.4,551.5L132.3,550.5L133.2,548.3L134.1,545.7L135.1,543.5L136.0,541.3L136.9,539.0L137.9,536.3L138.8,533.9L139.7,531.7L140.6,530.1L141.6,528.4L142.5,526.6L143.4,525.0L144.3,523.4L145.3,522.3L146.2,521.3L147.1,520.6L148.0,519.8L149.0,519.2L149.9,518.6L150.8,518.1L151.8,517.8L152.7,517.5L153.6,517.2L154.5,516.8L155.5,516.6L156.4,516.8L157.3,516.9L158.2,517.0L159.2,516.8L160.1,517.0L161.0,517.4L161.9,518.0L162.9,518.6L163.8,519.1L164.7,519.8L165.6,520.5L166.6,521.4L167.5,522.2L168.4,523.5L169.4,524.8L170.3,526.4L171.2,527.8L172.1,529.3L173.1,530.7L174.0,532.2L174.9,534.2L175.8,536.1L176.8,538.3L177.7,540.3L178.6,542.3L179.5,544.0L180.5,545.6L181.4,547.2L182.3,548.8L183.3,550.4L184.2,551.9L185.1,553.1L186.0,554.3L187.0,555.3L187.9,556.4L188.8,557.2L189.7,558.2L190.7,558.9L191.6,559.6L192.5,560.2L193.4,560.8L194.4,561.4L195.3,561.8L196.2,561.9L197.2,561.7L198.1,561.7L199.0,561.6L199.9,561.8L200.9,561.8L201.8,562.0L202.7,561.9L203.6,561.9L204.6,561.8L205.5,561.9L206.4,561.8L207.3,561.7L208.3,561.4L209.2,561.2L210.1,561.0L211.1,560.8L212.0,560.5L212.9,560.1L213.8,559.7L214.8,559.4L215.7,558.8L216.6,558.5L217.5,558.0L218.5,557.7L219.4,557.2L220.3,556.9L221.2,556.6L222.2,556.2L223.1,555.6L224.0,555.1L225.0,554.7L225.9,554.5L226.8,554.2L227.7,553.6L228.7,552.9L229.6,552.1L230.5,551.7L231.4,551.3L232.4,550.8L233.3,550.2L234.2,549.6L235.1,549.0L236.1,548.5L237.0,548.2L237.9,548.1L238.9,547.7L239.8,547.3L240.7,546.6L241.6,546.2L242.6,545.5L243.5,545.2L244.4,544.9L245.3,544.9L246.3,544.5L247.2,544.2L248.1,543.5L249.0,543.2L250.0,542.9L250.9,542.7L251.8,542.0L252.8,541.7L253.7,541.4L254.6,541.1L255.5,540.7L256.5,540.3L257.4,540.3L258.3,540.2L259.2,540.3L260.2,540.2L261.1,540.2L262.0,540.1L262.9,540.1L263.9,540.3L264.8,540.6" fill="none" stroke="#0df2f2" stroke-width="1.15"/>
<path d="M52.6,512.5L53.5,512.5L54.5,512.4L55.4,512.2L56.3,512.3L57.2,512.3L58.2,512.5L59.1,512.5L60.0,512.5L60.9,512.6L61.9,512.6L62.8,512.6L63.7,512.3L64.6,512.2L65.6,512.2L66.5,512.3L67.4,512.5L68.4,512.4L69.3,512.4L70.2,512.4L71.1,512.6L72.1,512.6L73.0,512.4L73.9,512.4L74.8,512.4L75.8,512.6L76.7,512.4L77.6,512.5L78.5,512.3L79.5,512.2L80.4,511.8L81.3,511.6L82.3,511.4L83.2,511.4L84.1,511.4L85.0,511.3L86.0,511.4L86.9,511.2L87.8,511.2L88.7,511.1L89.7,511.1L90.6,511.1L91.5,511.2L92.4,511.3L93.4,511.4L94.3,511.3L95.2,511.4L96.2,511.1L97.1,511.0L98.0,510.9L98.9,510.9L99.9,511.0L100.8,511.2L101.7,511.0L102.6,510.9L103.6,510.7L104.5,511.2L105.4,511.8L106.3,512.7L107.3,513.4L108.2,514.5L109.1,515.7L110.1,517.4L111.0,519.1L111.9,521.3L112.8,523.4L113.8,525.6L114.7,527.7L115.6,529.7L116.5,531.8L117.5,533.9L118.4,535.9L119.3,537.8L120.2,539.5L121.2,541.1L122.1,542.9L123.0,544.5L124.0,546.1L124.9,547.5L125.8,548.4L126.7,549.3L127.7,550.3L128.6,551.3L129.5,551.9L130.4,552.3L131.4,552.5L132.3,551.5L133.2,549.5L134.1,546.9L135.1,544.6L136.0,542.3L136.9,539.9L137.9,537.4L138.8,535.0L139.7,532.8L140.6,531.1L141.6,529.3L142.5,527.8L143.4,526.2L144.3,524.6L145.3,523.2L146.2,522.2L147.1,521.7L148.0,521.1L149.0,520.5L149.9,520.0L150.8,519.4L151.8,519.2L152.7,518.8L153.6,518.6L154.5,518.4L155.5,518.2L156.4,518.0L157.3,517.8L158.2,517.8L159.2,518.1L160.1,518.8L161.0,519.2L161.9,519.6L162.9,519.7L163.8,520.3L164.7,520.8L165.6,521.4L166.6,522.2L167.5,523.3L168.4,524.7L169.4,526.1L170.3,527.6L171.2,528.9L172.1,530.2L173.1,531.7L174.0,533.4L174.9,535.4L175.8,537.5L176.8,539.5L177.7,541.4L178.6,543.4L179.5,545.0L180.5,546.7L181.4,548.4L182.3,550.2L183.3,551.7L184.2,553.1L185.1,554.5L186.0,555.9L187.0,556.9L187.9,557.7L188.8,558.4L189.7,559.5L190.7,560.2L191.6,561.0L192.5,561.5L193.4,562.3L194.4,562.6L195.3,562.8L196.2,562.7L197.2,562.8L198.1,563.0L199.0,563.0L199.9,563.0L200.9,562.8L201.8,562.9L202.7,562.8L203.6,562.8L204.6,562.8L205.5,562.9L206.4,563.0L207.3,563.0L208.3,562.8L209.2,562.5L210.1,562.2L211.1,561.7L212.0,561.2L212.9,560.9L213.8,560.7L214.8,560.6L215.7,560.2L216.6,559.7L217.5,559.2L218.5,558.9L219.4,558.5L220.3,558.1L221.2,557.5L222.2,557.0L223.1,556.7L224.0,556.4L225.0,556.0L225.9,555.3L226.8,554.8L227.7,554.4L228.7,553.9L229.6,553.5L230.5,552.7L231.4,552.2L232.4,551.7L233.3,551.4L234.2,550.9L235.1,550.3L236.1,549.8L237.0,549.4L237.9,549.0L238.9,548.6L239.8,548.2L240.7,547.9L241.6,547.6L242.6,547.1L243.5,546.6L244.4,546.2L245.3,545.8L246.3,545.3L247.2,545.1L248.1,544.7L249.0,544.5L250.0,544.1L250.9,543.9L251.8,543.5L252.8,543.1L253.7,542.9L254.6,542.4L255.5,542.0L256.5,541.6L257.4,541.6L258.3,541.6L259.2,541.5L260.2,541.4L261.1,541.3L262.0,541.4L262.9,541.6L263.9,542.0L264.8,542.3" fill="none" stroke="#0df2f2" stroke-width="1.15"/>
<path d="M52.6,514.0L53.5,514.0L54.5,514.1L55.4,514.1L56.3,514.0L57.2,514.0L58.2,514.1L59.1,514.1L60.0,514.2L60.9,514.1L61.9,514.3L62.8,514.2L63.7,514.4L64.6,514.3L65.6,514.4L66.5,514.3L67.4,514.1L68.4,514.1L69.3,514.2L70.2,514.4L71.1,514.2L72.1,514.1L73.0,514.0L73.9,514.1L74.8,514.0L75.8,514.1L76.7,514.2L77.6,514.1L78.5,513.9L79.5,513.8L80.4,513.8L81.3,513.6L82.3,513.4L83.2,513.2L84.1,513.0L85.0,513.0L86.0,513.0L86.9,513.1L87.8,513.0L88.7,512.8L89.7,512.6L90.6,512.6L91.5,512.9L92.4,512.9L93.4,512.8L94.3,512.9L95.2,512.8L96.2,512.9L97.1,512.8L98.0,512.7L98.9,512.8L99.9,512.6L100.8,512.6L101.7,512.5L102.6,512.7L103.6,512.9L104.5,513.0L105.4,513.6L106.3,514.4L107.3,515.3L108.2,516.3L109.1,517.2L110.1,518.7L111.0,520.7L111.9,523.0L112.8,525.2L113.8,527.0L114.7,529.1L115.6,531.0L116.5,533.1L117.5,535.2L118.4,537.2L119.3,539.2L120.2,540.8L121.2,542.5L122.1,544.3L123.0,546.0L124.0,547.6L124.9,548.7L125.8,549.9L126.7,550.8L127.7,551.8L128.6,552.9L129.5,553.5L130.4,553.9L131.4,553.8L132.3,552.5L133.2,550.4L134.1,548.0L135.1,546.1L136.0,543.9L136.9,541.6L137.9,539.1L138.8,536.7L139.7,534.6L140.6,532.8L141.6,531.1L142.5,529.3L143.4,527.7L144.3,526.2L145.3,525.0L146.2,523.9L147.1,523.1L148.0,522.5L149.0,521.9L149.9,521.6L150.8,521.2L151.8,520.7L152.7,520.3L153.6,520.0L154.5,519.8L155.5,519.9L156.4,519.6L157.3,519.5L158.2,519.4L159.2,519.7L160.1,520.0L161.0,520.3L161.9,520.7L162.9,521.3L163.8,522.0L164.7,522.5L165.6,523.2L166.6,524.0L167.5,525.2L168.4,526.1L169.4,527.3L170.3,528.6L171.2,530.3L172.1,531.9L173.1,533.6L174.0,535.4L174.9,537.2L175.8,539.1L176.8,541.2L177.7,543.1L178.6,545.1L179.5,546.9L180.5,548.6L181.4,550.0L182.3,551.5L183.3,552.9L184.2,554.6L185.1,556.0L186.0,557.3L187.0,558.4L187.9,559.3L188.8,560.1L189.7,561.0L190.7,561.7L191.6,562.4L192.5,562.9L193.4,563.4L194.4,563.7L195.3,563.9L196.2,563.9L197.2,564.1L198.1,564.2L199.0,564.4L199.9,564.3L200.9,564.4L201.8,564.4L202.7,564.5L203.6,564.4L204.6,564.5L205.5,564.4L206.4,564.6L207.3,564.2L208.3,564.0L209.2,563.7L210.1,563.6L211.1,563.3L212.0,562.9L212.9,562.4L213.8,562.1L214.8,561.5L215.7,561.3L216.6,560.8L217.5,560.7L218.5,560.4L219.4,560.0L220.3,559.7L221.2,559.2L222.2,558.6L223.1,557.8L224.0,557.6L225.0,557.3L225.9,557.0L226.8,556.3L227.7,555.8L228.7,555.5L229.6,555.0L230.5,554.7L231.4,554.1L232.4,553.4L233.3,552.8L234.2,552.3L235.1,552.0L236.1,551.5L237.0,551.1L237.9,550.8L238.9,550.2L239.8,549.8L240.7,549.3L241.6,548.9L242.6,548.6L243.5,548.3L244.4,548.0L245.3,547.6L246.3,547.2L247.2,546.8L248.1,546.5L249.0,546.1L250.0,545.8L250.9,545.3L251.8,545.0L252.8,544.6L253.7,544.2L254.6,543.8L255.5,543.4L256.5,543.2L257.4,543.0L258.3,543.0L259.2,543.0L260.2,543.1L261.1,543.0L262.0,542.9L262.9,543.1L263.9,543.4L264.8,543.6" fill="none" stroke="#0df2f2" stroke-width="1.15"/>
<path d="M52.6,515.3L53.5,515.3L54.5,515.2L55.4,515.1L56.3,515.1L57.2,515.1L58.2,515.2L59.1,515.3L60.0,515.2L60.9,515.2L61.9,515.2L62.8,515.1L63.7,515.0L64.6,514.9L65.6,515.0L66.5,515.1L67.4,515.1L68.4,515.1L69.3,515.2L70.2,515.2L71.1,515.1L72.1,515.1L73.0,515.0L73.9,515.2L74.8,515.2L75.8,515.2L76.7,515.0L77.6,514.9L78.5,514.8L79.5,514.8L80.4,514.8L81.3,514.7L82.3,514.6L83.2,514.4L84.1,514.3L85.0,514.2L86.0,514.3L86.9,514.0L87.8,514.0L88.7,514.0L89.7,514.0L90.6,514.1L91.5,514.1L92.4,514.1L93.4,513.9L94.3,513.9L95.2,514.1L96.2,514.1L97.1,514.1L98.0,514.1L98.9,514.0L99.9,513.8L100.8,513.6L101.7,513.7L102.6,513.9L103.6,514.0L104.5,514.1L105.4,514.5L106.3,515.3L107.3,516.3L108.2,517.3L109.1,518.3L110.1,519.8L111.0,521.8L111.9,523.9L112.8,526.2L113.8,528.1L114.7,530.0L115.6,532.0L116.5,534.2L117.5,536.3L118.4,538.4L119.3,540.3L120.2,542.1L121.2,543.7L122.1,545.1L123.0,546.7L124.0,548.2L124.9,549.7L125.8,550.8L126.7,551.7L127.7,552.5L128.6,553.3L129.5,554.0L130.4,554.4L131.4,554.5L132.3,553.6L133.2,551.7L134.1,549.3L135.1,547.0L136.0,544.7L136.9,542.3L137.9,539.7L138.8,537.3L139.7,535.1L140.6,533.4L141.6,531.7L142.5,530.1L143.4,528.6L144.3,527.2L145.3,525.7L146.2,524.8L147.1,524.0L148.0,523.4L149.0,522.9L149.9,522.5L150.8,522.2L151.8,521.8L152.7,521.3L153.6,520.9L154.5,520.7L155.5,520.5L156.4,520.4L157.3,520.3L158.2,520.5L159.2,520.5L160.1,520.8L161.0,521.2L161.9,521.7L162.9,522.2L163.8,522.6L164.7,523.4L165.6,523.9L166.6,524.8L167.5,525.6L168.4,526.9L169.4,528.5L170.3,529.9L171.2,531.5L172.1,532.9L173.1,534.7L174.0,536.4L174.9,538.5L175.8,540.2L176.8,542.2L177.7,544.0L178.6,546.0L179.5,547.8L180.5,549.4L181.4,550.8L182.3,552.2L183.3,553.8L184.2,555.3L185.1,556.6L186.0,557.9L187.0,559.0L187.9,560.1L188.8,560.9L189.7,561.6L190.7,562.4L191.6,563.1L192.5,563.7L193.4,564.3L194.4,564.7L195.3,565.0L196.2,565.0L197.2,565.2L198.1,565.4L199.0,565.4L199.9,565.3L200.9,565.3L201.8,565.3L202.7,565.4L203.6,565.3L204.6,565.3L205.5,565.3L206.4,565.1L207.3,565.0L208.3,564.7L209.2,564.7L210.1,564.6L211.1,564.5L212.0,564.0L212.9,563.6L213.8,563.3L214.8,563.0L215.7,562.6L216.6,562.1L217.5,561.7L218.5,561.2L219.4,560.8L220.3,560.2L221.2,559.9L222.2,559.6L223.1,559.2L224.0,558.8L225.0,558.4L225.9,558.1L226.8,557.4L227.7,556.8L228.7,556.5L229.6,556.0L230.5,555.4L231.4,554.8L232.4,554.2L233.3,553.8L234.2,553.3L235.1,553.0L236.1,552.6L237.0,552.1L237.9,551.7L238.9,551.2L239.8,550.7L240.7,550.2L241.6,549.8L242.6,549.6L243.5,549.4L244.4,549.0L245.3,548.5L246.3,547.9L247.2,547.5L248.1,547.4L249.0,547.1L250.0,546.8L250.9,546.3L251.8,546.0L252.8,545.6L253.7,545.3L254.6,544.9L255.5,544.6L256.5,544.4L257.4,544.3L258.3,544.2L259.2,544.2L260.2,544.1L261.1,544.0L262.0,544.0L262.9,544.0L263.9,544.1L264.8,544.4" fill="none" stroke="#0df2f2" stroke-width="1.15"/>
<path d="M52.6,516.8L53.5,516.9L54.5,516.9L55.4,516.6L56.3,516.6L57.2,516.4L58.2,516.7L59.1,516.6L60.0,516.8L60.9,516.9L61.9,516.8L62.8,516.8L63.7,516.7L64.6,516.7L65.6,516.7L66.5,516.7L67.4,516.9L68.4,516.7L69.3,517.0L70.2,517.0L71.1,516.9L72.1,516.6L73.0,516.6L73.9,516.7L74.8,516.7L75.8,516.6L76.7,516.6L77.6,516.5L78.5,516.4L79.5,516.2L80.4,516.1L81.3,516.1L82.3,516.1L83.2,516.0L84.1,515.9L85.0,515.8L86.0,515.9L86.9,515.8L87.8,515.8L88.7,515.6L89.7,515.6L90.6,515.6L91.5,515.5L92.4,515.5L93.4,515.5L94.3,515.6L95.2,515.7L96.2,515.7L97.1,515.6L98.0,515.7L98.9,515.6L99.9,515.6L100.8,515.5L101.7,515.6L102.6,515.6L103.6,515.5L104.5,515.8L105.4,516.4L106.3,517.1L107.3,517.9L108.2,518.8L109.1,519.9L110.1,521.5L111.0,523.3L111.9,525.5L112.8,527.8L113.8,530.0L114.7,532.0L115.6,533.9L116.5,535.9L117.5,537.8L118.4,539.9L119.3,541.7L120.2,543.4L121.2,545.1L122.1,546.6L123.0,548.2L124.0,549.4L124.9,550.7L125.8,551.8L126.7,552.9L127.7,553.9L128.6,554.7L129.5,555.3L130.4,555.7L131.4,555.8L132.3,554.8L133.2,552.8L134.1,550.5L135.1,548.3L136.0,546.0L136.9,543.6L137.9,541.1L138.8,538.7L139.7,536.6L140.6,535.0L141.6,533.2L142.5,531.3L143.4,529.7L144.3,528.4L145.3,527.2L146.2,526.2L147.1,525.5L148.0,524.6L149.0,523.8L149.9,523.2L150.8,523.2L151.8,523.0L152.7,522.7L153.6,522.3L154.5,522.2L155.5,522.1L156.4,521.9L157.3,521.8L158.2,522.0L159.2,522.2L160.1,522.5L161.0,522.8L161.9,523.2L162.9,523.6L163.8,524.2L164.7,524.8L165.6,525.6L166.6,526.5L167.5,527.6L168.4,529.0L169.4,530.1L170.3,531.6L171.2,533.0L172.1,534.5L173.1,536.0L174.0,537.8L174.9,539.8L175.8,541.8L176.8,543.6L177.7,545.5L178.6,547.5L179.5,549.5L180.5,551.0L181.4,552.4L182.3,553.8L183.3,555.5L184.2,557.1L185.1,558.5L186.0,559.9L187.0,560.9L187.9,561.7L188.8,562.2L189.7,563.0L190.7,563.9L191.6,564.7L192.5,565.3L193.4,565.7L194.4,566.2L195.3,566.4L196.2,566.4L197.2,566.3L198.1,566.2L199.0,566.2L199.9,566.3L200.9,566.6L201.8,566.9L202.7,566.9L203.6,566.8L204.6,566.6L205.5,566.7L206.4,566.7L207.3,566.6L208.3,566.4L209.2,566.2L210.1,565.8L211.1,565.4L212.0,565.1L212.9,564.8L213.8,564.4L214.8,564.1L215.7,564.0L216.6,563.8L217.5,563.2L218.5,562.7L219.4,562.2L220.3,561.8L221.2,561.4L222.2,560.7L223.1,560.5L224.0,560.2L225.0,560.0L225.9,559.4L226.8,558.8L227.7,558.3L228.7,557.9L229.6,557.3L230.5,557.0L231.4,556.4L232.4,555.9L233.3,555.4L234.2,554.9L235.1,554.6L236.1,553.9L237.0,553.3L237.9,552.9L238.9,552.4L239.8,552.3L240.7,551.7L241.6,551.2L242.6,550.8L243.5,550.6L244.4,550.4L245.3,549.9L246.3,549.5L247.2,549.1L248.1,548.8L249.0,548.3L250.0,548.0L250.9,547.8L251.8,547.5L252.8,547.2L253.7,546.8L254.6,546.4L255.5,545.9L256.5,545.5L257.4,545.4L258.3,545.5L259.2,545.3L260.2,545.4L261.1,545.5L262.0,545.6L262.9,545.6L263.9,545.6L264.8,545.9" fill="none" stroke="#0df2f2" stroke-width="1.15"/>
<path d="M52.6,517.8L53.5,517.8L54.5,517.9L55.4,517.9L56.3,518.0L57.2,517.7L58.2,517.7L59.1,517.6L60.0,517.7L60.9,517.9L61.9,517.7L62.8,517.9L63.7,517.7L64.6,517.8L65.6,517.8L66.5,517.9L67.4,517.9L68.4,518.0L69.3,518.1L70.2,518.0L71.1,517.9L72.1,518.0L73.0,518.2L73.9,518.2L74.8,518.0L75.8,518.0L76.7,517.9L77.6,517.8L78.5,517.7L79.5,517.2L80.4,517.1L81.3,517.1L82.3,517.1L83.2,517.0L84.1,516.8L85.0,516.9L86.0,517.0L86.9,516.7L87.8,516.7L88.7,516.6L89.7,516.6L90.6,516.6L91.5,516.6L92.4,516.9L93.4,516.9L94.3,516.5L95.2,516.4L96.2,516.3L97.1,516.5L98.0,516.5L98.9,516.7L99.9,516.7L100.8,516.6L101.7,516.4L102.6,516.4L103.6,516.4L104.5,516.6L105.4,517.2L106.3,518.0L107.3,518.8L108.2,519.7L109.1,520.9L110.1,522.5L111.0,524.6L111.9,526.7L112.8,528.8L113.8,530.7L114.7,532.8L115.6,535.0L116.5,537.1L117.5,539.0L118.4,540.8L119.3,542.5L120.2,544.1L121.2,545.8L122.1,547.5L123.0,549.0L124.0,550.4L124.9,551.6L125.8,552.7L126.7,553.7L127.7,554.7L128.6,555.6L129.5,556.1L130.4,556.5L131.4,556.7L132.3,556.0L133.2,554.2L134.1,551.7L135.1,549.2L136.0,547.0L136.9,544.6L137.9,542.1L138.8,539.7L139.7,537.5L140.6,535.9L141.6,534.0L142.5,532.4L143.4,530.7L144.3,529.5L145.3,528.3L146.2,527.3L147.1,526.5L148.0,525.8L149.0,525.3L149.9,524.9L150.8,524.4L151.8,524.1L152.7,523.7L153.6,523.3L154.5,523.1L155.5,522.9L156.4,522.9L157.3,522.7L158.2,522.8L159.2,522.8L160.1,523.1L161.0,523.5L161.9,523.9L162.9,524.7L163.8,525.2L164.7,525.9L165.6,526.4L166.6,527.3L167.5,528.6L168.4,529.9L169.4,531.2L170.3,532.6L171.2,534.0L172.1,535.7L173.1,537.3L174.0,538.9L174.9,540.6L175.8,542.7L176.8,544.8L177.7,547.0L178.6,548.8L179.5,550.4L180.5,551.9L181.4,553.4L182.3,555.0L183.3,556.5L184.2,557.8L185.1,559.2L186.0,560.5L187.0,561.6L187.9,562.5L188.8,563.1L189.7,563.9L190.7,564.6L191.6,565.3L192.5,565.8L193.4,566.3L194.4,566.7L195.3,567.1L196.2,567.1L197.2,567.3L198.1,567.3L199.0,567.3L199.9,567.3L200.9,567.3L201.8,567.5L202.7,567.5L203.6,567.5L204.6,567.6L205.5,567.7L206.4,567.8L207.3,567.7L208.3,567.4L209.2,567.2L210.1,566.9L211.1,566.5L212.0,566.1L212.9,565.7L213.8,565.5L214.8,565.2L215.7,564.8L216.6,564.2L217.5,563.9L218.5,563.5L219.4,563.1L220.3,562.5L221.2,562.1L222.2,561.6L223.1,561.4L224.0,560.9L225.0,560.7L225.9,560.4L226.8,560.0L227.7,559.4L228.7,558.7L229.6,558.1L230.5,557.7L231.4,557.1L232.4,556.7L233.3,556.2L234.2,555.9L235.1,555.4L236.1,554.9L237.0,554.4L237.9,553.9L238.9,553.4L239.8,553.0L240.7,552.8L241.6,552.6L242.6,552.2L243.5,551.6L244.4,551.3L245.3,550.9L246.3,550.6L247.2,550.2L248.1,549.8L249.0,549.5L250.0,549.2L250.9,548.9L251.8,548.5L252.8,548.2L253.7,547.7L254.6,547.4L255.5,547.0L256.5,546.8L257.4,546.5L258.3,546.3L259.2,546.2L260.2,546.2L261.1,546.4L262.0,546.6L262.9,546.6L263.9,546.7L264.8,546.8" fill="none" stroke="#0df2f2" stroke-width="1.15"/>
<path d="M52.6,518.9L53.5,518.8L54.5,518.9L55.4,518.8L56.3,518.9L57.2,519.1L58.2,519.2L59.1,519.2L60.0,519.3L60.9,519.3L61.9,519.3L62.8,519.3L63.7,519.4L64.6,519.4L65.6,519.4L66.5,519.3L67.4,519.4L68.4,519.4L69.3,519.3L70.2,519.3L71.1,519.3L72.1,519.3L73.0,519.1L73.9,519.2L74.8,519.2L75.8,519.2L76.7,519.1L77.6,519.1L78.5,518.9L79.5,518.8L80.4,518.7L81.3,518.8L82.3,518.8L83.2,518.6L84.1,518.5L85.0,518.4L86.0,518.3L86.9,518.3L87.8,518.3L88.7,518.4L89.7,518.4L90.6,518.3L91.5,518.1L92.4,518.0L93.4,518.0L94.3,518.1L95.2,518.0L96.2,518.0L97.1,518.0L98.0,517.9L98.9,517.9L99.9,517.9L100.8,517.9L101.7,517.8L102.6,517.7L103.6,517.7L104.5,518.0L105.4,518.6L106.3,519.5L107.3,520.5L108.2,521.5L109.1,522.5L110.1,524.1L111.0,526.0L111.9,528.0L112.8,530.1L113.8,532.1L114.7,533.9L115.6,535.9L116.5,537.9L117.5,539.9L118.4,541.9L119.3,543.7L120.2,545.5L121.2,547.1L122.1,548.7L123.0,550.1L124.0,551.4L124.9,552.5L125.8,553.4L126.7,554.2L127.7,555.4L128.6,556.4L129.5,557.3L130.4,557.8L131.4,558.0L132.3,557.1L133.2,555.2L134.1,553.0L135.1,550.9L136.0,548.6L136.9,546.0L137.9,543.3L138.8,540.8L139.7,538.6L140.6,536.6L141.6,535.1L142.5,533.6L143.4,532.2L144.3,530.5L145.3,529.4L146.2,528.4L147.1,527.6L148.0,526.7L149.0,526.1L149.9,525.6L150.8,525.4L151.8,525.3L152.7,525.2L153.6,525.0L154.5,524.7L155.5,524.4L156.4,524.0L157.3,523.9L158.2,523.8L159.2,524.0L160.1,524.4L161.0,525.0L161.9,525.6L162.9,526.0L163.8,526.5L164.7,527.0L165.6,527.6L166.6,528.7L167.5,530.0L168.4,531.2L169.4,532.5L170.3,533.8L171.2,535.3L172.1,536.8L173.1,538.3L174.0,540.1L174.9,542.1L175.8,544.0L176.8,546.0L177.7,547.8L178.6,549.9L179.5,551.6L180.5,553.3L181.4,554.7L182.3,556.3L183.3,557.7L184.2,559.0L185.1,560.5L186.0,561.8L187.0,563.0L187.9,563.9L188.8,564.7L189.7,565.5L190.7,566.0L191.6,566.8L192.5,567.3L193.4,567.8L194.4,568.1L195.3,568.2L196.2,568.4L197.2,568.3L198.1,568.3L199.0,568.3L199.9,568.5L200.9,568.4L201.8,568.5L202.7,568.5L203.6,568.7L204.6,568.6L205.5,568.5L206.4,568.4L207.3,568.2L208.3,568.1L209.2,567.8L210.1,567.7L211.1,567.5L212.0,567.1L212.9,567.0L213.8,566.6L214.8,566.2L215.7,565.6L216.6,565.2L217.5,565.0L218.5,564.6L219.4,564.2L220.3,563.9L221.2,563.6L222.2,563.2L223.1,562.6L224.0,562.2L225.0,561.9L225.9,561.5L226.8,561.2L227.7,560.3L228.7,559.9L229.6,559.4L230.5,559.3L231.4,558.8L232.4,558.1L233.3,557.5L234.2,556.9L235.1,556.5L236.1,555.9L237.0,555.6L237.9,555.4L238.9,555.1L239.8,554.5L240.7,554.2L241.6,553.7L242.6,553.4L243.5,552.7L244.4,552.5L245.3,552.2L246.3,552.0L247.2,551.5L248.1,551.2L249.0,550.8L250.0,550.3L250.9,550.0L251.8,549.7L252.8,549.5L253.7,549.1L254.6,548.7L255.5,548.5L256.5,548.3L257.4,548.1L258.3,547.8L259.2,547.6L260.2,547.5L261.1,547.6L262.0,547.7L262.9,547.8L263.9,548.0L264.8,548.2" fill="none" stroke="#0df2f2" stroke-width="1.15"/>
<path d="M52.6,465.8L53.5,465.8L54.5,465.7L55.4,465.6L56.3,465.6L57.2,465.4L58.2,465.4L59.1,465.3L60.0,465.4L60.9,465.3L61.9,465.5L62.8,465.4L63.7,465.3L64.6,465.3L65.6,465.3L66.5,465.4L67.4,465.3L68.4,465.3L69.3,465.4L70.2,465.4L71.1,465.2L72.1,465.1L73.0,465.1L73.9,465.4L74.8,465.4L75.8,465.5L76.7,465.5L77.6,465.5L78.5,465.5L79.5,465.5L80.4,465.5L81.3,465.6L82.3,465.7L83.2,465.9L84.1,465.8L85.0,465.9L86.0,466.1L86.9,466.2L87.8,466.2L88.7,466.2L89.7,466.1L90.6,466.1L91.5,466.1L92.4,466.2L93.4,466.4L94.3,466.5L95.2,466.6L96.2,466.7L97.1,466.8L98.0,466.8L98.9,467.0L99.9,467.3L100.8,467.7L101.7,467.9L102.6,467.9L103.6,468.1L104.5,468.4L105.4,469.1L106.3,469.6L107.3,470.6L108.2,471.6L109.1,473.0L110.1,474.3L111.0,475.7L111.9,477.4L112.8,479.5L113.8,481.7L114.7,483.9L115.6,486.0L116.5,488.0L117.5,489.8L118.4,491.8L119.3,493.4L120.2,495.4L121.2,497.0L122.1,498.6L123.0,500.1L124.0,501.6L124.9,503.2L125.8,504.5L126.7,505.8L127.7,507.4L128.6,508.5L129.5,509.9L130.4,511.0L131.4,511.8L132.3,511.5L133.2,510.0L134.1,508.0L135.1,506.0L136.0,503.6L136.9,501.0L137.9,498.2L138.8,496.0L139.7,493.9L140.6,492.1L141.6,490.2L142.5,488.6L143.4,486.9L144.3,485.7L145.3,484.5L146.2,483.8L147.1,482.8L148.0,482.1L149.0,481.3L149.9,481.1L150.8,480.7L151.8,480.5L152.7,480.2L153.6,480.0L154.5,479.9L155.5,479.8L156.4,479.9L157.3,479.8L158.2,480.0L159.2,480.1L160.1,480.4L161.0,480.8L161.9,481.3L162.9,481.8L163.8,482.5L164.7,483.3L165.6,484.1L166.6,485.0L167.5,486.1L168.4,487.2L169.4,488.7L170.3,490.4L171.2,492.2L172.1,493.9L173.1,495.6L174.0,497.5L174.9,499.5L175.8,501.6L176.8,503.6L177.7,505.6L178.6,507.7L179.5,509.8L180.5,511.5L181.4,513.1L182.3,514.7L183.3,516.3L184.2,517.9L185.1,519.5L186.0,520.8L187.0,521.9L187.9,522.6L188.8,523.3L189.7,523.9L190.7,524.7L191.6,525.0L192.5,525.4L193.4,525.7L194.4,526.3L195.3,526.3L196.2,526.3L197.2,526.3L198.1,526.3L199.0,526.1L199.9,526.0L200.9,526.0L201.8,526.2L202.7,526.1L203.6,526.4L204.6,526.3L205.5,526.3L206.4,526.1L207.3,525.8L208.3,525.7L209.2,525.5L210.1,525.2L211.1,524.9L212.0,524.2L212.9,523.8L213.8,523.4L214.8,522.9L215.7,522.6L216.6,522.0L217.5,521.5L218.5,520.8L219.4,520.1L220.3,519.7L221.2,519.3L222.2,518.8L223.1,518.2L224.0,517.6L225.0,517.1L225.9,516.5L226.8,516.1L227.7,515.5L228.7,515.1L229.6,514.5L230.5,513.9L231.4,513.3L232.4,512.9L233.3,512.3L234.2,511.8L235.1,511.1L236.1,510.7L237.0,510.3L237.9,509.9L238.9,509.6L239.8,509.1L240.7,508.9L241.6,508.4L242.6,507.9L243.5,507.2L244.4,506.8L245.3,506.5L246.3,506.2L247.2,506.0L248.1,505.7L249.0,505.4L250.0,505.1L250.9,504.8L251.8,504.6L252.8,504.5L253.7,504.3L254.6,504.1L255.5,503.7L256.5,503.4L257.4,503.4L258.3,503.3L259.2,503.3L260.2,503.4L261.1,503.6L262.0,503.7L262.9,503.9L263.9,504.3L264.8,504.6" fill="none" stroke="#0df2f2" stroke-width="1.5"/>
<path d="M52.6,486.8L53.5,486.9L54.5,486.8L55.4,486.9L56.3,486.7L57.2,486.7L58.2,486.4L59.1,486.5L60.0,486.3L60.9,486.4L61.9,486.5L62.8,486.5L63.7,486.5L64.6,486.5L65.6,486.3L66.5,486.4L67.4,486.2L68.4,486.3L69.3,486.1L70.2,486.1L71.1,486.0L72.1,485.9L73.0,485.8L73.9,485.8L74.8,485.8L75.8,485.6L76.7,485.4L77.6,485.2L78.5,485.2L79.5,485.1L80.4,485.0L81.3,484.8L82.3,484.6L83.2,484.4L84.1,484.1L85.0,484.0L86.0,483.9L86.9,484.0L87.8,483.8L88.7,484.0L89.7,484.0L90.6,484.1L91.5,484.1L92.4,484.1L93.4,483.9L94.3,484.1L95.2,484.2L96.2,484.5L97.1,484.6L98.0,484.7L98.9,484.7L99.9,484.6L100.8,484.7L101.7,484.7L102.6,485.0L103.6,485.6L104.5,486.1L105.4,486.9L106.3,487.5L107.3,488.5L108.2,489.5L109.1,490.9L110.1,492.6L111.0,494.5L111.9,496.4L112.8,498.2L113.8,500.3L114.7,502.5L115.6,504.6L116.5,506.9L117.5,508.8L118.4,510.8L119.3,512.4L120.2,514.1L121.2,515.6L122.1,517.0L123.0,518.3L124.0,519.7L124.9,521.1L125.8,522.3L126.7,523.1L127.7,524.0L128.6,524.7L129.5,525.3L130.4,525.7L131.4,525.9L132.3,525.1L133.2,523.4L134.1,521.5L135.1,519.5L136.0,517.4L136.9,515.2L137.9,512.7L138.8,510.3L139.7,508.0L140.6,506.1L141.6,504.6L142.5,502.9L143.4,501.4L144.3,499.9L145.3,498.6L146.2,497.5L147.1,495.8L148.0,494.2L149.0,492.8L149.9,492.2L150.8,492.2L151.8,492.0L152.7,492.0L153.6,491.8L154.5,491.7L155.5,491.5L156.4,491.5L157.3,491.5L158.2,491.4L159.2,491.6L160.1,491.8L161.0,492.3L161.9,492.8L162.9,493.6L163.8,494.2L164.7,495.2L165.6,496.1L166.6,497.4L167.5,498.4L168.4,499.7L169.4,501.2L170.3,502.9L171.2,504.7L172.1,506.3L173.1,508.1L174.0,509.9L174.9,512.0L175.8,513.9L176.8,516.1L177.7,518.2L178.6,520.4L179.5,522.4L180.5,524.1L181.4,525.8L182.3,527.6L183.3,528.9L184.2,530.5L185.1,531.9L186.0,533.2L187.0,534.1L187.9,534.9L188.8,535.7L189.7,536.4L190.7,537.0L191.6,537.6L192.5,538.2L193.4,538.4L194.4,538.7L195.3,538.9L196.2,539.0L197.2,538.7L198.1,538.7L199.0,538.6L199.9,538.7L200.9,538.7L201.8,538.5L202.7,538.7L203.6,538.4L204.6,538.6L205.5,538.4L206.4,538.2L207.3,537.9L208.3,537.7L209.2,537.6L210.1,537.4L211.1,536.9L212.0,536.5L212.9,536.1L213.8,535.8L214.8,535.3L215.7,534.8L216.6,534.5L217.5,534.2L218.5,533.8L219.4,533.2L220.3,532.7L221.2,532.2L222.2,531.8L223.1,531.1L224.0,530.6L225.0,530.1L225.9,529.7L226.8,529.5L227.7,529.2L228.7,528.7L229.6,528.2L230.5,527.6L231.4,527.0L232.4,526.4L233.3,525.9L234.2,525.5L235.1,525.1L236.1,524.5L237.0,524.1L237.9,523.7L238.9,523.5L239.8,523.2L240.7,522.9L241.6,522.4L242.6,522.0L243.5,521.6L244.4,521.4L245.3,521.2L246.3,521.3L247.2,521.1L248.1,520.7L249.0,520.3L250.0,519.9L250.9,519.7L251.8,519.6L252.8,519.6L253.7,519.4L254.6,518.9L255.5,518.7L256.5,518.7L257.4,518.7L258.3,518.6L259.2,518.6L260.2,518.6L261.1,518.8L262.0,519.0L262.9,519.4L263.9,519.5L264.8,520.0" fill="none" stroke="#0df2f2" stroke-width="1.5"/>
<path d="M52.6,497.7L53.5,497.7L54.5,497.7L55.4,497.8L56.3,497.7L57.2,497.6L58.2,497.4L59.1,497.3L60.0,497.3L60.9,497.7L61.9,497.6L62.8,497.4L63.7,497.1L64.6,497.2L65.6,497.2L66.5,497.1L67.4,496.8L68.4,496.8L69.3,496.8L70.2,496.9L71.1,496.9L72.1,496.7L73.0,496.5L73.9,496.5L74.8,496.4L75.8,496.2L76.7,495.9L77.6,495.7L78.5,495.5L79.5,495.1L80.4,494.9L81.3,494.7L82.3,494.7L83.2,494.4L84.1,494.1L85.0,493.8L86.0,493.5L86.9,493.4L87.8,493.3L88.7,493.3L89.7,493.4L90.6,493.3L91.5,493.2L92.4,493.0L93.4,493.2L94.3,493.2L95.2,493.2L96.2,493.1L97.1,493.0L98.0,493.0L98.9,493.1L99.9,493.1L100.8,493.3L101.7,493.3L102.6,493.6L103.6,493.9L104.5,494.3L105.4,495.0L106.3,495.7L107.3,496.6L108.2,497.6L109.1,498.9L110.1,500.4L111.0,502.2L111.9,504.2L112.8,506.0L113.8,507.9L114.7,510.0L115.6,512.1L116.5,514.1L117.5,515.9L118.4,517.8L119.3,519.4L120.2,521.0L121.2,522.2L122.1,523.6L123.0,525.0L124.0,526.3L124.9,527.4L125.8,528.4L126.7,529.2L127.7,530.2L128.6,531.1L129.5,531.9L130.4,532.3L131.4,532.4L132.3,531.6L133.2,530.0L134.1,528.0L135.1,526.0L136.0,523.8L136.9,521.3L137.9,518.8L138.8,516.5L139.7,514.5L140.6,512.6L141.6,511.0L142.5,509.5L143.4,508.2L144.3,506.9L145.3,505.6L146.2,504.5L147.1,502.9L148.0,501.3L149.0,499.8L149.9,499.0L150.8,498.9L151.8,498.7L152.7,498.5L153.6,498.2L154.5,498.1L155.5,497.9L156.4,498.0L157.3,497.9L158.2,498.1L159.2,498.2L160.1,498.7L161.0,499.1L161.9,499.5L162.9,500.1L163.8,500.7L164.7,501.3L165.6,501.7L166.6,502.8L167.5,504.1L168.4,505.7L169.4,507.2L170.3,508.8L171.2,510.4L172.1,512.0L173.1,513.7L174.0,515.6L174.9,517.8L175.8,519.7L176.8,521.8L177.7,523.6L178.6,525.7L179.5,527.5L180.5,529.2L181.4,530.7L182.3,532.3L183.3,533.7L184.2,534.8L185.1,536.1L186.0,537.0L187.0,538.0L187.9,538.8L188.8,539.4L189.7,540.0L190.7,540.5L191.6,541.0L192.5,541.2L193.4,541.4L194.4,541.6L195.3,541.9L196.2,541.9L197.2,542.0L198.1,541.7L199.0,541.7L199.9,541.6L200.9,541.6L201.8,541.2L202.7,541.0L203.6,541.0L204.6,541.0L205.5,541.0L206.4,540.7L207.3,540.3L208.3,540.1L209.2,539.9L210.1,539.7L211.1,539.3L212.0,538.9L212.9,538.6L213.8,538.3L214.8,537.8L215.7,537.3L216.6,536.9L217.5,536.4L218.5,536.1L219.4,535.6L220.3,535.1L221.2,534.7L222.2,534.3L223.1,533.8L224.0,533.1L225.0,532.5L225.9,532.0L226.8,531.6L227.7,531.1L228.7,530.5L229.6,530.1L230.5,529.7L231.4,529.2L232.4,528.6L233.3,528.0L234.2,527.5L235.1,527.1L236.1,526.5L237.0,526.1L237.9,525.5L238.9,525.4L239.8,525.2L240.7,525.1L241.6,524.7L242.6,524.2L243.5,523.8L244.4,523.3L245.3,523.1L246.3,522.6L247.2,522.3L248.1,522.0L249.0,522.0L250.0,521.8L250.9,521.7L251.8,521.6L252.8,521.3L253.7,520.9L254.6,520.4L255.5,520.3L256.5,520.2L257.4,520.1L258.3,520.2L259.2,520.3L260.2,520.5L261.1,520.5L262.0,520.6L262.9,520.9L263.9,521.2L264.8,521.5" fill="none" stroke="#0df2f2" stroke-width="1.5"/></g>
<rect x="52.6" y="441.7" width="212.2" height="153.4" fill="none" stroke="#707070" stroke-width=".8"/>
<path d="M68.8,595.1v-2.2M68.8,441.7v2.2M128.9,595.1v-2.2M128.9,441.7v2.2M189.3,595.1v-2.2M189.3,441.7v2.2M249.9,595.1v-2.2M249.9,441.7v2.2M52.6,472.4h2.2M264.8,472.4h-2.2M52.6,503.1h2.2M264.8,503.1h-2.2M52.6,533.7h2.2M264.8,533.7h-2.2M52.6,564.4h2.2M264.8,564.4h-2.2" stroke="#707070" stroke-width=".7" fill="none"/>
<text x="49.9" y="447.4" font-size="13.2" text-anchor="end">100</text>
<text x="49.9" y="478.2" font-size="13.2" text-anchor="end">80</text>
<text x="49.9" y="509.0" font-size="13.2" text-anchor="end">60</text>
<text x="49.9" y="539.7" font-size="13.2" text-anchor="end">40</text>
<text x="49.9" y="570.5" font-size="13.2" text-anchor="end">20</text>
<text x="49.9" y="601.3" font-size="13.2" text-anchor="end">0</text>
<text x="67.5" y="609.2" font-size="13.2" text-anchor="middle" textLength="30.1" lengthAdjust="spacingAndGlyphs">1000</text>
<text x="129.9" y="609.2" font-size="13.2" text-anchor="middle" textLength="30.1" lengthAdjust="spacingAndGlyphs">1200</text>
<text x="189.9" y="609.2" font-size="13.2" text-anchor="middle" textLength="30.1" lengthAdjust="spacingAndGlyphs">1400</text>
<text x="250.2" y="609.2" font-size="13.2" text-anchor="middle" textLength="30.1" lengthAdjust="spacingAndGlyphs">1600</text>
<text x="96.2" y="623.4" font-size="15.2" textLength="85.5" lengthAdjust="spacingAndGlyphs">Wavelength</text>
<text x="185.3" y="623.4" font-size="15.2" textLength="33.2" lengthAdjust="spacingAndGlyphs">(nm)</text>
<text transform="translate(21.2,588.5) rotate(-90)" font-size="15.2" textLength="47.9" lengthAdjust="spacingAndGlyphs">Diffuse</text>
<text transform="translate(21.2,537.1) rotate(-90)" font-size="15.2" textLength="75.5" lengthAdjust="spacingAndGlyphs">reflectance</text>
<text transform="translate(21.2,458.1) rotate(-90)" font-size="15.2" textLength="22.2" lengthAdjust="spacingAndGlyphs">(%)</text>
<text x="185.1" y="473.6" font-size="15.2" textLength="58.6" lengthAdjust="spacingAndGlyphs">Adipose</text>
<clipPath id="pf2"><rect x="344.4" y="441.7" width="196.5" height="153.3"/></clipPath>
<g clip-path="url(#pf2)"><path d="M344.4,448.1L345.2,447.6L345.9,447.5L346.7,447.4L347.4,447.4L348.2,447.0L349.0,446.9L349.7,446.8L350.5,446.6L351.2,446.5L352.0,446.8L352.7,447.5L353.5,448.1L354.3,448.4L355.0,448.7L355.8,448.6L356.5,448.7L357.3,448.9L358.1,449.4L358.8,449.5L359.6,449.5L360.3,449.6L361.1,449.6L361.8,449.5L362.6,449.4L363.4,449.8L364.1,450.0L364.9,449.8L365.6,449.7L366.4,449.6L367.2,449.9L367.9,449.9L368.7,450.0L369.4,449.9L370.2,449.8L371.0,449.7L371.7,449.7L372.5,449.7L373.2,449.7L374.0,449.2L374.7,449.1L375.5,448.7L376.3,448.5L377.0,448.1L377.8,447.9L378.5,447.8L379.3,447.7L380.1,447.8L380.8,447.8L381.6,447.7L382.3,447.2L383.1,447.1L383.9,447.1L384.6,447.3L385.4,447.2L386.1,446.9L386.9,446.7L387.6,446.7L388.4,446.7L389.2,446.8L389.9,447.2L390.7,447.5L391.4,448.4L392.2,448.8L393.0,450.0L393.7,450.7L394.5,452.4L395.2,454.6L396.0,458.1L396.7,461.8L397.5,465.8L398.3,469.6L399.0,473.8L399.8,478.0L400.5,482.2L401.3,486.1L402.1,490.0L402.8,494.1L403.6,497.5L404.3,500.9L405.1,503.1L405.9,505.5L406.6,507.4L407.4,509.9L408.1,511.8L408.9,514.0L409.6,515.5L410.4,517.3L411.2,519.3L411.9,521.7L412.7,525.0L413.4,528.6L414.2,531.9L415.0,533.9L415.7,535.2L416.5,536.4L417.2,537.5L418.0,537.0L418.8,532.6L419.5,526.2L420.3,520.3L421.0,514.6L421.8,508.4L422.5,502.6L423.3,497.7L424.1,494.0L424.8,490.9L425.6,488.1L426.3,485.6L427.1,482.6L427.9,479.5L428.6,476.3L429.4,473.5L430.1,471.7L430.9,470.1L431.6,469.0L432.4,468.5L433.2,467.5L433.9,466.7L434.7,465.7L435.4,465.5L436.2,464.9L437.0,464.1L437.7,463.7L438.5,463.3L439.2,463.3L440.0,462.9L440.8,462.9L441.5,462.9L442.3,463.4L443.0,463.8L443.8,464.1L444.5,464.3L445.3,464.5L446.1,465.3L446.8,466.3L447.6,467.7L448.3,469.2L449.1,470.9L449.9,472.5L450.6,474.3L451.4,476.2L452.1,478.5L452.9,480.8L453.7,483.4L454.4,485.8L455.2,488.6L455.9,490.8L456.7,493.8L457.4,496.6L458.2,499.7L459.0,502.7L459.7,506.3L460.5,510.0L461.2,513.7L462.0,517.4L462.8,521.8L463.5,526.2L464.3,530.6L465.0,534.6L465.8,539.3L466.5,543.8L467.3,548.4L468.1,552.1L468.8,555.5L469.6,558.2L470.3,560.9L471.1,563.0L471.9,564.8L472.6,566.2L473.4,567.2L474.1,568.0L474.9,568.6L475.7,569.2L476.4,569.6L477.2,569.9L477.9,570.1L478.7,570.2L479.4,570.5L480.2,570.4L481.0,570.8L481.7,570.8L482.5,570.9L483.2,571.0L484.0,571.2L484.8,571.4L485.5,570.9L486.3,570.6L487.0,570.1L487.8,570.0L488.6,569.4L489.3,568.9L490.1,568.6L490.8,568.1L491.6,567.2L492.3,566.0L493.1,564.8L493.9,563.9L494.6,563.1L495.4,561.9L496.1,560.8L496.9,559.3L497.7,558.1L498.4,556.9L499.2,555.7L499.9,554.2L500.7,552.7L501.4,551.5L502.2,550.4L503.0,549.4L503.7,548.0L504.5,546.7L505.2,545.5L506.0,544.3L506.8,543.0L507.5,541.8L508.3,540.9L509.0,539.8L509.8,538.9L510.6,537.8L511.3,536.8L512.1,535.7L512.8,534.7L513.6,533.9L514.3,533.1L515.1,532.1L515.9,530.9L516.6,530.2L517.4,529.6L518.1,529.0L518.9,528.2L519.7,527.7L520.4,526.7L521.2,526.1L521.9,525.1L522.7,524.8L523.5,524.2L524.2,523.5L525.0,523.0L525.7,522.3L526.5,522.0L527.2,521.5L528.0,521.0L528.8,520.4L529.5,520.1L530.3,520.0L531.0,519.7L531.8,519.2L532.6,519.3L533.3,519.4L534.1,519.7L534.8,519.4L535.6,519.3L536.3,519.5L537.1,519.7L537.9,520.3L538.6,520.7L539.4,521.4L540.1,521.7L540.9,522.4L540.9,535.1L540.1,534.8L539.4,534.4L538.6,534.0L537.9,533.6L537.1,533.7L536.3,533.7L535.6,533.8L534.8,534.1L534.1,534.7L533.3,535.4L532.6,535.4L531.8,535.6L531.0,535.5L530.3,535.9L529.5,535.9L528.8,536.5L528.0,536.9L527.2,537.4L526.5,537.5L525.7,537.4L525.0,537.9L524.2,538.5L523.5,539.4L522.7,539.8L521.9,540.1L521.2,540.9L520.4,541.7L519.7,542.6L518.9,543.4L518.1,544.0L517.4,544.6L516.6,545.4L515.9,546.3L515.1,547.1L514.3,547.9L513.6,548.8L512.8,550.0L512.1,551.1L511.3,552.0L510.6,552.9L509.8,554.0L509.0,555.3L508.3,556.6L507.5,557.7L506.8,558.7L506.0,559.8L505.2,560.8L504.5,561.9L503.7,562.6L503.0,563.7L502.2,565.0L501.4,566.2L500.7,567.6L499.9,568.8L499.2,570.1L498.4,571.4L497.7,572.4L496.9,573.7L496.1,574.5L495.4,575.4L494.6,576.1L493.9,577.0L493.1,578.2L492.3,578.9L491.6,579.8L490.8,580.1L490.1,580.9L489.3,581.2L488.6,581.6L487.8,581.9L487.0,581.9L486.3,582.4L485.5,582.6L484.8,583.0L484.0,583.1L483.2,583.1L482.5,582.9L481.7,582.8L481.0,582.7L480.2,582.4L479.4,581.9L478.7,581.7L477.9,581.5L477.2,581.2L476.4,580.8L475.7,580.5L474.9,580.5L474.1,580.5L473.4,580.2L472.6,579.4L471.9,578.1L471.1,576.6L470.3,574.8L469.6,572.9L468.8,570.9L468.1,568.2L467.3,565.3L466.5,562.3L465.8,559.1L465.0,555.7L464.3,551.8L463.5,547.1L462.8,542.6L462.0,538.2L461.2,533.8L460.5,529.9L459.7,526.0L459.0,522.9L458.2,519.1L457.4,515.5L456.7,512.1L455.9,509.0L455.2,506.2L454.4,503.2L453.7,500.6L452.9,498.3L452.1,496.0L451.4,493.6L450.6,491.6L449.9,489.9L449.1,488.1L448.3,486.3L447.6,484.6L446.8,483.2L446.1,481.7L445.3,480.6L444.5,479.8L443.8,479.4L443.0,479.2L442.3,478.7L441.5,478.6L440.8,478.5L440.0,478.5L439.2,478.7L438.5,478.8L437.7,479.2L437.0,479.6L436.2,480.1L435.4,480.6L434.7,480.8L433.9,481.3L433.2,482.0L432.4,483.1L431.6,484.0L430.9,484.7L430.1,485.8L429.4,487.7L428.6,491.4L427.9,495.8L427.1,500.4L426.3,504.7L425.6,508.9L424.8,513.3L424.1,517.9L423.3,522.9L422.5,528.8L421.8,535.7L421.0,542.5L420.3,548.0L419.5,552.4L418.8,556.4L418.0,558.8L417.2,559.3L416.5,558.1L415.7,556.7L415.0,554.6L414.2,552.7L413.4,549.6L412.7,546.7L411.9,544.0L411.2,541.7L410.4,539.3L409.6,536.6L408.9,533.8L408.1,531.3L407.4,528.7L406.6,526.1L405.9,523.0L405.1,519.9L404.3,517.1L403.6,514.9L402.8,512.6L402.1,510.1L401.3,506.5L400.5,502.6L399.8,498.8L399.0,494.6L398.3,490.1L397.5,485.2L396.7,480.4L396.0,475.2L395.2,470.6L394.5,466.6L393.7,464.1L393.0,461.5L392.2,459.0L391.4,457.1L390.7,456.1L389.9,456.0L389.2,455.7L388.4,455.6L387.6,455.6L386.9,455.7L386.1,455.7L385.4,456.2L384.6,457.1L383.9,458.3L383.1,459.4L382.3,459.9L381.6,459.9L380.8,459.4L380.1,459.1L379.3,458.5L378.5,458.0L377.8,457.6L377.0,457.5L376.3,457.6L375.5,457.7L374.7,457.9L374.0,458.1L373.2,458.7L372.5,458.8L371.7,459.1L371.0,459.2L370.2,459.6L369.4,460.1L368.7,460.4L367.9,460.8L367.2,461.0L366.4,461.2L365.6,461.5L364.9,461.6L364.1,462.1L363.4,462.1L362.6,462.3L361.8,462.4L361.1,462.6L360.3,462.9L359.6,462.9L358.8,462.8L358.1,462.6L357.3,462.6L356.5,462.8L355.8,462.9L355.0,462.9L354.3,462.8L353.5,463.1L352.7,463.1L352.0,463.1L351.2,463.0L350.5,463.2L349.7,463.4L349.0,463.6L348.2,463.4L347.4,463.4L346.7,463.4L345.9,463.5L345.2,463.4L344.4,463.5Z" fill="#0df2f2" stroke="#0df2f2" stroke-width="0.6" stroke-linejoin="round"/>
<path d="M424.0,515.3L425.0,509.5L425.9,504.0L426.9,498.5L427.9,492.8L428.8,487.2L429.8,483.5L430.8,481.9L431.7,481.0L432.7,479.7L433.7,478.5L434.6,477.9L435.6,477.6L436.6,476.9L437.5,476.3L438.5,475.8L439.4,475.6L440.4,475.5L441.4,475.5L442.3,475.7L443.3,476.3L444.3,476.6L445.2,477.5L446.2,479.0L447.2,480.8L448.1,482.8L449.1,485.1L450.1,487.4L451.0,489.7L452.0,492.6" fill="none" stroke="#fff" stroke-width=".7" opacity=".85"/>
<path d="M346.0,450.7L347.1,450.8L348.2,450.5L349.2,450.5L350.3,450.3L351.4,450.3L352.5,451.1L353.6,451.9L354.7,452.3L355.8,452.2L356.8,452.2L357.9,452.6L359.0,452.6L360.1,452.5L361.2,452.4L362.2,452.2L363.3,452.4L364.4,452.5L365.5,452.3L366.6,452.3L367.7,452.6L368.8,452.9L369.8,452.8L370.9,452.9L372.0,453.0" fill="none" stroke="#fff" stroke-width=".6" opacity=".8"/>
<path d="M346.0,460.5L347.1,460.5L348.2,460.6L349.2,460.8L350.3,460.6L351.4,460.4L352.5,460.6L353.6,460.6L354.7,460.3L355.8,460.3L356.8,460.1L357.9,460.0L359.0,460.1L360.1,460.1L361.2,459.6L362.2,459.3L363.3,459.0L364.4,458.6L365.5,458.2L366.6,457.8L367.7,457.4L368.8,456.9L369.8,456.3L370.9,455.7L372.0,455.5" fill="none" stroke="#fff" stroke-width=".6" opacity=".8"/></g>
<rect x="344.4" y="441.7" width="196.5" height="153.3" fill="none" stroke="#707070" stroke-width=".8"/>
<path d="M358.0,595.0v-2.2M358.0,441.7v2.2M415.0,595.0v-2.2M415.0,441.7v2.2M471.8,595.0v-2.2M471.8,441.7v2.2M528.5,595.0v-2.2M528.5,441.7v2.2M344.4,463.6h2.2M540.9,463.6h-2.2M344.4,485.5h2.2M540.9,485.5h-2.2M344.4,507.4h2.2M540.9,507.4h-2.2M344.4,529.3h2.2M540.9,529.3h-2.2M344.4,551.2h2.2M540.9,551.2h-2.2M344.4,573.1h2.2M540.9,573.1h-2.2" stroke="#707070" stroke-width=".7" fill="none"/>
<text x="341.8" y="447.2" font-size="12.9" text-anchor="end">1.5</text>
<text x="341.8" y="469.1" font-size="12.9" text-anchor="end">1</text>
<text x="341.8" y="491.1" font-size="12.9" text-anchor="end">0.5</text>
<text x="341.8" y="513.0" font-size="12.9" text-anchor="end">0</text>
<text x="341.8" y="535.0" font-size="12.9" text-anchor="end">−0.5</text>
<text x="341.8" y="557.0" font-size="12.9" text-anchor="end">−1</text>
<text x="341.8" y="578.9" font-size="12.9" text-anchor="end">−1.5</text>
<text x="341.8" y="600.9" font-size="12.9" text-anchor="end">−2</text>
<text x="358.9" y="609.0" font-size="12.9" text-anchor="middle" textLength="28.1" lengthAdjust="spacingAndGlyphs">1000</text>
<text x="415.8" y="609.0" font-size="12.9" text-anchor="middle" textLength="28.1" lengthAdjust="spacingAndGlyphs">1200</text>
<text x="471.4" y="609.0" font-size="12.9" text-anchor="middle" textLength="28.1" lengthAdjust="spacingAndGlyphs">1400</text>
<text x="526.9" y="609.0" font-size="12.9" text-anchor="middle" textLength="28.1" lengthAdjust="spacingAndGlyphs">1600</text>
<text x="387.2" y="623.4" font-size="15.2" textLength="86.0" lengthAdjust="spacingAndGlyphs">Wavelength</text>
<text x="476.8" y="623.4" font-size="15.2" textLength="33.3" lengthAdjust="spacingAndGlyphs">(nm)</text>
<text transform="translate(293.9,570.5) rotate(-90)" font-size="15.2" textLength="27.6" lengthAdjust="spacingAndGlyphs">SNV</text>
<text transform="translate(293.9,539.4) rotate(-90)" font-size="15.2" textLength="76.1" lengthAdjust="spacingAndGlyphs">normalized</text>
<text transform="translate(311.0,580.6) rotate(-90)" font-size="15.2" textLength="46.1" lengthAdjust="spacingAndGlyphs">diffuse</text>
<text transform="translate(311.0,531.0) rotate(-90)" font-size="15.2" textLength="75.3" lengthAdjust="spacingAndGlyphs">reflectance</text>
<text x="481.2" y="473.4" font-size="15.2" textLength="54.7" lengthAdjust="spacingAndGlyphs">Adipose</text>
</svg></body></html>
